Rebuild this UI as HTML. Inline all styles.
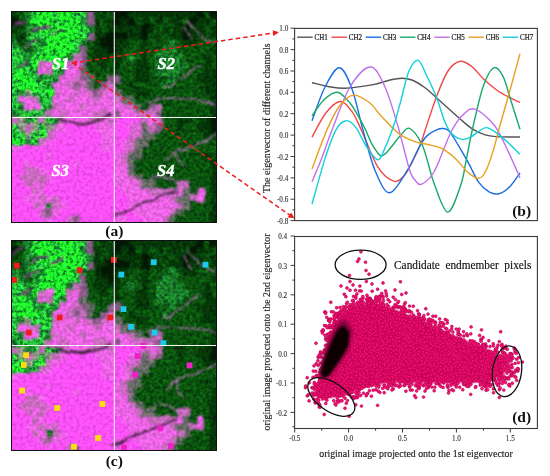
<!DOCTYPE html>
<html><head><meta charset="utf-8"><title>Figure</title><style>
html,body{margin:0;padding:0;background:#fff;}
svg{display:block;}
text{font-family:"Liberation Serif","Times New Roman",serif;fill:#222;}
.tk{font-size:7.2px;fill:#333;stroke:#333;stroke-width:0.12px;}
.lg{font-size:7px;fill:#222;stroke:#222;stroke-width:0.2px;}
.pl{font-size:15.5px;font-weight:bold;fill:#111;}
.yt{font-size:10px;fill:#222;stroke:#222;stroke-width:0.15px;}
.xt{font-size:9.9px;fill:#222;stroke:#222;stroke-width:0.15px;}
.cand{font-size:11.3px;fill:#111;white-space:pre;stroke:#111;stroke-width:0.15px;}
.sl{font-size:16.5px;font-weight:bold;font-style:italic;fill:#fff;stroke:#fff;stroke-width:0.4px;}
</style></head>
<body><svg width="550" height="476" viewBox="0 0 550 476">
<defs>
<filter id="texa" filterUnits="userSpaceOnUse" x="-1" y="-1" width="230" height="236" color-interpolation-filters="sRGB">
<feTurbulence type="fractalNoise" baseFrequency="0.07" numOctaves="2" seed="6" result="dn"/>
<feDisplacementMap in="SourceGraphic" in2="dn" scale="7.0" xChannelSelector="R" yChannelSelector="G" result="disp"/>
<feGaussianBlur in="disp" stdDeviation="1.2" result="b"/>
<feTurbulence type="fractalNoise" baseFrequency="0.3" numOctaves="3" seed="5" result="n"/>
<feColorMatrix in="n" type="matrix" values="1 0 0 0 0  0.75 0.25 0 0 0  0.45 0 0.55 0 0  0 0 0 0 1" result="ng0"/>
<feComponentTransfer in="ng0" result="ng"><feFuncR type="linear" slope="2.0" intercept="-0.5"/><feFuncG type="linear" slope="2.0" intercept="-0.5"/><feFuncB type="linear" slope="2.0" intercept="-0.5"/></feComponentTransfer>
<feComposite in="b" in2="ng" operator="arithmetic" k1="1.2" k2="0.45" k3="0" k4="0" result="tg"/>
<feColorMatrix in="ng" type="matrix" values="1 0 0 0 0  1 0 0 0 0  1 0 0 0 0  0 0 0 0 1" result="ngray"/>
<feComposite in="b" in2="ngray" operator="arithmetic" k1="0.24" k2="0.9" k3="0" k4="0" result="tp"/>
<feComposite in="b" in2="ng" operator="arithmetic" k1="0.85" k2="0.56" k3="0" k4="0" result="td"/>
<feColorMatrix in="b" type="matrix" values="0 0 0 0 0  0 0 0 0 0  0 0 0 0 0  -3 3 0 0 0.3" result="mask"/>
<feColorMatrix in="b" type="matrix" values="0 0 0 0 0  0 0 0 0 0  0 0 0 0 0  -3 3.2 0 0 -1.0" result="maskg"/>
<feComposite in="td" in2="mask" operator="in" result="tdm"/>
<feComposite in="tg" in2="maskg" operator="in" result="tgm"/>
<feComposite in="tdm" in2="tp" operator="over" result="l1"/>
<feComposite in="tgm" in2="l1" operator="over"/>
</filter>
<filter id="texc" filterUnits="userSpaceOnUse" x="-1" y="228" width="230" height="235" color-interpolation-filters="sRGB">
<feTurbulence type="fractalNoise" baseFrequency="0.07" numOctaves="2" seed="6" result="dn"/>
<feDisplacementMap in="SourceGraphic" in2="dn" scale="7.0" xChannelSelector="R" yChannelSelector="G" result="disp"/>
<feGaussianBlur in="disp" stdDeviation="1.2" result="b"/>
<feTurbulence type="fractalNoise" baseFrequency="0.3" numOctaves="3" seed="5" result="n"/>
<feColorMatrix in="n" type="matrix" values="1 0 0 0 0  0.75 0.25 0 0 0  0.45 0 0.55 0 0  0 0 0 0 1" result="ng0"/>
<feComponentTransfer in="ng0" result="ng"><feFuncR type="linear" slope="2.0" intercept="-0.5"/><feFuncG type="linear" slope="2.0" intercept="-0.5"/><feFuncB type="linear" slope="2.0" intercept="-0.5"/></feComponentTransfer>
<feComposite in="b" in2="ng" operator="arithmetic" k1="1.2" k2="0.45" k3="0" k4="0" result="tg"/>
<feColorMatrix in="ng" type="matrix" values="1 0 0 0 0  1 0 0 0 0  1 0 0 0 0  0 0 0 0 1" result="ngray"/>
<feComposite in="b" in2="ngray" operator="arithmetic" k1="0.24" k2="0.9" k3="0" k4="0" result="tp"/>
<feComposite in="b" in2="ng" operator="arithmetic" k1="0.85" k2="0.56" k3="0" k4="0" result="td"/>
<feColorMatrix in="b" type="matrix" values="0 0 0 0 0  0 0 0 0 0  0 0 0 0 0  -3 3 0 0 0.3" result="mask"/>
<feColorMatrix in="b" type="matrix" values="0 0 0 0 0  0 0 0 0 0  0 0 0 0 0  -3 3.2 0 0 -1.0" result="maskg"/>
<feComposite in="td" in2="mask" operator="in" result="tdm"/>
<feComposite in="tg" in2="maskg" operator="in" result="tgm"/>
<feComposite in="tdm" in2="tp" operator="over" result="l1"/>
<feComposite in="tgm" in2="l1" operator="over"/>
</filter>
<filter id="coreblur" x="-50%" y="-50%" width="200%" height="200%"><feGaussianBlur stdDeviation="1.2"/></filter>
<filter id="haloblur" x="-50%" y="-50%" width="200%" height="200%"><feGaussianBlur stdDeviation="2"/></filter>
<marker id="ah" markerWidth="6" markerHeight="6" refX="5" refY="3" orient="auto" markerUnits="userSpaceOnUse"><path d="M0,0 L6,3 L0,6 Z" fill="#ee1c1c"/></marker>
</defs>
<rect width="550" height="476" fill="#fff"/>
<clipPath id="clipa"><rect x="11" y="11" width="206" height="212"/></clipPath>
<g clip-path="url(#clipa)"><g filter="url(#texa)">
<path fill="#053808" d="M-2.7,-3.1h7.4v7.6h-7.4zM4.1,-3.1h7.4v7.6h-7.4zM11.0,-3.1h7.4v7.6h-7.4zM100.3,-3.1h7.4v7.6h-7.4zM127.7,-3.1h7.4v7.6h-7.4zM134.6,-3.1h7.4v7.6h-7.4zM141.5,-3.1h7.4v7.6h-7.4zM148.3,-3.1h7.4v7.6h-7.4zM155.2,-3.1h7.4v7.6h-7.4zM162.1,-3.1h7.4v7.6h-7.4zM168.9,-3.1h7.4v7.6h-7.4zM175.8,-3.1h7.4v7.6h-7.4zM182.7,-3.1h7.4v7.6h-7.4zM189.5,-3.1h7.4v7.6h-7.4zM-2.7,3.9h7.4v7.6h-7.4zM4.1,3.9h7.4v7.6h-7.4zM11.0,3.9h7.4v7.6h-7.4zM100.3,3.9h7.4v7.6h-7.4zM127.7,3.9h7.4v7.6h-7.4zM134.6,3.9h7.4v7.6h-7.4zM141.5,3.9h7.4v7.6h-7.4zM148.3,3.9h7.4v7.6h-7.4zM155.2,3.9h7.4v7.6h-7.4zM162.1,3.9h7.4v7.6h-7.4zM168.9,3.9h7.4v7.6h-7.4zM175.8,3.9h7.4v7.6h-7.4zM182.7,3.9h7.4v7.6h-7.4zM189.5,3.9h7.4v7.6h-7.4zM-2.7,11.0h7.4v7.6h-7.4zM4.1,11.0h7.4v7.6h-7.4zM11.0,11.0h7.4v7.6h-7.4zM100.3,11.0h7.4v7.6h-7.4zM127.7,11.0h7.4v7.6h-7.4zM134.6,11.0h7.4v7.6h-7.4zM141.5,11.0h7.4v7.6h-7.4zM148.3,11.0h7.4v7.6h-7.4zM155.2,11.0h7.4v7.6h-7.4zM162.1,11.0h7.4v7.6h-7.4zM168.9,11.0h7.4v7.6h-7.4zM175.8,11.0h7.4v7.6h-7.4zM182.7,11.0h7.4v7.6h-7.4zM189.5,11.0h7.4v7.6h-7.4zM17.9,18.1h7.4v7.6h-7.4zM93.4,18.1h7.4v7.6h-7.4zM107.1,18.1h7.4v7.6h-7.4zM120.9,18.1h7.4v7.6h-7.4zM141.5,18.1h7.4v7.6h-7.4zM155.2,18.1h7.4v7.6h-7.4zM168.9,18.1h7.4v7.6h-7.4zM175.8,18.1h7.4v7.6h-7.4zM196.4,18.1h7.4v7.6h-7.4zM203.3,18.1h7.4v7.6h-7.4zM-2.7,25.1h7.4v7.6h-7.4zM4.1,25.1h7.4v7.6h-7.4zM11.0,25.1h7.4v7.6h-7.4zM93.4,25.1h7.4v7.6h-7.4zM107.1,25.1h7.4v7.6h-7.4zM114.0,25.1h7.4v7.6h-7.4zM120.9,25.1h7.4v7.6h-7.4zM127.7,25.1h7.4v7.6h-7.4zM134.6,25.1h7.4v7.6h-7.4zM148.3,25.1h7.4v7.6h-7.4zM162.1,25.1h7.4v7.6h-7.4zM175.8,25.1h7.4v7.6h-7.4zM189.5,25.1h7.4v7.6h-7.4zM196.4,25.1h7.4v7.6h-7.4zM210.1,25.1h7.4v7.6h-7.4zM217.0,25.1h7.4v7.6h-7.4zM223.9,25.1h7.4v7.6h-7.4zM17.9,32.2h7.4v7.6h-7.4zM93.4,32.2h7.4v7.6h-7.4zM100.3,32.2h7.4v7.6h-7.4zM127.7,32.2h7.4v7.6h-7.4zM134.6,32.2h7.4v7.6h-7.4zM155.2,32.2h7.4v7.6h-7.4zM168.9,32.2h7.4v7.6h-7.4zM175.8,32.2h7.4v7.6h-7.4zM189.5,32.2h7.4v7.6h-7.4zM196.4,32.2h7.4v7.6h-7.4zM210.1,32.2h7.4v7.6h-7.4zM217.0,32.2h7.4v7.6h-7.4zM223.9,32.2h7.4v7.6h-7.4zM93.4,39.3h7.4v7.6h-7.4zM114.0,39.3h7.4v7.6h-7.4zM120.9,39.3h7.4v7.6h-7.4zM141.5,39.3h7.4v7.6h-7.4zM182.7,39.3h7.4v7.6h-7.4zM189.5,39.3h7.4v7.6h-7.4zM93.4,46.3h7.4v7.6h-7.4zM100.3,46.3h7.4v7.6h-7.4zM114.0,46.3h7.4v7.6h-7.4zM141.5,46.3h7.4v7.6h-7.4zM210.1,46.3h7.4v7.6h-7.4zM217.0,46.3h7.4v7.6h-7.4zM223.9,46.3h7.4v7.6h-7.4zM93.4,53.4h7.4v7.6h-7.4zM100.3,53.4h7.4v7.6h-7.4zM107.1,53.4h7.4v7.6h-7.4zM114.0,53.4h7.4v7.6h-7.4zM141.5,53.4h7.4v7.6h-7.4zM203.3,53.4h7.4v7.6h-7.4zM100.3,60.5h7.4v7.6h-7.4zM114.0,60.5h7.4v7.6h-7.4zM134.6,60.5h7.4v7.6h-7.4zM141.5,60.5h7.4v7.6h-7.4zM203.3,60.5h7.4v7.6h-7.4zM114.0,67.5h7.4v7.6h-7.4zM134.6,67.5h7.4v7.6h-7.4zM141.5,67.5h7.4v7.6h-7.4zM203.3,67.5h7.4v7.6h-7.4zM210.1,67.5h7.4v7.6h-7.4zM217.0,67.5h7.4v7.6h-7.4zM223.9,67.5h7.4v7.6h-7.4zM134.6,74.6h7.4v7.6h-7.4zM141.5,74.6h7.4v7.6h-7.4zM196.4,74.6h7.4v7.6h-7.4zM203.3,74.6h7.4v7.6h-7.4zM210.1,74.6h7.4v7.6h-7.4zM217.0,74.6h7.4v7.6h-7.4zM223.9,74.6h7.4v7.6h-7.4zM127.7,81.7h7.4v7.6h-7.4zM203.3,81.7h7.4v7.6h-7.4zM210.1,81.7h7.4v7.6h-7.4zM217.0,81.7h7.4v7.6h-7.4zM223.9,81.7h7.4v7.6h-7.4zM134.6,88.7h7.4v7.6h-7.4zM141.5,88.7h7.4v7.6h-7.4zM203.3,88.7h7.4v7.6h-7.4zM210.1,88.7h7.4v7.6h-7.4zM217.0,88.7h7.4v7.6h-7.4zM223.9,88.7h7.4v7.6h-7.4zM210.1,95.8h7.4v7.6h-7.4zM217.0,95.8h7.4v7.6h-7.4zM223.9,95.8h7.4v7.6h-7.4zM210.1,102.9h7.4v7.6h-7.4zM217.0,102.9h7.4v7.6h-7.4zM223.9,102.9h7.4v7.6h-7.4zM210.1,109.9h7.4v7.6h-7.4zM217.0,109.9h7.4v7.6h-7.4zM223.9,109.9h7.4v7.6h-7.4zM175.8,117.0h7.4v7.6h-7.4zM182.7,117.0h7.4v7.6h-7.4zM196.4,117.0h7.4v7.6h-7.4zM203.3,117.0h7.4v7.6h-7.4zM175.8,124.1h7.4v7.6h-7.4zM196.4,124.1h7.4v7.6h-7.4zM203.3,124.1h7.4v7.6h-7.4zM203.3,131.1h7.4v7.6h-7.4zM210.1,131.1h7.4v7.6h-7.4zM217.0,131.1h7.4v7.6h-7.4zM223.9,131.1h7.4v7.6h-7.4zM203.3,152.3h7.4v7.6h-7.4zM210.1,159.4h7.4v7.6h-7.4zM217.0,159.4h7.4v7.6h-7.4zM223.9,159.4h7.4v7.6h-7.4zM210.1,166.5h7.4v7.6h-7.4zM217.0,166.5h7.4v7.6h-7.4zM223.9,166.5h7.4v7.6h-7.4zM210.1,173.5h7.4v7.6h-7.4zM217.0,173.5h7.4v7.6h-7.4zM223.9,173.5h7.4v7.6h-7.4zM210.1,180.6h7.4v7.6h-7.4zM217.0,180.6h7.4v7.6h-7.4zM223.9,180.6h7.4v7.6h-7.4zM210.1,187.7h7.4v7.6h-7.4zM217.0,187.7h7.4v7.6h-7.4zM223.9,187.7h7.4v7.6h-7.4zM210.1,194.7h7.4v7.6h-7.4zM217.0,194.7h7.4v7.6h-7.4zM223.9,194.7h7.4v7.6h-7.4zM210.1,201.8h7.4v7.6h-7.4zM217.0,201.8h7.4v7.6h-7.4zM223.9,201.8h7.4v7.6h-7.4zM210.1,208.9h7.4v7.6h-7.4zM217.0,208.9h7.4v7.6h-7.4zM223.9,208.9h7.4v7.6h-7.4zM210.1,215.9h7.4v7.6h-7.4zM217.0,215.9h7.4v7.6h-7.4zM223.9,215.9h7.4v7.6h-7.4zM210.1,223.0h7.4v7.6h-7.4zM217.0,223.0h7.4v7.6h-7.4zM223.9,223.0h7.4v7.6h-7.4zM210.1,230.1h7.4v7.6h-7.4zM217.0,230.1h7.4v7.6h-7.4zM223.9,230.1h7.4v7.6h-7.4z"/>
<path fill="#0a540e" d="M17.9,-3.1h7.4v7.6h-7.4zM93.4,-3.1h7.4v7.6h-7.4zM107.1,-3.1h7.4v7.6h-7.4zM203.3,-3.1h7.4v7.6h-7.4zM17.9,3.9h7.4v7.6h-7.4zM93.4,3.9h7.4v7.6h-7.4zM107.1,3.9h7.4v7.6h-7.4zM203.3,3.9h7.4v7.6h-7.4zM17.9,11.0h7.4v7.6h-7.4zM93.4,11.0h7.4v7.6h-7.4zM107.1,11.0h7.4v7.6h-7.4zM203.3,11.0h7.4v7.6h-7.4zM100.3,18.1h7.4v7.6h-7.4zM134.6,18.1h7.4v7.6h-7.4zM148.3,18.1h7.4v7.6h-7.4zM162.1,18.1h7.4v7.6h-7.4zM182.7,18.1h7.4v7.6h-7.4zM210.1,18.1h7.4v7.6h-7.4zM217.0,18.1h7.4v7.6h-7.4zM223.9,18.1h7.4v7.6h-7.4zM17.9,25.1h7.4v7.6h-7.4zM100.3,25.1h7.4v7.6h-7.4zM155.2,25.1h7.4v7.6h-7.4zM168.9,25.1h7.4v7.6h-7.4zM203.3,25.1h7.4v7.6h-7.4zM-2.7,32.2h7.4v7.6h-7.4zM4.1,32.2h7.4v7.6h-7.4zM11.0,32.2h7.4v7.6h-7.4zM148.3,32.2h7.4v7.6h-7.4zM162.1,32.2h7.4v7.6h-7.4zM203.3,32.2h7.4v7.6h-7.4zM17.9,39.3h7.4v7.6h-7.4zM86.5,39.3h7.4v7.6h-7.4zM127.7,39.3h7.4v7.6h-7.4zM134.6,39.3h7.4v7.6h-7.4zM148.3,39.3h7.4v7.6h-7.4zM155.2,39.3h7.4v7.6h-7.4zM162.1,39.3h7.4v7.6h-7.4zM175.8,39.3h7.4v7.6h-7.4zM196.4,39.3h7.4v7.6h-7.4zM203.3,39.3h7.4v7.6h-7.4zM210.1,39.3h7.4v7.6h-7.4zM217.0,39.3h7.4v7.6h-7.4zM223.9,39.3h7.4v7.6h-7.4zM24.7,46.3h7.4v7.6h-7.4zM86.5,46.3h7.4v7.6h-7.4zM120.9,46.3h7.4v7.6h-7.4zM127.7,46.3h7.4v7.6h-7.4zM134.6,46.3h7.4v7.6h-7.4zM148.3,46.3h7.4v7.6h-7.4zM155.2,46.3h7.4v7.6h-7.4zM175.8,46.3h7.4v7.6h-7.4zM182.7,46.3h7.4v7.6h-7.4zM189.5,46.3h7.4v7.6h-7.4zM196.4,46.3h7.4v7.6h-7.4zM203.3,46.3h7.4v7.6h-7.4zM86.5,53.4h7.4v7.6h-7.4zM120.9,53.4h7.4v7.6h-7.4zM134.6,53.4h7.4v7.6h-7.4zM148.3,53.4h7.4v7.6h-7.4zM182.7,53.4h7.4v7.6h-7.4zM189.5,53.4h7.4v7.6h-7.4zM196.4,53.4h7.4v7.6h-7.4zM210.1,53.4h7.4v7.6h-7.4zM217.0,53.4h7.4v7.6h-7.4zM223.9,53.4h7.4v7.6h-7.4zM86.5,60.5h7.4v7.6h-7.4zM93.4,60.5h7.4v7.6h-7.4zM107.1,60.5h7.4v7.6h-7.4zM120.9,60.5h7.4v7.6h-7.4zM127.7,60.5h7.4v7.6h-7.4zM148.3,60.5h7.4v7.6h-7.4zM189.5,60.5h7.4v7.6h-7.4zM196.4,60.5h7.4v7.6h-7.4zM210.1,60.5h7.4v7.6h-7.4zM217.0,60.5h7.4v7.6h-7.4zM223.9,60.5h7.4v7.6h-7.4zM86.5,67.5h7.4v7.6h-7.4zM93.4,67.5h7.4v7.6h-7.4zM100.3,67.5h7.4v7.6h-7.4zM107.1,67.5h7.4v7.6h-7.4zM120.9,67.5h7.4v7.6h-7.4zM127.7,67.5h7.4v7.6h-7.4zM148.3,67.5h7.4v7.6h-7.4zM182.7,67.5h7.4v7.6h-7.4zM189.5,67.5h7.4v7.6h-7.4zM196.4,67.5h7.4v7.6h-7.4zM93.4,74.6h7.4v7.6h-7.4zM100.3,74.6h7.4v7.6h-7.4zM120.9,74.6h7.4v7.6h-7.4zM127.7,74.6h7.4v7.6h-7.4zM148.3,74.6h7.4v7.6h-7.4zM155.2,74.6h7.4v7.6h-7.4zM162.1,74.6h7.4v7.6h-7.4zM175.8,74.6h7.4v7.6h-7.4zM182.7,74.6h7.4v7.6h-7.4zM189.5,74.6h7.4v7.6h-7.4zM93.4,81.7h7.4v7.6h-7.4zM114.0,81.7h7.4v7.6h-7.4zM120.9,81.7h7.4v7.6h-7.4zM134.6,81.7h7.4v7.6h-7.4zM141.5,81.7h7.4v7.6h-7.4zM148.3,81.7h7.4v7.6h-7.4zM155.2,81.7h7.4v7.6h-7.4zM168.9,81.7h7.4v7.6h-7.4zM175.8,81.7h7.4v7.6h-7.4zM182.7,81.7h7.4v7.6h-7.4zM189.5,81.7h7.4v7.6h-7.4zM196.4,81.7h7.4v7.6h-7.4zM120.9,88.7h7.4v7.6h-7.4zM127.7,88.7h7.4v7.6h-7.4zM148.3,88.7h7.4v7.6h-7.4zM155.2,88.7h7.4v7.6h-7.4zM162.1,88.7h7.4v7.6h-7.4zM168.9,88.7h7.4v7.6h-7.4zM175.8,88.7h7.4v7.6h-7.4zM182.7,88.7h7.4v7.6h-7.4zM189.5,88.7h7.4v7.6h-7.4zM196.4,88.7h7.4v7.6h-7.4zM134.6,95.8h7.4v7.6h-7.4zM141.5,95.8h7.4v7.6h-7.4zM148.3,95.8h7.4v7.6h-7.4zM155.2,95.8h7.4v7.6h-7.4zM162.1,95.8h7.4v7.6h-7.4zM168.9,95.8h7.4v7.6h-7.4zM175.8,95.8h7.4v7.6h-7.4zM182.7,95.8h7.4v7.6h-7.4zM189.5,95.8h7.4v7.6h-7.4zM196.4,95.8h7.4v7.6h-7.4zM203.3,95.8h7.4v7.6h-7.4zM141.5,102.9h7.4v7.6h-7.4zM162.1,102.9h7.4v7.6h-7.4zM168.9,102.9h7.4v7.6h-7.4zM175.8,102.9h7.4v7.6h-7.4zM182.7,102.9h7.4v7.6h-7.4zM189.5,102.9h7.4v7.6h-7.4zM196.4,102.9h7.4v7.6h-7.4zM203.3,102.9h7.4v7.6h-7.4zM162.1,109.9h7.4v7.6h-7.4zM168.9,109.9h7.4v7.6h-7.4zM175.8,109.9h7.4v7.6h-7.4zM182.7,109.9h7.4v7.6h-7.4zM189.5,109.9h7.4v7.6h-7.4zM196.4,109.9h7.4v7.6h-7.4zM203.3,109.9h7.4v7.6h-7.4zM162.1,117.0h7.4v7.6h-7.4zM168.9,117.0h7.4v7.6h-7.4zM189.5,117.0h7.4v7.6h-7.4zM162.1,124.1h7.4v7.6h-7.4zM168.9,124.1h7.4v7.6h-7.4zM182.7,124.1h7.4v7.6h-7.4zM189.5,124.1h7.4v7.6h-7.4zM155.2,131.1h7.4v7.6h-7.4zM162.1,131.1h7.4v7.6h-7.4zM168.9,131.1h7.4v7.6h-7.4zM175.8,131.1h7.4v7.6h-7.4zM182.7,131.1h7.4v7.6h-7.4zM189.5,131.1h7.4v7.6h-7.4zM196.4,131.1h7.4v7.6h-7.4zM148.3,138.2h7.4v7.6h-7.4zM155.2,138.2h7.4v7.6h-7.4zM162.1,138.2h7.4v7.6h-7.4zM168.9,138.2h7.4v7.6h-7.4zM175.8,138.2h7.4v7.6h-7.4zM182.7,138.2h7.4v7.6h-7.4zM189.5,138.2h7.4v7.6h-7.4zM196.4,138.2h7.4v7.6h-7.4zM203.3,138.2h7.4v7.6h-7.4zM210.1,138.2h7.4v7.6h-7.4zM217.0,138.2h7.4v7.6h-7.4zM223.9,138.2h7.4v7.6h-7.4zM141.5,145.3h7.4v7.6h-7.4zM148.3,145.3h7.4v7.6h-7.4zM155.2,145.3h7.4v7.6h-7.4zM162.1,145.3h7.4v7.6h-7.4zM168.9,145.3h7.4v7.6h-7.4zM175.8,145.3h7.4v7.6h-7.4zM182.7,145.3h7.4v7.6h-7.4zM189.5,145.3h7.4v7.6h-7.4zM196.4,145.3h7.4v7.6h-7.4zM203.3,145.3h7.4v7.6h-7.4zM210.1,145.3h7.4v7.6h-7.4zM217.0,145.3h7.4v7.6h-7.4zM223.9,145.3h7.4v7.6h-7.4zM141.5,152.3h7.4v7.6h-7.4zM148.3,152.3h7.4v7.6h-7.4zM155.2,152.3h7.4v7.6h-7.4zM162.1,152.3h7.4v7.6h-7.4zM168.9,152.3h7.4v7.6h-7.4zM175.8,152.3h7.4v7.6h-7.4zM182.7,152.3h7.4v7.6h-7.4zM189.5,152.3h7.4v7.6h-7.4zM196.4,152.3h7.4v7.6h-7.4zM210.1,152.3h7.4v7.6h-7.4zM217.0,152.3h7.4v7.6h-7.4zM223.9,152.3h7.4v7.6h-7.4zM134.6,159.4h7.4v7.6h-7.4zM141.5,159.4h7.4v7.6h-7.4zM148.3,159.4h7.4v7.6h-7.4zM155.2,159.4h7.4v7.6h-7.4zM162.1,159.4h7.4v7.6h-7.4zM168.9,159.4h7.4v7.6h-7.4zM175.8,159.4h7.4v7.6h-7.4zM182.7,159.4h7.4v7.6h-7.4zM189.5,159.4h7.4v7.6h-7.4zM196.4,159.4h7.4v7.6h-7.4zM203.3,159.4h7.4v7.6h-7.4zM134.6,166.5h7.4v7.6h-7.4zM141.5,166.5h7.4v7.6h-7.4zM148.3,166.5h7.4v7.6h-7.4zM155.2,166.5h7.4v7.6h-7.4zM162.1,166.5h7.4v7.6h-7.4zM168.9,166.5h7.4v7.6h-7.4zM175.8,166.5h7.4v7.6h-7.4zM182.7,166.5h7.4v7.6h-7.4zM189.5,166.5h7.4v7.6h-7.4zM196.4,166.5h7.4v7.6h-7.4zM203.3,166.5h7.4v7.6h-7.4zM141.5,173.5h7.4v7.6h-7.4zM148.3,173.5h7.4v7.6h-7.4zM155.2,173.5h7.4v7.6h-7.4zM162.1,173.5h7.4v7.6h-7.4zM168.9,173.5h7.4v7.6h-7.4zM175.8,173.5h7.4v7.6h-7.4zM182.7,173.5h7.4v7.6h-7.4zM189.5,173.5h7.4v7.6h-7.4zM196.4,173.5h7.4v7.6h-7.4zM203.3,173.5h7.4v7.6h-7.4zM155.2,180.6h7.4v7.6h-7.4zM162.1,180.6h7.4v7.6h-7.4zM168.9,180.6h7.4v7.6h-7.4zM189.5,180.6h7.4v7.6h-7.4zM196.4,180.6h7.4v7.6h-7.4zM203.3,180.6h7.4v7.6h-7.4zM189.5,187.7h7.4v7.6h-7.4zM203.3,187.7h7.4v7.6h-7.4zM203.3,194.7h7.4v7.6h-7.4zM189.5,201.8h7.4v7.6h-7.4zM196.4,201.8h7.4v7.6h-7.4zM203.3,201.8h7.4v7.6h-7.4zM182.7,208.9h7.4v7.6h-7.4zM189.5,208.9h7.4v7.6h-7.4zM196.4,208.9h7.4v7.6h-7.4zM203.3,208.9h7.4v7.6h-7.4zM175.8,215.9h7.4v7.6h-7.4zM182.7,215.9h7.4v7.6h-7.4zM189.5,215.9h7.4v7.6h-7.4zM196.4,215.9h7.4v7.6h-7.4zM203.3,215.9h7.4v7.6h-7.4zM175.8,223.0h7.4v7.6h-7.4zM182.7,223.0h7.4v7.6h-7.4zM189.5,223.0h7.4v7.6h-7.4zM196.4,223.0h7.4v7.6h-7.4zM203.3,223.0h7.4v7.6h-7.4zM175.8,230.1h7.4v7.6h-7.4zM182.7,230.1h7.4v7.6h-7.4zM189.5,230.1h7.4v7.6h-7.4zM196.4,230.1h7.4v7.6h-7.4zM203.3,230.1h7.4v7.6h-7.4z"/>
<path fill="#197d2a" d="M24.7,-3.1h7.4v7.6h-7.4zM24.7,3.9h7.4v7.6h-7.4zM24.7,11.0h7.4v7.6h-7.4zM24.7,18.1h7.4v7.6h-7.4zM79.7,18.1h7.4v7.6h-7.4zM24.7,25.1h7.4v7.6h-7.4zM31.6,25.1h7.4v7.6h-7.4zM86.5,25.1h7.4v7.6h-7.4zM24.7,32.2h7.4v7.6h-7.4zM-2.7,39.3h7.4v7.6h-7.4zM4.1,39.3h7.4v7.6h-7.4zM11.0,39.3h7.4v7.6h-7.4zM24.7,39.3h7.4v7.6h-7.4zM38.5,39.3h7.4v7.6h-7.4zM79.7,39.3h7.4v7.6h-7.4zM168.9,39.3h7.4v7.6h-7.4zM17.9,46.3h7.4v7.6h-7.4zM31.6,46.3h7.4v7.6h-7.4zM162.1,46.3h7.4v7.6h-7.4zM168.9,46.3h7.4v7.6h-7.4zM24.7,53.4h7.4v7.6h-7.4zM65.9,53.4h7.4v7.6h-7.4zM127.7,53.4h7.4v7.6h-7.4zM155.2,53.4h7.4v7.6h-7.4zM162.1,53.4h7.4v7.6h-7.4zM168.9,53.4h7.4v7.6h-7.4zM175.8,53.4h7.4v7.6h-7.4zM24.7,60.5h7.4v7.6h-7.4zM155.2,60.5h7.4v7.6h-7.4zM162.1,60.5h7.4v7.6h-7.4zM168.9,60.5h7.4v7.6h-7.4zM175.8,60.5h7.4v7.6h-7.4zM182.7,60.5h7.4v7.6h-7.4zM31.6,67.5h7.4v7.6h-7.4zM59.1,67.5h7.4v7.6h-7.4zM155.2,67.5h7.4v7.6h-7.4zM162.1,67.5h7.4v7.6h-7.4zM168.9,67.5h7.4v7.6h-7.4zM175.8,67.5h7.4v7.6h-7.4zM38.5,74.6h7.4v7.6h-7.4zM52.2,74.6h7.4v7.6h-7.4zM168.9,74.6h7.4v7.6h-7.4zM45.3,81.7h7.4v7.6h-7.4zM162.1,81.7h7.4v7.6h-7.4zM17.9,88.7h7.4v7.6h-7.4zM17.9,102.9h7.4v7.6h-7.4zM45.3,102.9h7.4v7.6h-7.4zM-2.7,109.9h7.4v7.6h-7.4zM4.1,109.9h7.4v7.6h-7.4zM11.0,109.9h7.4v7.6h-7.4zM24.7,117.0h7.4v7.6h-7.4zM52.2,117.0h7.4v7.6h-7.4zM24.7,138.2h7.4v7.6h-7.4zM45.3,201.8h7.4v7.6h-7.4z"/>
<path fill="#23b937" d="M31.6,-3.1h7.4v7.6h-7.4zM52.2,-3.1h7.4v7.6h-7.4zM72.8,-3.1h7.4v7.6h-7.4zM79.7,-3.1h7.4v7.6h-7.4zM31.6,3.9h7.4v7.6h-7.4zM52.2,3.9h7.4v7.6h-7.4zM72.8,3.9h7.4v7.6h-7.4zM79.7,3.9h7.4v7.6h-7.4zM31.6,11.0h7.4v7.6h-7.4zM52.2,11.0h7.4v7.6h-7.4zM72.8,11.0h7.4v7.6h-7.4zM79.7,11.0h7.4v7.6h-7.4zM52.2,18.1h7.4v7.6h-7.4zM45.3,25.1h7.4v7.6h-7.4zM79.7,25.1h7.4v7.6h-7.4zM31.6,32.2h7.4v7.6h-7.4zM38.5,32.2h7.4v7.6h-7.4zM79.7,32.2h7.4v7.6h-7.4zM31.6,39.3h7.4v7.6h-7.4zM72.8,39.3h7.4v7.6h-7.4zM-2.7,46.3h7.4v7.6h-7.4zM4.1,46.3h7.4v7.6h-7.4zM11.0,46.3h7.4v7.6h-7.4zM38.5,46.3h7.4v7.6h-7.4zM72.8,46.3h7.4v7.6h-7.4zM-2.7,53.4h7.4v7.6h-7.4zM4.1,53.4h7.4v7.6h-7.4zM11.0,53.4h7.4v7.6h-7.4zM17.9,53.4h7.4v7.6h-7.4zM31.6,53.4h7.4v7.6h-7.4zM-2.7,60.5h7.4v7.6h-7.4zM4.1,60.5h7.4v7.6h-7.4zM11.0,60.5h7.4v7.6h-7.4zM17.9,60.5h7.4v7.6h-7.4zM-2.7,67.5h7.4v7.6h-7.4zM4.1,67.5h7.4v7.6h-7.4zM11.0,67.5h7.4v7.6h-7.4zM24.7,67.5h7.4v7.6h-7.4zM52.2,67.5h7.4v7.6h-7.4zM-2.7,74.6h7.4v7.6h-7.4zM4.1,74.6h7.4v7.6h-7.4zM11.0,74.6h7.4v7.6h-7.4zM31.6,74.6h7.4v7.6h-7.4zM45.3,74.6h7.4v7.6h-7.4zM-2.7,81.7h7.4v7.6h-7.4zM4.1,81.7h7.4v7.6h-7.4zM11.0,81.7h7.4v7.6h-7.4zM38.5,81.7h7.4v7.6h-7.4zM-2.7,88.7h7.4v7.6h-7.4zM4.1,88.7h7.4v7.6h-7.4zM11.0,88.7h7.4v7.6h-7.4zM31.6,88.7h7.4v7.6h-7.4zM38.5,88.7h7.4v7.6h-7.4zM-2.7,95.8h7.4v7.6h-7.4zM4.1,95.8h7.4v7.6h-7.4zM11.0,95.8h7.4v7.6h-7.4zM38.5,95.8h7.4v7.6h-7.4zM45.3,95.8h7.4v7.6h-7.4zM-2.7,102.9h7.4v7.6h-7.4zM4.1,102.9h7.4v7.6h-7.4zM11.0,102.9h7.4v7.6h-7.4zM38.5,102.9h7.4v7.6h-7.4zM17.9,109.9h7.4v7.6h-7.4zM24.7,109.9h7.4v7.6h-7.4zM31.6,109.9h7.4v7.6h-7.4zM38.5,109.9h7.4v7.6h-7.4zM31.6,117.0h7.4v7.6h-7.4zM45.3,117.0h7.4v7.6h-7.4zM-2.7,124.1h7.4v7.6h-7.4zM4.1,124.1h7.4v7.6h-7.4zM11.0,124.1h7.4v7.6h-7.4zM38.5,124.1h7.4v7.6h-7.4zM-2.7,131.1h7.4v7.6h-7.4zM4.1,131.1h7.4v7.6h-7.4zM11.0,131.1h7.4v7.6h-7.4zM17.9,131.1h7.4v7.6h-7.4zM31.6,131.1h7.4v7.6h-7.4zM31.6,138.2h7.4v7.6h-7.4z"/>
<path fill="#1ce128" d="M38.5,-3.1h7.4v7.6h-7.4zM45.3,-3.1h7.4v7.6h-7.4zM59.1,-3.1h7.4v7.6h-7.4zM65.9,-3.1h7.4v7.6h-7.4zM38.5,3.9h7.4v7.6h-7.4zM45.3,3.9h7.4v7.6h-7.4zM59.1,3.9h7.4v7.6h-7.4zM65.9,3.9h7.4v7.6h-7.4zM38.5,11.0h7.4v7.6h-7.4zM45.3,11.0h7.4v7.6h-7.4zM59.1,11.0h7.4v7.6h-7.4zM65.9,11.0h7.4v7.6h-7.4zM31.6,18.1h7.4v7.6h-7.4zM38.5,18.1h7.4v7.6h-7.4zM45.3,18.1h7.4v7.6h-7.4zM59.1,18.1h7.4v7.6h-7.4zM65.9,18.1h7.4v7.6h-7.4zM72.8,18.1h7.4v7.6h-7.4zM38.5,25.1h7.4v7.6h-7.4zM52.2,25.1h7.4v7.6h-7.4zM59.1,25.1h7.4v7.6h-7.4zM65.9,25.1h7.4v7.6h-7.4zM72.8,25.1h7.4v7.6h-7.4zM45.3,32.2h7.4v7.6h-7.4zM52.2,32.2h7.4v7.6h-7.4zM59.1,32.2h7.4v7.6h-7.4zM65.9,32.2h7.4v7.6h-7.4zM72.8,32.2h7.4v7.6h-7.4zM45.3,39.3h7.4v7.6h-7.4zM52.2,39.3h7.4v7.6h-7.4zM59.1,39.3h7.4v7.6h-7.4zM65.9,39.3h7.4v7.6h-7.4zM45.3,46.3h7.4v7.6h-7.4zM52.2,46.3h7.4v7.6h-7.4zM59.1,46.3h7.4v7.6h-7.4zM65.9,46.3h7.4v7.6h-7.4zM38.5,53.4h7.4v7.6h-7.4zM45.3,53.4h7.4v7.6h-7.4zM52.2,53.4h7.4v7.6h-7.4zM59.1,53.4h7.4v7.6h-7.4zM31.6,60.5h7.4v7.6h-7.4zM52.2,60.5h7.4v7.6h-7.4zM59.1,60.5h7.4v7.6h-7.4zM17.9,67.5h7.4v7.6h-7.4zM17.9,74.6h7.4v7.6h-7.4zM24.7,74.6h7.4v7.6h-7.4zM17.9,81.7h7.4v7.6h-7.4zM24.7,81.7h7.4v7.6h-7.4zM31.6,81.7h7.4v7.6h-7.4zM45.3,88.7h7.4v7.6h-7.4zM38.5,131.1h7.4v7.6h-7.4zM-2.7,138.2h7.4v7.6h-7.4zM4.1,138.2h7.4v7.6h-7.4zM11.0,138.2h7.4v7.6h-7.4zM17.9,138.2h7.4v7.6h-7.4z"/>
<path fill="#875a87" d="M86.5,-3.1h7.4v7.6h-7.4zM86.5,3.9h7.4v7.6h-7.4zM86.5,11.0h7.4v7.6h-7.4zM86.5,18.1h7.4v7.6h-7.4zM86.5,32.2h7.4v7.6h-7.4zM79.7,46.3h7.4v7.6h-7.4zM79.7,53.4h7.4v7.6h-7.4zM79.7,60.5h7.4v7.6h-7.4zM79.7,74.6h7.4v7.6h-7.4zM107.1,74.6h7.4v7.6h-7.4zM114.0,74.6h7.4v7.6h-7.4zM72.8,81.7h7.4v7.6h-7.4zM100.3,81.7h7.4v7.6h-7.4zM93.4,88.7h7.4v7.6h-7.4zM148.3,102.9h7.4v7.6h-7.4zM114.0,109.9h7.4v7.6h-7.4zM155.2,109.9h7.4v7.6h-7.4zM155.2,124.1h7.4v7.6h-7.4zM45.3,208.9h7.4v7.6h-7.4zM72.8,215.9h7.4v7.6h-7.4zM72.8,223.0h7.4v7.6h-7.4zM72.8,230.1h7.4v7.6h-7.4z"/>
<path fill="#021804" d="M114.0,-3.1h7.4v7.6h-7.4zM120.9,-3.1h7.4v7.6h-7.4zM196.4,-3.1h7.4v7.6h-7.4zM210.1,-3.1h7.4v7.6h-7.4zM217.0,-3.1h7.4v7.6h-7.4zM223.9,-3.1h7.4v7.6h-7.4zM114.0,3.9h7.4v7.6h-7.4zM120.9,3.9h7.4v7.6h-7.4zM196.4,3.9h7.4v7.6h-7.4zM210.1,3.9h7.4v7.6h-7.4zM217.0,3.9h7.4v7.6h-7.4zM223.9,3.9h7.4v7.6h-7.4zM114.0,11.0h7.4v7.6h-7.4zM120.9,11.0h7.4v7.6h-7.4zM196.4,11.0h7.4v7.6h-7.4zM210.1,11.0h7.4v7.6h-7.4zM217.0,11.0h7.4v7.6h-7.4zM223.9,11.0h7.4v7.6h-7.4zM-2.7,18.1h7.4v7.6h-7.4zM4.1,18.1h7.4v7.6h-7.4zM11.0,18.1h7.4v7.6h-7.4zM114.0,18.1h7.4v7.6h-7.4zM127.7,18.1h7.4v7.6h-7.4zM189.5,18.1h7.4v7.6h-7.4zM141.5,25.1h7.4v7.6h-7.4zM182.7,25.1h7.4v7.6h-7.4zM107.1,32.2h7.4v7.6h-7.4zM114.0,32.2h7.4v7.6h-7.4zM120.9,32.2h7.4v7.6h-7.4zM141.5,32.2h7.4v7.6h-7.4zM182.7,32.2h7.4v7.6h-7.4zM100.3,39.3h7.4v7.6h-7.4zM107.1,39.3h7.4v7.6h-7.4zM107.1,46.3h7.4v7.6h-7.4zM210.1,117.0h7.4v7.6h-7.4zM217.0,117.0h7.4v7.6h-7.4zM223.9,117.0h7.4v7.6h-7.4zM210.1,124.1h7.4v7.6h-7.4zM217.0,124.1h7.4v7.6h-7.4zM223.9,124.1h7.4v7.6h-7.4z"/>
<path fill="#c468ba" d="M72.8,53.4h7.4v7.6h-7.4zM38.5,60.5h7.4v7.6h-7.4zM65.9,60.5h7.4v7.6h-7.4zM45.3,67.5h7.4v7.6h-7.4zM72.8,74.6h7.4v7.6h-7.4zM65.9,81.7h7.4v7.6h-7.4zM79.7,81.7h7.4v7.6h-7.4zM107.1,81.7h7.4v7.6h-7.4zM52.2,88.7h7.4v7.6h-7.4zM72.8,88.7h7.4v7.6h-7.4zM86.5,88.7h7.4v7.6h-7.4zM100.3,88.7h7.4v7.6h-7.4zM31.6,95.8h7.4v7.6h-7.4zM65.9,95.8h7.4v7.6h-7.4zM93.4,95.8h7.4v7.6h-7.4zM114.0,95.8h7.4v7.6h-7.4zM52.2,102.9h7.4v7.6h-7.4zM79.7,102.9h7.4v7.6h-7.4zM127.7,102.9h7.4v7.6h-7.4zM155.2,102.9h7.4v7.6h-7.4zM45.3,109.9h7.4v7.6h-7.4zM59.1,109.9h7.4v7.6h-7.4zM93.4,109.9h7.4v7.6h-7.4zM100.3,109.9h7.4v7.6h-7.4zM134.6,109.9h7.4v7.6h-7.4zM141.5,109.9h7.4v7.6h-7.4zM148.3,109.9h7.4v7.6h-7.4zM-2.7,117.0h7.4v7.6h-7.4zM4.1,117.0h7.4v7.6h-7.4zM11.0,117.0h7.4v7.6h-7.4zM38.5,117.0h7.4v7.6h-7.4zM59.1,117.0h7.4v7.6h-7.4zM86.5,117.0h7.4v7.6h-7.4zM93.4,117.0h7.4v7.6h-7.4zM107.1,117.0h7.4v7.6h-7.4zM141.5,117.0h7.4v7.6h-7.4zM155.2,117.0h7.4v7.6h-7.4zM24.7,124.1h7.4v7.6h-7.4zM52.2,124.1h7.4v7.6h-7.4zM148.3,124.1h7.4v7.6h-7.4zM45.3,131.1h7.4v7.6h-7.4zM134.6,131.1h7.4v7.6h-7.4zM38.5,138.2h7.4v7.6h-7.4zM127.7,138.2h7.4v7.6h-7.4zM127.7,145.3h7.4v7.6h-7.4zM120.9,152.3h7.4v7.6h-7.4zM120.9,159.4h7.4v7.6h-7.4zM24.7,166.5h7.4v7.6h-7.4zM31.6,166.5h7.4v7.6h-7.4zM17.9,173.5h7.4v7.6h-7.4zM24.7,173.5h7.4v7.6h-7.4zM31.6,173.5h7.4v7.6h-7.4zM38.5,173.5h7.4v7.6h-7.4zM127.7,173.5h7.4v7.6h-7.4zM24.7,180.6h7.4v7.6h-7.4zM38.5,180.6h7.4v7.6h-7.4zM134.6,180.6h7.4v7.6h-7.4zM175.8,180.6h7.4v7.6h-7.4zM182.7,180.6h7.4v7.6h-7.4zM31.6,187.7h7.4v7.6h-7.4zM148.3,187.7h7.4v7.6h-7.4zM155.2,187.7h7.4v7.6h-7.4zM162.1,187.7h7.4v7.6h-7.4zM168.9,187.7h7.4v7.6h-7.4zM38.5,194.7h7.4v7.6h-7.4zM52.2,194.7h7.4v7.6h-7.4zM168.9,194.7h7.4v7.6h-7.4zM189.5,194.7h7.4v7.6h-7.4zM31.6,201.8h7.4v7.6h-7.4zM52.2,201.8h7.4v7.6h-7.4zM175.8,201.8h7.4v7.6h-7.4zM38.5,208.9h7.4v7.6h-7.4zM168.9,208.9h7.4v7.6h-7.4zM65.9,215.9h7.4v7.6h-7.4zM162.1,215.9h7.4v7.6h-7.4zM65.9,223.0h7.4v7.6h-7.4zM162.1,223.0h7.4v7.6h-7.4zM65.9,230.1h7.4v7.6h-7.4zM162.1,230.1h7.4v7.6h-7.4z"/>
<path fill="#e862e2" d="M45.3,60.5h7.4v7.6h-7.4zM72.8,60.5h7.4v7.6h-7.4zM38.5,67.5h7.4v7.6h-7.4zM65.9,67.5h7.4v7.6h-7.4zM72.8,67.5h7.4v7.6h-7.4zM59.1,74.6h7.4v7.6h-7.4zM65.9,74.6h7.4v7.6h-7.4zM52.2,81.7h7.4v7.6h-7.4zM59.1,81.7h7.4v7.6h-7.4zM59.1,88.7h7.4v7.6h-7.4zM65.9,88.7h7.4v7.6h-7.4zM79.7,88.7h7.4v7.6h-7.4zM107.1,88.7h7.4v7.6h-7.4zM17.9,95.8h7.4v7.6h-7.4zM24.7,95.8h7.4v7.6h-7.4zM52.2,95.8h7.4v7.6h-7.4zM59.1,95.8h7.4v7.6h-7.4zM72.8,95.8h7.4v7.6h-7.4zM79.7,95.8h7.4v7.6h-7.4zM86.5,95.8h7.4v7.6h-7.4zM100.3,95.8h7.4v7.6h-7.4zM107.1,95.8h7.4v7.6h-7.4zM24.7,102.9h7.4v7.6h-7.4zM31.6,102.9h7.4v7.6h-7.4zM59.1,102.9h7.4v7.6h-7.4zM65.9,102.9h7.4v7.6h-7.4zM72.8,102.9h7.4v7.6h-7.4zM86.5,102.9h7.4v7.6h-7.4zM93.4,102.9h7.4v7.6h-7.4zM100.3,102.9h7.4v7.6h-7.4zM107.1,102.9h7.4v7.6h-7.4zM114.0,102.9h7.4v7.6h-7.4zM120.9,102.9h7.4v7.6h-7.4zM52.2,109.9h7.4v7.6h-7.4zM65.9,109.9h7.4v7.6h-7.4zM72.8,109.9h7.4v7.6h-7.4zM79.7,109.9h7.4v7.6h-7.4zM86.5,109.9h7.4v7.6h-7.4zM107.1,109.9h7.4v7.6h-7.4zM120.9,109.9h7.4v7.6h-7.4zM127.7,109.9h7.4v7.6h-7.4zM65.9,117.0h7.4v7.6h-7.4zM72.8,117.0h7.4v7.6h-7.4zM79.7,117.0h7.4v7.6h-7.4zM100.3,117.0h7.4v7.6h-7.4zM148.3,117.0h7.4v7.6h-7.4zM59.1,124.1h7.4v7.6h-7.4zM93.4,124.1h7.4v7.6h-7.4zM100.3,124.1h7.4v7.6h-7.4zM107.1,124.1h7.4v7.6h-7.4zM127.7,124.1h7.4v7.6h-7.4zM134.6,124.1h7.4v7.6h-7.4zM52.2,131.1h7.4v7.6h-7.4zM100.3,131.1h7.4v7.6h-7.4zM107.1,131.1h7.4v7.6h-7.4zM127.7,131.1h7.4v7.6h-7.4zM45.3,138.2h7.4v7.6h-7.4zM100.3,138.2h7.4v7.6h-7.4zM107.1,138.2h7.4v7.6h-7.4zM120.9,138.2h7.4v7.6h-7.4zM-2.7,145.3h7.4v7.6h-7.4zM4.1,145.3h7.4v7.6h-7.4zM11.0,145.3h7.4v7.6h-7.4zM100.3,145.3h7.4v7.6h-7.4zM107.1,145.3h7.4v7.6h-7.4zM120.9,145.3h7.4v7.6h-7.4zM45.3,152.3h7.4v7.6h-7.4zM114.0,152.3h7.4v7.6h-7.4zM24.7,159.4h7.4v7.6h-7.4zM72.8,159.4h7.4v7.6h-7.4zM114.0,159.4h7.4v7.6h-7.4zM38.5,166.5h7.4v7.6h-7.4zM114.0,166.5h7.4v7.6h-7.4zM120.9,166.5h7.4v7.6h-7.4zM45.3,173.5h7.4v7.6h-7.4zM114.0,173.5h7.4v7.6h-7.4zM120.9,173.5h7.4v7.6h-7.4zM31.6,180.6h7.4v7.6h-7.4zM114.0,180.6h7.4v7.6h-7.4zM120.9,180.6h7.4v7.6h-7.4zM127.7,180.6h7.4v7.6h-7.4zM38.5,187.7h7.4v7.6h-7.4zM120.9,187.7h7.4v7.6h-7.4zM127.7,187.7h7.4v7.6h-7.4zM134.6,187.7h7.4v7.6h-7.4zM141.5,187.7h7.4v7.6h-7.4zM175.8,187.7h7.4v7.6h-7.4zM196.4,187.7h7.4v7.6h-7.4zM24.7,194.7h7.4v7.6h-7.4zM31.6,194.7h7.4v7.6h-7.4zM45.3,194.7h7.4v7.6h-7.4zM127.7,194.7h7.4v7.6h-7.4zM134.6,194.7h7.4v7.6h-7.4zM141.5,194.7h7.4v7.6h-7.4zM148.3,194.7h7.4v7.6h-7.4zM155.2,194.7h7.4v7.6h-7.4zM162.1,194.7h7.4v7.6h-7.4zM196.4,194.7h7.4v7.6h-7.4zM38.5,201.8h7.4v7.6h-7.4zM59.1,201.8h7.4v7.6h-7.4zM127.7,201.8h7.4v7.6h-7.4zM134.6,201.8h7.4v7.6h-7.4zM141.5,201.8h7.4v7.6h-7.4zM148.3,201.8h7.4v7.6h-7.4zM155.2,201.8h7.4v7.6h-7.4zM162.1,201.8h7.4v7.6h-7.4zM168.9,201.8h7.4v7.6h-7.4zM52.2,208.9h7.4v7.6h-7.4zM114.0,208.9h7.4v7.6h-7.4zM134.6,208.9h7.4v7.6h-7.4zM141.5,208.9h7.4v7.6h-7.4zM148.3,208.9h7.4v7.6h-7.4zM155.2,208.9h7.4v7.6h-7.4zM162.1,208.9h7.4v7.6h-7.4zM45.3,215.9h7.4v7.6h-7.4zM114.0,215.9h7.4v7.6h-7.4zM120.9,215.9h7.4v7.6h-7.4zM141.5,215.9h7.4v7.6h-7.4zM148.3,215.9h7.4v7.6h-7.4zM155.2,215.9h7.4v7.6h-7.4zM45.3,223.0h7.4v7.6h-7.4zM114.0,223.0h7.4v7.6h-7.4zM120.9,223.0h7.4v7.6h-7.4zM141.5,223.0h7.4v7.6h-7.4zM148.3,223.0h7.4v7.6h-7.4zM155.2,223.0h7.4v7.6h-7.4zM45.3,230.1h7.4v7.6h-7.4zM114.0,230.1h7.4v7.6h-7.4zM120.9,230.1h7.4v7.6h-7.4zM141.5,230.1h7.4v7.6h-7.4zM148.3,230.1h7.4v7.6h-7.4zM155.2,230.1h7.4v7.6h-7.4z"/>
<path fill="#646964" d="M79.7,67.5h7.4v7.6h-7.4zM86.5,74.6h7.4v7.6h-7.4zM86.5,81.7h7.4v7.6h-7.4zM114.0,88.7h7.4v7.6h-7.4zM120.9,95.8h7.4v7.6h-7.4zM127.7,95.8h7.4v7.6h-7.4zM134.6,102.9h7.4v7.6h-7.4zM141.5,124.1h7.4v7.6h-7.4zM141.5,131.1h7.4v7.6h-7.4zM148.3,131.1h7.4v7.6h-7.4zM134.6,138.2h7.4v7.6h-7.4zM141.5,138.2h7.4v7.6h-7.4zM134.6,145.3h7.4v7.6h-7.4zM127.7,152.3h7.4v7.6h-7.4zM134.6,152.3h7.4v7.6h-7.4zM127.7,159.4h7.4v7.6h-7.4zM127.7,166.5h7.4v7.6h-7.4zM134.6,173.5h7.4v7.6h-7.4zM141.5,180.6h7.4v7.6h-7.4zM148.3,180.6h7.4v7.6h-7.4zM182.7,187.7h7.4v7.6h-7.4zM175.8,194.7h7.4v7.6h-7.4zM182.7,194.7h7.4v7.6h-7.4zM182.7,201.8h7.4v7.6h-7.4zM175.8,208.9h7.4v7.6h-7.4zM168.9,215.9h7.4v7.6h-7.4zM168.9,223.0h7.4v7.6h-7.4zM168.9,230.1h7.4v7.6h-7.4z"/>
<path fill="#8c9682" d="M24.7,88.7h7.4v7.6h-7.4zM17.9,117.0h7.4v7.6h-7.4zM17.9,124.1h7.4v7.6h-7.4zM31.6,124.1h7.4v7.6h-7.4zM45.3,124.1h7.4v7.6h-7.4zM24.7,131.1h7.4v7.6h-7.4z"/>
<path fill="#f84ef4" d="M114.0,117.0h7.4v7.6h-7.4zM120.9,117.0h7.4v7.6h-7.4zM127.7,117.0h7.4v7.6h-7.4zM134.6,117.0h7.4v7.6h-7.4zM65.9,124.1h7.4v7.6h-7.4zM72.8,124.1h7.4v7.6h-7.4zM79.7,124.1h7.4v7.6h-7.4zM86.5,124.1h7.4v7.6h-7.4zM114.0,124.1h7.4v7.6h-7.4zM120.9,124.1h7.4v7.6h-7.4zM59.1,131.1h7.4v7.6h-7.4zM65.9,131.1h7.4v7.6h-7.4zM72.8,131.1h7.4v7.6h-7.4zM79.7,131.1h7.4v7.6h-7.4zM86.5,131.1h7.4v7.6h-7.4zM93.4,131.1h7.4v7.6h-7.4zM114.0,131.1h7.4v7.6h-7.4zM120.9,131.1h7.4v7.6h-7.4zM52.2,138.2h7.4v7.6h-7.4zM59.1,138.2h7.4v7.6h-7.4zM65.9,138.2h7.4v7.6h-7.4zM72.8,138.2h7.4v7.6h-7.4zM79.7,138.2h7.4v7.6h-7.4zM86.5,138.2h7.4v7.6h-7.4zM93.4,138.2h7.4v7.6h-7.4zM114.0,138.2h7.4v7.6h-7.4zM17.9,145.3h7.4v7.6h-7.4zM24.7,145.3h7.4v7.6h-7.4zM31.6,145.3h7.4v7.6h-7.4zM38.5,145.3h7.4v7.6h-7.4zM45.3,145.3h7.4v7.6h-7.4zM52.2,145.3h7.4v7.6h-7.4zM59.1,145.3h7.4v7.6h-7.4zM65.9,145.3h7.4v7.6h-7.4zM72.8,145.3h7.4v7.6h-7.4zM79.7,145.3h7.4v7.6h-7.4zM86.5,145.3h7.4v7.6h-7.4zM93.4,145.3h7.4v7.6h-7.4zM114.0,145.3h7.4v7.6h-7.4zM-2.7,152.3h7.4v7.6h-7.4zM4.1,152.3h7.4v7.6h-7.4zM11.0,152.3h7.4v7.6h-7.4zM17.9,152.3h7.4v7.6h-7.4zM24.7,152.3h7.4v7.6h-7.4zM31.6,152.3h7.4v7.6h-7.4zM38.5,152.3h7.4v7.6h-7.4zM52.2,152.3h7.4v7.6h-7.4zM59.1,152.3h7.4v7.6h-7.4zM65.9,152.3h7.4v7.6h-7.4zM72.8,152.3h7.4v7.6h-7.4zM79.7,152.3h7.4v7.6h-7.4zM86.5,152.3h7.4v7.6h-7.4zM93.4,152.3h7.4v7.6h-7.4zM100.3,152.3h7.4v7.6h-7.4zM107.1,152.3h7.4v7.6h-7.4zM-2.7,159.4h7.4v7.6h-7.4zM4.1,159.4h7.4v7.6h-7.4zM11.0,159.4h7.4v7.6h-7.4zM17.9,159.4h7.4v7.6h-7.4zM31.6,159.4h7.4v7.6h-7.4zM38.5,159.4h7.4v7.6h-7.4zM45.3,159.4h7.4v7.6h-7.4zM52.2,159.4h7.4v7.6h-7.4zM59.1,159.4h7.4v7.6h-7.4zM65.9,159.4h7.4v7.6h-7.4zM79.7,159.4h7.4v7.6h-7.4zM86.5,159.4h7.4v7.6h-7.4zM93.4,159.4h7.4v7.6h-7.4zM100.3,159.4h7.4v7.6h-7.4zM107.1,159.4h7.4v7.6h-7.4zM-2.7,166.5h7.4v7.6h-7.4zM4.1,166.5h7.4v7.6h-7.4zM11.0,166.5h7.4v7.6h-7.4zM17.9,166.5h7.4v7.6h-7.4zM45.3,166.5h7.4v7.6h-7.4zM52.2,166.5h7.4v7.6h-7.4zM59.1,166.5h7.4v7.6h-7.4zM65.9,166.5h7.4v7.6h-7.4zM72.8,166.5h7.4v7.6h-7.4zM79.7,166.5h7.4v7.6h-7.4zM86.5,166.5h7.4v7.6h-7.4zM93.4,166.5h7.4v7.6h-7.4zM100.3,166.5h7.4v7.6h-7.4zM107.1,166.5h7.4v7.6h-7.4zM-2.7,173.5h7.4v7.6h-7.4zM4.1,173.5h7.4v7.6h-7.4zM11.0,173.5h7.4v7.6h-7.4zM52.2,173.5h7.4v7.6h-7.4zM59.1,173.5h7.4v7.6h-7.4zM65.9,173.5h7.4v7.6h-7.4zM72.8,173.5h7.4v7.6h-7.4zM79.7,173.5h7.4v7.6h-7.4zM86.5,173.5h7.4v7.6h-7.4zM93.4,173.5h7.4v7.6h-7.4zM100.3,173.5h7.4v7.6h-7.4zM107.1,173.5h7.4v7.6h-7.4zM-2.7,180.6h7.4v7.6h-7.4zM4.1,180.6h7.4v7.6h-7.4zM11.0,180.6h7.4v7.6h-7.4zM17.9,180.6h7.4v7.6h-7.4zM45.3,180.6h7.4v7.6h-7.4zM52.2,180.6h7.4v7.6h-7.4zM59.1,180.6h7.4v7.6h-7.4zM65.9,180.6h7.4v7.6h-7.4zM72.8,180.6h7.4v7.6h-7.4zM79.7,180.6h7.4v7.6h-7.4zM86.5,180.6h7.4v7.6h-7.4zM93.4,180.6h7.4v7.6h-7.4zM100.3,180.6h7.4v7.6h-7.4zM107.1,180.6h7.4v7.6h-7.4zM-2.7,187.7h7.4v7.6h-7.4zM4.1,187.7h7.4v7.6h-7.4zM11.0,187.7h7.4v7.6h-7.4zM17.9,187.7h7.4v7.6h-7.4zM24.7,187.7h7.4v7.6h-7.4zM45.3,187.7h7.4v7.6h-7.4zM52.2,187.7h7.4v7.6h-7.4zM59.1,187.7h7.4v7.6h-7.4zM65.9,187.7h7.4v7.6h-7.4zM72.8,187.7h7.4v7.6h-7.4zM79.7,187.7h7.4v7.6h-7.4zM86.5,187.7h7.4v7.6h-7.4zM93.4,187.7h7.4v7.6h-7.4zM100.3,187.7h7.4v7.6h-7.4zM107.1,187.7h7.4v7.6h-7.4zM114.0,187.7h7.4v7.6h-7.4zM-2.7,194.7h7.4v7.6h-7.4zM4.1,194.7h7.4v7.6h-7.4zM11.0,194.7h7.4v7.6h-7.4zM17.9,194.7h7.4v7.6h-7.4zM59.1,194.7h7.4v7.6h-7.4zM65.9,194.7h7.4v7.6h-7.4zM72.8,194.7h7.4v7.6h-7.4zM79.7,194.7h7.4v7.6h-7.4zM86.5,194.7h7.4v7.6h-7.4zM93.4,194.7h7.4v7.6h-7.4zM100.3,194.7h7.4v7.6h-7.4zM107.1,194.7h7.4v7.6h-7.4zM114.0,194.7h7.4v7.6h-7.4zM120.9,194.7h7.4v7.6h-7.4zM-2.7,201.8h7.4v7.6h-7.4zM4.1,201.8h7.4v7.6h-7.4zM11.0,201.8h7.4v7.6h-7.4zM17.9,201.8h7.4v7.6h-7.4zM24.7,201.8h7.4v7.6h-7.4zM65.9,201.8h7.4v7.6h-7.4zM72.8,201.8h7.4v7.6h-7.4zM79.7,201.8h7.4v7.6h-7.4zM86.5,201.8h7.4v7.6h-7.4zM93.4,201.8h7.4v7.6h-7.4zM100.3,201.8h7.4v7.6h-7.4zM107.1,201.8h7.4v7.6h-7.4zM114.0,201.8h7.4v7.6h-7.4zM120.9,201.8h7.4v7.6h-7.4zM-2.7,208.9h7.4v7.6h-7.4zM4.1,208.9h7.4v7.6h-7.4zM11.0,208.9h7.4v7.6h-7.4zM17.9,208.9h7.4v7.6h-7.4zM24.7,208.9h7.4v7.6h-7.4zM31.6,208.9h7.4v7.6h-7.4zM59.1,208.9h7.4v7.6h-7.4zM65.9,208.9h7.4v7.6h-7.4zM72.8,208.9h7.4v7.6h-7.4zM79.7,208.9h7.4v7.6h-7.4zM86.5,208.9h7.4v7.6h-7.4zM93.4,208.9h7.4v7.6h-7.4zM100.3,208.9h7.4v7.6h-7.4zM107.1,208.9h7.4v7.6h-7.4zM120.9,208.9h7.4v7.6h-7.4zM127.7,208.9h7.4v7.6h-7.4zM-2.7,215.9h7.4v7.6h-7.4zM4.1,215.9h7.4v7.6h-7.4zM11.0,215.9h7.4v7.6h-7.4zM17.9,215.9h7.4v7.6h-7.4zM24.7,215.9h7.4v7.6h-7.4zM31.6,215.9h7.4v7.6h-7.4zM38.5,215.9h7.4v7.6h-7.4zM52.2,215.9h7.4v7.6h-7.4zM59.1,215.9h7.4v7.6h-7.4zM79.7,215.9h7.4v7.6h-7.4zM86.5,215.9h7.4v7.6h-7.4zM93.4,215.9h7.4v7.6h-7.4zM100.3,215.9h7.4v7.6h-7.4zM107.1,215.9h7.4v7.6h-7.4zM127.7,215.9h7.4v7.6h-7.4zM134.6,215.9h7.4v7.6h-7.4zM-2.7,223.0h7.4v7.6h-7.4zM4.1,223.0h7.4v7.6h-7.4zM11.0,223.0h7.4v7.6h-7.4zM17.9,223.0h7.4v7.6h-7.4zM24.7,223.0h7.4v7.6h-7.4zM31.6,223.0h7.4v7.6h-7.4zM38.5,223.0h7.4v7.6h-7.4zM52.2,223.0h7.4v7.6h-7.4zM59.1,223.0h7.4v7.6h-7.4zM79.7,223.0h7.4v7.6h-7.4zM86.5,223.0h7.4v7.6h-7.4zM93.4,223.0h7.4v7.6h-7.4zM100.3,223.0h7.4v7.6h-7.4zM107.1,223.0h7.4v7.6h-7.4zM127.7,223.0h7.4v7.6h-7.4zM134.6,223.0h7.4v7.6h-7.4zM-2.7,230.1h7.4v7.6h-7.4zM4.1,230.1h7.4v7.6h-7.4zM11.0,230.1h7.4v7.6h-7.4zM17.9,230.1h7.4v7.6h-7.4zM24.7,230.1h7.4v7.6h-7.4zM31.6,230.1h7.4v7.6h-7.4zM38.5,230.1h7.4v7.6h-7.4zM52.2,230.1h7.4v7.6h-7.4zM59.1,230.1h7.4v7.6h-7.4zM79.7,230.1h7.4v7.6h-7.4zM86.5,230.1h7.4v7.6h-7.4zM93.4,230.1h7.4v7.6h-7.4zM100.3,230.1h7.4v7.6h-7.4zM107.1,230.1h7.4v7.6h-7.4zM127.7,230.1h7.4v7.6h-7.4zM134.6,230.1h7.4v7.6h-7.4z"/>
<path d="M188.0,21.0 L193.0,28.0 L199.0,34.0 L207.0,40.0 L214.0,42.0" fill="none" stroke="#9a6a9a" stroke-width="1.5" stroke-linecap="round" stroke-linejoin="round"/><path d="M184.0,27.0 L188.0,34.0 L191.0,40.0" fill="none" stroke="#9a6a9a" stroke-width="1.5" stroke-linecap="round" stroke-linejoin="round"/><path d="M163.0,88.0 L172.0,86.0 L183.0,78.0 L192.0,70.0 L200.0,66.0" fill="none" stroke="#9a6a9a" stroke-width="1.5" stroke-linecap="round" stroke-linejoin="round"/><path d="M146.0,101.0 L158.0,99.0 L170.0,98.0 L185.0,99.0 L198.0,100.0 L216.0,104.0" fill="none" stroke="#9a6a9a" stroke-width="1.5" stroke-linecap="round" stroke-linejoin="round"/><path d="M165.0,160.0 L176.0,153.0 L187.0,148.0 L198.0,144.0 L210.0,137.0 L217.0,134.0" fill="none" stroke="#9a6a9a" stroke-width="1.5" stroke-linecap="round" stroke-linejoin="round"/><path d="M176.0,153.0 L178.0,162.0 L184.0,168.0" fill="none" stroke="#9a6a9a" stroke-width="1.5" stroke-linecap="round" stroke-linejoin="round"/><path d="M128.0,137.0 L136.0,128.0 L141.0,122.0" fill="none" stroke="#9a6a9a" stroke-width="1.5" stroke-linecap="round" stroke-linejoin="round"/><path d="M150.0,180.0 L160.0,176.0 L170.0,178.0 L180.0,183.0" fill="none" stroke="#9a6a9a" stroke-width="1.5" stroke-linecap="round" stroke-linejoin="round"/><path d="M25.0,48.0 L31.0,44.0 L38.0,41.0" fill="none" stroke="#7a3a7a" stroke-width="2.2" stroke-linecap="round" stroke-linejoin="round"/><path d="M33.0,32.0 L40.0,29.0 L48.0,26.0" fill="none" stroke="#7a3a7a" stroke-width="2.2" stroke-linecap="round" stroke-linejoin="round"/><path d="M51.0,34.0 L56.0,32.0 L62.0,30.0" fill="none" stroke="#7a3a7a" stroke-width="2.2" stroke-linecap="round" stroke-linejoin="round"/><path d="M19.0,67.0 L24.0,64.0 L29.0,61.0" fill="none" stroke="#7a3a7a" stroke-width="2.2" stroke-linecap="round" stroke-linejoin="round"/><path d="M14.0,26.0 L19.0,22.0 L24.0,20.0" fill="none" stroke="#7a3a7a" stroke-width="2.2" stroke-linecap="round" stroke-linejoin="round"/><path d="M60.0,119.0 L68.0,122.0 L76.0,123.3 L91.0,123.3 L102.5,119.0 L110.0,114.5" fill="none" stroke="#402040" stroke-width="2.4" stroke-linecap="round" stroke-linejoin="round"/><path d="M114.0,215.0 L135.0,207.0 L155.0,199.0 L176.0,190.0" fill="none" stroke="#402040" stroke-width="2.4" stroke-linecap="round" stroke-linejoin="round"/>
</g></g>
<line x1="114.3" y1="11" x2="114.3" y2="223" stroke="#f4f4f4" stroke-width="1.1"/>
<line x1="11" y1="117.5" x2="217" y2="117.5" stroke="#f4f4f4" stroke-width="1.1"/>
<rect x="11.5" y="11.5" width="205" height="211" fill="none" stroke="#111" stroke-width="1"/>
<text x="52" y="68.8" class="sl">S1</text>
<text x="157.5" y="68.8" class="sl">S2</text>
<text x="51.5" y="176.3" class="sl">S3</text>
<text x="157" y="176.3" class="sl">S4</text>
<clipPath id="clipc"><rect x="11" y="240" width="206" height="211"/></clipPath>
<g clip-path="url(#clipc)"><g filter="url(#texc)">
<path fill="#053808" d="M-2.7,225.9h7.4v7.5h-7.4zM4.1,225.9h7.4v7.5h-7.4zM11.0,225.9h7.4v7.5h-7.4zM100.3,225.9h7.4v7.5h-7.4zM127.7,225.9h7.4v7.5h-7.4zM134.6,225.9h7.4v7.5h-7.4zM141.5,225.9h7.4v7.5h-7.4zM148.3,225.9h7.4v7.5h-7.4zM155.2,225.9h7.4v7.5h-7.4zM162.1,225.9h7.4v7.5h-7.4zM168.9,225.9h7.4v7.5h-7.4zM175.8,225.9h7.4v7.5h-7.4zM182.7,225.9h7.4v7.5h-7.4zM189.5,225.9h7.4v7.5h-7.4zM-2.7,233.0h7.4v7.5h-7.4zM4.1,233.0h7.4v7.5h-7.4zM11.0,233.0h7.4v7.5h-7.4zM100.3,233.0h7.4v7.5h-7.4zM127.7,233.0h7.4v7.5h-7.4zM134.6,233.0h7.4v7.5h-7.4zM141.5,233.0h7.4v7.5h-7.4zM148.3,233.0h7.4v7.5h-7.4zM155.2,233.0h7.4v7.5h-7.4zM162.1,233.0h7.4v7.5h-7.4zM168.9,233.0h7.4v7.5h-7.4zM175.8,233.0h7.4v7.5h-7.4zM182.7,233.0h7.4v7.5h-7.4zM189.5,233.0h7.4v7.5h-7.4zM-2.7,240.0h7.4v7.5h-7.4zM4.1,240.0h7.4v7.5h-7.4zM11.0,240.0h7.4v7.5h-7.4zM100.3,240.0h7.4v7.5h-7.4zM127.7,240.0h7.4v7.5h-7.4zM134.6,240.0h7.4v7.5h-7.4zM141.5,240.0h7.4v7.5h-7.4zM148.3,240.0h7.4v7.5h-7.4zM155.2,240.0h7.4v7.5h-7.4zM162.1,240.0h7.4v7.5h-7.4zM168.9,240.0h7.4v7.5h-7.4zM175.8,240.0h7.4v7.5h-7.4zM182.7,240.0h7.4v7.5h-7.4zM189.5,240.0h7.4v7.5h-7.4zM17.9,247.0h7.4v7.5h-7.4zM93.4,247.0h7.4v7.5h-7.4zM107.1,247.0h7.4v7.5h-7.4zM120.9,247.0h7.4v7.5h-7.4zM141.5,247.0h7.4v7.5h-7.4zM155.2,247.0h7.4v7.5h-7.4zM168.9,247.0h7.4v7.5h-7.4zM175.8,247.0h7.4v7.5h-7.4zM196.4,247.0h7.4v7.5h-7.4zM203.3,247.0h7.4v7.5h-7.4zM-2.7,254.1h7.4v7.5h-7.4zM4.1,254.1h7.4v7.5h-7.4zM11.0,254.1h7.4v7.5h-7.4zM93.4,254.1h7.4v7.5h-7.4zM107.1,254.1h7.4v7.5h-7.4zM114.0,254.1h7.4v7.5h-7.4zM120.9,254.1h7.4v7.5h-7.4zM127.7,254.1h7.4v7.5h-7.4zM134.6,254.1h7.4v7.5h-7.4zM148.3,254.1h7.4v7.5h-7.4zM162.1,254.1h7.4v7.5h-7.4zM175.8,254.1h7.4v7.5h-7.4zM189.5,254.1h7.4v7.5h-7.4zM196.4,254.1h7.4v7.5h-7.4zM210.1,254.1h7.4v7.5h-7.4zM217.0,254.1h7.4v7.5h-7.4zM223.9,254.1h7.4v7.5h-7.4zM17.9,261.1h7.4v7.5h-7.4zM93.4,261.1h7.4v7.5h-7.4zM100.3,261.1h7.4v7.5h-7.4zM127.7,261.1h7.4v7.5h-7.4zM134.6,261.1h7.4v7.5h-7.4zM155.2,261.1h7.4v7.5h-7.4zM168.9,261.1h7.4v7.5h-7.4zM175.8,261.1h7.4v7.5h-7.4zM189.5,261.1h7.4v7.5h-7.4zM196.4,261.1h7.4v7.5h-7.4zM210.1,261.1h7.4v7.5h-7.4zM217.0,261.1h7.4v7.5h-7.4zM223.9,261.1h7.4v7.5h-7.4zM93.4,268.1h7.4v7.5h-7.4zM114.0,268.1h7.4v7.5h-7.4zM120.9,268.1h7.4v7.5h-7.4zM141.5,268.1h7.4v7.5h-7.4zM182.7,268.1h7.4v7.5h-7.4zM189.5,268.1h7.4v7.5h-7.4zM93.4,275.2h7.4v7.5h-7.4zM100.3,275.2h7.4v7.5h-7.4zM114.0,275.2h7.4v7.5h-7.4zM141.5,275.2h7.4v7.5h-7.4zM210.1,275.2h7.4v7.5h-7.4zM217.0,275.2h7.4v7.5h-7.4zM223.9,275.2h7.4v7.5h-7.4zM93.4,282.2h7.4v7.5h-7.4zM100.3,282.2h7.4v7.5h-7.4zM107.1,282.2h7.4v7.5h-7.4zM114.0,282.2h7.4v7.5h-7.4zM141.5,282.2h7.4v7.5h-7.4zM203.3,282.2h7.4v7.5h-7.4zM100.3,289.2h7.4v7.5h-7.4zM114.0,289.2h7.4v7.5h-7.4zM134.6,289.2h7.4v7.5h-7.4zM141.5,289.2h7.4v7.5h-7.4zM203.3,289.2h7.4v7.5h-7.4zM114.0,296.3h7.4v7.5h-7.4zM134.6,296.3h7.4v7.5h-7.4zM141.5,296.3h7.4v7.5h-7.4zM203.3,296.3h7.4v7.5h-7.4zM210.1,296.3h7.4v7.5h-7.4zM217.0,296.3h7.4v7.5h-7.4zM223.9,296.3h7.4v7.5h-7.4zM134.6,303.3h7.4v7.5h-7.4zM141.5,303.3h7.4v7.5h-7.4zM196.4,303.3h7.4v7.5h-7.4zM203.3,303.3h7.4v7.5h-7.4zM210.1,303.3h7.4v7.5h-7.4zM217.0,303.3h7.4v7.5h-7.4zM223.9,303.3h7.4v7.5h-7.4zM127.7,310.3h7.4v7.5h-7.4zM203.3,310.3h7.4v7.5h-7.4zM210.1,310.3h7.4v7.5h-7.4zM217.0,310.3h7.4v7.5h-7.4zM223.9,310.3h7.4v7.5h-7.4zM134.6,317.4h7.4v7.5h-7.4zM141.5,317.4h7.4v7.5h-7.4zM203.3,317.4h7.4v7.5h-7.4zM210.1,317.4h7.4v7.5h-7.4zM217.0,317.4h7.4v7.5h-7.4zM223.9,317.4h7.4v7.5h-7.4zM210.1,324.4h7.4v7.5h-7.4zM217.0,324.4h7.4v7.5h-7.4zM223.9,324.4h7.4v7.5h-7.4zM210.1,331.4h7.4v7.5h-7.4zM217.0,331.4h7.4v7.5h-7.4zM223.9,331.4h7.4v7.5h-7.4zM210.1,338.5h7.4v7.5h-7.4zM217.0,338.5h7.4v7.5h-7.4zM223.9,338.5h7.4v7.5h-7.4zM175.8,345.5h7.4v7.5h-7.4zM182.7,345.5h7.4v7.5h-7.4zM196.4,345.5h7.4v7.5h-7.4zM203.3,345.5h7.4v7.5h-7.4zM175.8,352.5h7.4v7.5h-7.4zM196.4,352.5h7.4v7.5h-7.4zM203.3,352.5h7.4v7.5h-7.4zM203.3,359.6h7.4v7.5h-7.4zM210.1,359.6h7.4v7.5h-7.4zM217.0,359.6h7.4v7.5h-7.4zM223.9,359.6h7.4v7.5h-7.4zM203.3,380.7h7.4v7.5h-7.4zM210.1,387.7h7.4v7.5h-7.4zM217.0,387.7h7.4v7.5h-7.4zM223.9,387.7h7.4v7.5h-7.4zM210.1,394.7h7.4v7.5h-7.4zM217.0,394.7h7.4v7.5h-7.4zM223.9,394.7h7.4v7.5h-7.4zM210.1,401.8h7.4v7.5h-7.4zM217.0,401.8h7.4v7.5h-7.4zM223.9,401.8h7.4v7.5h-7.4zM210.1,408.8h7.4v7.5h-7.4zM217.0,408.8h7.4v7.5h-7.4zM223.9,408.8h7.4v7.5h-7.4zM210.1,415.8h7.4v7.5h-7.4zM217.0,415.8h7.4v7.5h-7.4zM223.9,415.8h7.4v7.5h-7.4zM210.1,422.9h7.4v7.5h-7.4zM217.0,422.9h7.4v7.5h-7.4zM223.9,422.9h7.4v7.5h-7.4zM210.1,429.9h7.4v7.5h-7.4zM217.0,429.9h7.4v7.5h-7.4zM223.9,429.9h7.4v7.5h-7.4zM210.1,436.9h7.4v7.5h-7.4zM217.0,436.9h7.4v7.5h-7.4zM223.9,436.9h7.4v7.5h-7.4zM210.1,444.0h7.4v7.5h-7.4zM217.0,444.0h7.4v7.5h-7.4zM223.9,444.0h7.4v7.5h-7.4zM210.1,451.0h7.4v7.5h-7.4zM217.0,451.0h7.4v7.5h-7.4zM223.9,451.0h7.4v7.5h-7.4zM210.1,458.0h7.4v7.5h-7.4zM217.0,458.0h7.4v7.5h-7.4zM223.9,458.0h7.4v7.5h-7.4z"/>
<path fill="#0a540e" d="M17.9,225.9h7.4v7.5h-7.4zM93.4,225.9h7.4v7.5h-7.4zM107.1,225.9h7.4v7.5h-7.4zM203.3,225.9h7.4v7.5h-7.4zM17.9,233.0h7.4v7.5h-7.4zM93.4,233.0h7.4v7.5h-7.4zM107.1,233.0h7.4v7.5h-7.4zM203.3,233.0h7.4v7.5h-7.4zM17.9,240.0h7.4v7.5h-7.4zM93.4,240.0h7.4v7.5h-7.4zM107.1,240.0h7.4v7.5h-7.4zM203.3,240.0h7.4v7.5h-7.4zM100.3,247.0h7.4v7.5h-7.4zM134.6,247.0h7.4v7.5h-7.4zM148.3,247.0h7.4v7.5h-7.4zM162.1,247.0h7.4v7.5h-7.4zM182.7,247.0h7.4v7.5h-7.4zM210.1,247.0h7.4v7.5h-7.4zM217.0,247.0h7.4v7.5h-7.4zM223.9,247.0h7.4v7.5h-7.4zM17.9,254.1h7.4v7.5h-7.4zM100.3,254.1h7.4v7.5h-7.4zM155.2,254.1h7.4v7.5h-7.4zM168.9,254.1h7.4v7.5h-7.4zM203.3,254.1h7.4v7.5h-7.4zM-2.7,261.1h7.4v7.5h-7.4zM4.1,261.1h7.4v7.5h-7.4zM11.0,261.1h7.4v7.5h-7.4zM148.3,261.1h7.4v7.5h-7.4zM162.1,261.1h7.4v7.5h-7.4zM203.3,261.1h7.4v7.5h-7.4zM17.9,268.1h7.4v7.5h-7.4zM86.5,268.1h7.4v7.5h-7.4zM127.7,268.1h7.4v7.5h-7.4zM134.6,268.1h7.4v7.5h-7.4zM148.3,268.1h7.4v7.5h-7.4zM155.2,268.1h7.4v7.5h-7.4zM162.1,268.1h7.4v7.5h-7.4zM175.8,268.1h7.4v7.5h-7.4zM196.4,268.1h7.4v7.5h-7.4zM203.3,268.1h7.4v7.5h-7.4zM210.1,268.1h7.4v7.5h-7.4zM217.0,268.1h7.4v7.5h-7.4zM223.9,268.1h7.4v7.5h-7.4zM24.7,275.2h7.4v7.5h-7.4zM86.5,275.2h7.4v7.5h-7.4zM120.9,275.2h7.4v7.5h-7.4zM127.7,275.2h7.4v7.5h-7.4zM134.6,275.2h7.4v7.5h-7.4zM148.3,275.2h7.4v7.5h-7.4zM155.2,275.2h7.4v7.5h-7.4zM175.8,275.2h7.4v7.5h-7.4zM182.7,275.2h7.4v7.5h-7.4zM189.5,275.2h7.4v7.5h-7.4zM196.4,275.2h7.4v7.5h-7.4zM203.3,275.2h7.4v7.5h-7.4zM86.5,282.2h7.4v7.5h-7.4zM120.9,282.2h7.4v7.5h-7.4zM134.6,282.2h7.4v7.5h-7.4zM148.3,282.2h7.4v7.5h-7.4zM182.7,282.2h7.4v7.5h-7.4zM189.5,282.2h7.4v7.5h-7.4zM196.4,282.2h7.4v7.5h-7.4zM210.1,282.2h7.4v7.5h-7.4zM217.0,282.2h7.4v7.5h-7.4zM223.9,282.2h7.4v7.5h-7.4zM86.5,289.2h7.4v7.5h-7.4zM93.4,289.2h7.4v7.5h-7.4zM107.1,289.2h7.4v7.5h-7.4zM120.9,289.2h7.4v7.5h-7.4zM127.7,289.2h7.4v7.5h-7.4zM148.3,289.2h7.4v7.5h-7.4zM189.5,289.2h7.4v7.5h-7.4zM196.4,289.2h7.4v7.5h-7.4zM210.1,289.2h7.4v7.5h-7.4zM217.0,289.2h7.4v7.5h-7.4zM223.9,289.2h7.4v7.5h-7.4zM86.5,296.3h7.4v7.5h-7.4zM93.4,296.3h7.4v7.5h-7.4zM100.3,296.3h7.4v7.5h-7.4zM107.1,296.3h7.4v7.5h-7.4zM120.9,296.3h7.4v7.5h-7.4zM127.7,296.3h7.4v7.5h-7.4zM148.3,296.3h7.4v7.5h-7.4zM182.7,296.3h7.4v7.5h-7.4zM189.5,296.3h7.4v7.5h-7.4zM196.4,296.3h7.4v7.5h-7.4zM93.4,303.3h7.4v7.5h-7.4zM100.3,303.3h7.4v7.5h-7.4zM120.9,303.3h7.4v7.5h-7.4zM127.7,303.3h7.4v7.5h-7.4zM148.3,303.3h7.4v7.5h-7.4zM155.2,303.3h7.4v7.5h-7.4zM162.1,303.3h7.4v7.5h-7.4zM175.8,303.3h7.4v7.5h-7.4zM182.7,303.3h7.4v7.5h-7.4zM189.5,303.3h7.4v7.5h-7.4zM93.4,310.3h7.4v7.5h-7.4zM114.0,310.3h7.4v7.5h-7.4zM120.9,310.3h7.4v7.5h-7.4zM134.6,310.3h7.4v7.5h-7.4zM141.5,310.3h7.4v7.5h-7.4zM148.3,310.3h7.4v7.5h-7.4zM155.2,310.3h7.4v7.5h-7.4zM168.9,310.3h7.4v7.5h-7.4zM175.8,310.3h7.4v7.5h-7.4zM182.7,310.3h7.4v7.5h-7.4zM189.5,310.3h7.4v7.5h-7.4zM196.4,310.3h7.4v7.5h-7.4zM120.9,317.4h7.4v7.5h-7.4zM127.7,317.4h7.4v7.5h-7.4zM148.3,317.4h7.4v7.5h-7.4zM155.2,317.4h7.4v7.5h-7.4zM162.1,317.4h7.4v7.5h-7.4zM168.9,317.4h7.4v7.5h-7.4zM175.8,317.4h7.4v7.5h-7.4zM182.7,317.4h7.4v7.5h-7.4zM189.5,317.4h7.4v7.5h-7.4zM196.4,317.4h7.4v7.5h-7.4zM134.6,324.4h7.4v7.5h-7.4zM141.5,324.4h7.4v7.5h-7.4zM148.3,324.4h7.4v7.5h-7.4zM155.2,324.4h7.4v7.5h-7.4zM162.1,324.4h7.4v7.5h-7.4zM168.9,324.4h7.4v7.5h-7.4zM175.8,324.4h7.4v7.5h-7.4zM182.7,324.4h7.4v7.5h-7.4zM189.5,324.4h7.4v7.5h-7.4zM196.4,324.4h7.4v7.5h-7.4zM203.3,324.4h7.4v7.5h-7.4zM141.5,331.4h7.4v7.5h-7.4zM162.1,331.4h7.4v7.5h-7.4zM168.9,331.4h7.4v7.5h-7.4zM175.8,331.4h7.4v7.5h-7.4zM182.7,331.4h7.4v7.5h-7.4zM189.5,331.4h7.4v7.5h-7.4zM196.4,331.4h7.4v7.5h-7.4zM203.3,331.4h7.4v7.5h-7.4zM162.1,338.5h7.4v7.5h-7.4zM168.9,338.5h7.4v7.5h-7.4zM175.8,338.5h7.4v7.5h-7.4zM182.7,338.5h7.4v7.5h-7.4zM189.5,338.5h7.4v7.5h-7.4zM196.4,338.5h7.4v7.5h-7.4zM203.3,338.5h7.4v7.5h-7.4zM162.1,345.5h7.4v7.5h-7.4zM168.9,345.5h7.4v7.5h-7.4zM189.5,345.5h7.4v7.5h-7.4zM162.1,352.5h7.4v7.5h-7.4zM168.9,352.5h7.4v7.5h-7.4zM182.7,352.5h7.4v7.5h-7.4zM189.5,352.5h7.4v7.5h-7.4zM155.2,359.6h7.4v7.5h-7.4zM162.1,359.6h7.4v7.5h-7.4zM168.9,359.6h7.4v7.5h-7.4zM175.8,359.6h7.4v7.5h-7.4zM182.7,359.6h7.4v7.5h-7.4zM189.5,359.6h7.4v7.5h-7.4zM196.4,359.6h7.4v7.5h-7.4zM148.3,366.6h7.4v7.5h-7.4zM155.2,366.6h7.4v7.5h-7.4zM162.1,366.6h7.4v7.5h-7.4zM168.9,366.6h7.4v7.5h-7.4zM175.8,366.6h7.4v7.5h-7.4zM182.7,366.6h7.4v7.5h-7.4zM189.5,366.6h7.4v7.5h-7.4zM196.4,366.6h7.4v7.5h-7.4zM203.3,366.6h7.4v7.5h-7.4zM210.1,366.6h7.4v7.5h-7.4zM217.0,366.6h7.4v7.5h-7.4zM223.9,366.6h7.4v7.5h-7.4zM141.5,373.6h7.4v7.5h-7.4zM148.3,373.6h7.4v7.5h-7.4zM155.2,373.6h7.4v7.5h-7.4zM162.1,373.6h7.4v7.5h-7.4zM168.9,373.6h7.4v7.5h-7.4zM175.8,373.6h7.4v7.5h-7.4zM182.7,373.6h7.4v7.5h-7.4zM189.5,373.6h7.4v7.5h-7.4zM196.4,373.6h7.4v7.5h-7.4zM203.3,373.6h7.4v7.5h-7.4zM210.1,373.6h7.4v7.5h-7.4zM217.0,373.6h7.4v7.5h-7.4zM223.9,373.6h7.4v7.5h-7.4zM141.5,380.7h7.4v7.5h-7.4zM148.3,380.7h7.4v7.5h-7.4zM155.2,380.7h7.4v7.5h-7.4zM162.1,380.7h7.4v7.5h-7.4zM168.9,380.7h7.4v7.5h-7.4zM175.8,380.7h7.4v7.5h-7.4zM182.7,380.7h7.4v7.5h-7.4zM189.5,380.7h7.4v7.5h-7.4zM196.4,380.7h7.4v7.5h-7.4zM210.1,380.7h7.4v7.5h-7.4zM217.0,380.7h7.4v7.5h-7.4zM223.9,380.7h7.4v7.5h-7.4zM134.6,387.7h7.4v7.5h-7.4zM141.5,387.7h7.4v7.5h-7.4zM148.3,387.7h7.4v7.5h-7.4zM155.2,387.7h7.4v7.5h-7.4zM162.1,387.7h7.4v7.5h-7.4zM168.9,387.7h7.4v7.5h-7.4zM175.8,387.7h7.4v7.5h-7.4zM182.7,387.7h7.4v7.5h-7.4zM189.5,387.7h7.4v7.5h-7.4zM196.4,387.7h7.4v7.5h-7.4zM203.3,387.7h7.4v7.5h-7.4zM134.6,394.7h7.4v7.5h-7.4zM141.5,394.7h7.4v7.5h-7.4zM148.3,394.7h7.4v7.5h-7.4zM155.2,394.7h7.4v7.5h-7.4zM162.1,394.7h7.4v7.5h-7.4zM168.9,394.7h7.4v7.5h-7.4zM175.8,394.7h7.4v7.5h-7.4zM182.7,394.7h7.4v7.5h-7.4zM189.5,394.7h7.4v7.5h-7.4zM196.4,394.7h7.4v7.5h-7.4zM203.3,394.7h7.4v7.5h-7.4zM141.5,401.8h7.4v7.5h-7.4zM148.3,401.8h7.4v7.5h-7.4zM155.2,401.8h7.4v7.5h-7.4zM162.1,401.8h7.4v7.5h-7.4zM168.9,401.8h7.4v7.5h-7.4zM175.8,401.8h7.4v7.5h-7.4zM182.7,401.8h7.4v7.5h-7.4zM189.5,401.8h7.4v7.5h-7.4zM196.4,401.8h7.4v7.5h-7.4zM203.3,401.8h7.4v7.5h-7.4zM155.2,408.8h7.4v7.5h-7.4zM162.1,408.8h7.4v7.5h-7.4zM168.9,408.8h7.4v7.5h-7.4zM189.5,408.8h7.4v7.5h-7.4zM196.4,408.8h7.4v7.5h-7.4zM203.3,408.8h7.4v7.5h-7.4zM189.5,415.8h7.4v7.5h-7.4zM203.3,415.8h7.4v7.5h-7.4zM203.3,422.9h7.4v7.5h-7.4zM189.5,429.9h7.4v7.5h-7.4zM196.4,429.9h7.4v7.5h-7.4zM203.3,429.9h7.4v7.5h-7.4zM182.7,436.9h7.4v7.5h-7.4zM189.5,436.9h7.4v7.5h-7.4zM196.4,436.9h7.4v7.5h-7.4zM203.3,436.9h7.4v7.5h-7.4zM175.8,444.0h7.4v7.5h-7.4zM182.7,444.0h7.4v7.5h-7.4zM189.5,444.0h7.4v7.5h-7.4zM196.4,444.0h7.4v7.5h-7.4zM203.3,444.0h7.4v7.5h-7.4zM175.8,451.0h7.4v7.5h-7.4zM182.7,451.0h7.4v7.5h-7.4zM189.5,451.0h7.4v7.5h-7.4zM196.4,451.0h7.4v7.5h-7.4zM203.3,451.0h7.4v7.5h-7.4zM175.8,458.0h7.4v7.5h-7.4zM182.7,458.0h7.4v7.5h-7.4zM189.5,458.0h7.4v7.5h-7.4zM196.4,458.0h7.4v7.5h-7.4zM203.3,458.0h7.4v7.5h-7.4z"/>
<path fill="#197d2a" d="M24.7,225.9h7.4v7.5h-7.4zM24.7,233.0h7.4v7.5h-7.4zM24.7,240.0h7.4v7.5h-7.4zM24.7,247.0h7.4v7.5h-7.4zM79.7,247.0h7.4v7.5h-7.4zM24.7,254.1h7.4v7.5h-7.4zM31.6,254.1h7.4v7.5h-7.4zM86.5,254.1h7.4v7.5h-7.4zM24.7,261.1h7.4v7.5h-7.4zM-2.7,268.1h7.4v7.5h-7.4zM4.1,268.1h7.4v7.5h-7.4zM11.0,268.1h7.4v7.5h-7.4zM24.7,268.1h7.4v7.5h-7.4zM38.5,268.1h7.4v7.5h-7.4zM79.7,268.1h7.4v7.5h-7.4zM168.9,268.1h7.4v7.5h-7.4zM17.9,275.2h7.4v7.5h-7.4zM31.6,275.2h7.4v7.5h-7.4zM162.1,275.2h7.4v7.5h-7.4zM168.9,275.2h7.4v7.5h-7.4zM24.7,282.2h7.4v7.5h-7.4zM65.9,282.2h7.4v7.5h-7.4zM127.7,282.2h7.4v7.5h-7.4zM155.2,282.2h7.4v7.5h-7.4zM162.1,282.2h7.4v7.5h-7.4zM168.9,282.2h7.4v7.5h-7.4zM175.8,282.2h7.4v7.5h-7.4zM24.7,289.2h7.4v7.5h-7.4zM155.2,289.2h7.4v7.5h-7.4zM162.1,289.2h7.4v7.5h-7.4zM168.9,289.2h7.4v7.5h-7.4zM175.8,289.2h7.4v7.5h-7.4zM182.7,289.2h7.4v7.5h-7.4zM31.6,296.3h7.4v7.5h-7.4zM59.1,296.3h7.4v7.5h-7.4zM155.2,296.3h7.4v7.5h-7.4zM162.1,296.3h7.4v7.5h-7.4zM168.9,296.3h7.4v7.5h-7.4zM175.8,296.3h7.4v7.5h-7.4zM38.5,303.3h7.4v7.5h-7.4zM52.2,303.3h7.4v7.5h-7.4zM168.9,303.3h7.4v7.5h-7.4zM45.3,310.3h7.4v7.5h-7.4zM162.1,310.3h7.4v7.5h-7.4zM17.9,317.4h7.4v7.5h-7.4zM17.9,331.4h7.4v7.5h-7.4zM45.3,331.4h7.4v7.5h-7.4zM-2.7,338.5h7.4v7.5h-7.4zM4.1,338.5h7.4v7.5h-7.4zM11.0,338.5h7.4v7.5h-7.4zM24.7,345.5h7.4v7.5h-7.4zM52.2,345.5h7.4v7.5h-7.4zM24.7,366.6h7.4v7.5h-7.4zM45.3,429.9h7.4v7.5h-7.4z"/>
<path fill="#23b937" d="M31.6,225.9h7.4v7.5h-7.4zM52.2,225.9h7.4v7.5h-7.4zM72.8,225.9h7.4v7.5h-7.4zM79.7,225.9h7.4v7.5h-7.4zM31.6,233.0h7.4v7.5h-7.4zM52.2,233.0h7.4v7.5h-7.4zM72.8,233.0h7.4v7.5h-7.4zM79.7,233.0h7.4v7.5h-7.4zM31.6,240.0h7.4v7.5h-7.4zM52.2,240.0h7.4v7.5h-7.4zM72.8,240.0h7.4v7.5h-7.4zM79.7,240.0h7.4v7.5h-7.4zM52.2,247.0h7.4v7.5h-7.4zM45.3,254.1h7.4v7.5h-7.4zM79.7,254.1h7.4v7.5h-7.4zM31.6,261.1h7.4v7.5h-7.4zM38.5,261.1h7.4v7.5h-7.4zM79.7,261.1h7.4v7.5h-7.4zM31.6,268.1h7.4v7.5h-7.4zM72.8,268.1h7.4v7.5h-7.4zM-2.7,275.2h7.4v7.5h-7.4zM4.1,275.2h7.4v7.5h-7.4zM11.0,275.2h7.4v7.5h-7.4zM38.5,275.2h7.4v7.5h-7.4zM72.8,275.2h7.4v7.5h-7.4zM-2.7,282.2h7.4v7.5h-7.4zM4.1,282.2h7.4v7.5h-7.4zM11.0,282.2h7.4v7.5h-7.4zM17.9,282.2h7.4v7.5h-7.4zM31.6,282.2h7.4v7.5h-7.4zM-2.7,289.2h7.4v7.5h-7.4zM4.1,289.2h7.4v7.5h-7.4zM11.0,289.2h7.4v7.5h-7.4zM17.9,289.2h7.4v7.5h-7.4zM-2.7,296.3h7.4v7.5h-7.4zM4.1,296.3h7.4v7.5h-7.4zM11.0,296.3h7.4v7.5h-7.4zM24.7,296.3h7.4v7.5h-7.4zM52.2,296.3h7.4v7.5h-7.4zM-2.7,303.3h7.4v7.5h-7.4zM4.1,303.3h7.4v7.5h-7.4zM11.0,303.3h7.4v7.5h-7.4zM31.6,303.3h7.4v7.5h-7.4zM45.3,303.3h7.4v7.5h-7.4zM-2.7,310.3h7.4v7.5h-7.4zM4.1,310.3h7.4v7.5h-7.4zM11.0,310.3h7.4v7.5h-7.4zM38.5,310.3h7.4v7.5h-7.4zM-2.7,317.4h7.4v7.5h-7.4zM4.1,317.4h7.4v7.5h-7.4zM11.0,317.4h7.4v7.5h-7.4zM31.6,317.4h7.4v7.5h-7.4zM38.5,317.4h7.4v7.5h-7.4zM-2.7,324.4h7.4v7.5h-7.4zM4.1,324.4h7.4v7.5h-7.4zM11.0,324.4h7.4v7.5h-7.4zM38.5,324.4h7.4v7.5h-7.4zM45.3,324.4h7.4v7.5h-7.4zM-2.7,331.4h7.4v7.5h-7.4zM4.1,331.4h7.4v7.5h-7.4zM11.0,331.4h7.4v7.5h-7.4zM38.5,331.4h7.4v7.5h-7.4zM17.9,338.5h7.4v7.5h-7.4zM24.7,338.5h7.4v7.5h-7.4zM31.6,338.5h7.4v7.5h-7.4zM38.5,338.5h7.4v7.5h-7.4zM31.6,345.5h7.4v7.5h-7.4zM45.3,345.5h7.4v7.5h-7.4zM-2.7,352.5h7.4v7.5h-7.4zM4.1,352.5h7.4v7.5h-7.4zM11.0,352.5h7.4v7.5h-7.4zM38.5,352.5h7.4v7.5h-7.4zM-2.7,359.6h7.4v7.5h-7.4zM4.1,359.6h7.4v7.5h-7.4zM11.0,359.6h7.4v7.5h-7.4zM17.9,359.6h7.4v7.5h-7.4zM31.6,359.6h7.4v7.5h-7.4zM31.6,366.6h7.4v7.5h-7.4z"/>
<path fill="#1ce128" d="M38.5,225.9h7.4v7.5h-7.4zM45.3,225.9h7.4v7.5h-7.4zM59.1,225.9h7.4v7.5h-7.4zM65.9,225.9h7.4v7.5h-7.4zM38.5,233.0h7.4v7.5h-7.4zM45.3,233.0h7.4v7.5h-7.4zM59.1,233.0h7.4v7.5h-7.4zM65.9,233.0h7.4v7.5h-7.4zM38.5,240.0h7.4v7.5h-7.4zM45.3,240.0h7.4v7.5h-7.4zM59.1,240.0h7.4v7.5h-7.4zM65.9,240.0h7.4v7.5h-7.4zM31.6,247.0h7.4v7.5h-7.4zM38.5,247.0h7.4v7.5h-7.4zM45.3,247.0h7.4v7.5h-7.4zM59.1,247.0h7.4v7.5h-7.4zM65.9,247.0h7.4v7.5h-7.4zM72.8,247.0h7.4v7.5h-7.4zM38.5,254.1h7.4v7.5h-7.4zM52.2,254.1h7.4v7.5h-7.4zM59.1,254.1h7.4v7.5h-7.4zM65.9,254.1h7.4v7.5h-7.4zM72.8,254.1h7.4v7.5h-7.4zM45.3,261.1h7.4v7.5h-7.4zM52.2,261.1h7.4v7.5h-7.4zM59.1,261.1h7.4v7.5h-7.4zM65.9,261.1h7.4v7.5h-7.4zM72.8,261.1h7.4v7.5h-7.4zM45.3,268.1h7.4v7.5h-7.4zM52.2,268.1h7.4v7.5h-7.4zM59.1,268.1h7.4v7.5h-7.4zM65.9,268.1h7.4v7.5h-7.4zM45.3,275.2h7.4v7.5h-7.4zM52.2,275.2h7.4v7.5h-7.4zM59.1,275.2h7.4v7.5h-7.4zM65.9,275.2h7.4v7.5h-7.4zM38.5,282.2h7.4v7.5h-7.4zM45.3,282.2h7.4v7.5h-7.4zM52.2,282.2h7.4v7.5h-7.4zM59.1,282.2h7.4v7.5h-7.4zM31.6,289.2h7.4v7.5h-7.4zM52.2,289.2h7.4v7.5h-7.4zM59.1,289.2h7.4v7.5h-7.4zM17.9,296.3h7.4v7.5h-7.4zM17.9,303.3h7.4v7.5h-7.4zM24.7,303.3h7.4v7.5h-7.4zM17.9,310.3h7.4v7.5h-7.4zM24.7,310.3h7.4v7.5h-7.4zM31.6,310.3h7.4v7.5h-7.4zM45.3,317.4h7.4v7.5h-7.4zM38.5,359.6h7.4v7.5h-7.4zM-2.7,366.6h7.4v7.5h-7.4zM4.1,366.6h7.4v7.5h-7.4zM11.0,366.6h7.4v7.5h-7.4zM17.9,366.6h7.4v7.5h-7.4z"/>
<path fill="#875a87" d="M86.5,225.9h7.4v7.5h-7.4zM86.5,233.0h7.4v7.5h-7.4zM86.5,240.0h7.4v7.5h-7.4zM86.5,247.0h7.4v7.5h-7.4zM86.5,261.1h7.4v7.5h-7.4zM79.7,275.2h7.4v7.5h-7.4zM79.7,282.2h7.4v7.5h-7.4zM79.7,289.2h7.4v7.5h-7.4zM79.7,303.3h7.4v7.5h-7.4zM107.1,303.3h7.4v7.5h-7.4zM114.0,303.3h7.4v7.5h-7.4zM72.8,310.3h7.4v7.5h-7.4zM100.3,310.3h7.4v7.5h-7.4zM93.4,317.4h7.4v7.5h-7.4zM148.3,331.4h7.4v7.5h-7.4zM114.0,338.5h7.4v7.5h-7.4zM155.2,338.5h7.4v7.5h-7.4zM155.2,352.5h7.4v7.5h-7.4zM45.3,436.9h7.4v7.5h-7.4zM72.8,444.0h7.4v7.5h-7.4zM72.8,451.0h7.4v7.5h-7.4zM72.8,458.0h7.4v7.5h-7.4z"/>
<path fill="#021804" d="M114.0,225.9h7.4v7.5h-7.4zM120.9,225.9h7.4v7.5h-7.4zM196.4,225.9h7.4v7.5h-7.4zM210.1,225.9h7.4v7.5h-7.4zM217.0,225.9h7.4v7.5h-7.4zM223.9,225.9h7.4v7.5h-7.4zM114.0,233.0h7.4v7.5h-7.4zM120.9,233.0h7.4v7.5h-7.4zM196.4,233.0h7.4v7.5h-7.4zM210.1,233.0h7.4v7.5h-7.4zM217.0,233.0h7.4v7.5h-7.4zM223.9,233.0h7.4v7.5h-7.4zM114.0,240.0h7.4v7.5h-7.4zM120.9,240.0h7.4v7.5h-7.4zM196.4,240.0h7.4v7.5h-7.4zM210.1,240.0h7.4v7.5h-7.4zM217.0,240.0h7.4v7.5h-7.4zM223.9,240.0h7.4v7.5h-7.4zM-2.7,247.0h7.4v7.5h-7.4zM4.1,247.0h7.4v7.5h-7.4zM11.0,247.0h7.4v7.5h-7.4zM114.0,247.0h7.4v7.5h-7.4zM127.7,247.0h7.4v7.5h-7.4zM189.5,247.0h7.4v7.5h-7.4zM141.5,254.1h7.4v7.5h-7.4zM182.7,254.1h7.4v7.5h-7.4zM107.1,261.1h7.4v7.5h-7.4zM114.0,261.1h7.4v7.5h-7.4zM120.9,261.1h7.4v7.5h-7.4zM141.5,261.1h7.4v7.5h-7.4zM182.7,261.1h7.4v7.5h-7.4zM100.3,268.1h7.4v7.5h-7.4zM107.1,268.1h7.4v7.5h-7.4zM107.1,275.2h7.4v7.5h-7.4zM210.1,345.5h7.4v7.5h-7.4zM217.0,345.5h7.4v7.5h-7.4zM223.9,345.5h7.4v7.5h-7.4zM210.1,352.5h7.4v7.5h-7.4zM217.0,352.5h7.4v7.5h-7.4zM223.9,352.5h7.4v7.5h-7.4z"/>
<path fill="#c468ba" d="M72.8,282.2h7.4v7.5h-7.4zM38.5,289.2h7.4v7.5h-7.4zM65.9,289.2h7.4v7.5h-7.4zM45.3,296.3h7.4v7.5h-7.4zM72.8,303.3h7.4v7.5h-7.4zM65.9,310.3h7.4v7.5h-7.4zM79.7,310.3h7.4v7.5h-7.4zM107.1,310.3h7.4v7.5h-7.4zM52.2,317.4h7.4v7.5h-7.4zM72.8,317.4h7.4v7.5h-7.4zM86.5,317.4h7.4v7.5h-7.4zM100.3,317.4h7.4v7.5h-7.4zM31.6,324.4h7.4v7.5h-7.4zM65.9,324.4h7.4v7.5h-7.4zM93.4,324.4h7.4v7.5h-7.4zM114.0,324.4h7.4v7.5h-7.4zM52.2,331.4h7.4v7.5h-7.4zM79.7,331.4h7.4v7.5h-7.4zM127.7,331.4h7.4v7.5h-7.4zM155.2,331.4h7.4v7.5h-7.4zM45.3,338.5h7.4v7.5h-7.4zM59.1,338.5h7.4v7.5h-7.4zM93.4,338.5h7.4v7.5h-7.4zM100.3,338.5h7.4v7.5h-7.4zM134.6,338.5h7.4v7.5h-7.4zM141.5,338.5h7.4v7.5h-7.4zM148.3,338.5h7.4v7.5h-7.4zM-2.7,345.5h7.4v7.5h-7.4zM4.1,345.5h7.4v7.5h-7.4zM11.0,345.5h7.4v7.5h-7.4zM38.5,345.5h7.4v7.5h-7.4zM59.1,345.5h7.4v7.5h-7.4zM86.5,345.5h7.4v7.5h-7.4zM93.4,345.5h7.4v7.5h-7.4zM107.1,345.5h7.4v7.5h-7.4zM141.5,345.5h7.4v7.5h-7.4zM155.2,345.5h7.4v7.5h-7.4zM24.7,352.5h7.4v7.5h-7.4zM52.2,352.5h7.4v7.5h-7.4zM148.3,352.5h7.4v7.5h-7.4zM45.3,359.6h7.4v7.5h-7.4zM134.6,359.6h7.4v7.5h-7.4zM38.5,366.6h7.4v7.5h-7.4zM127.7,366.6h7.4v7.5h-7.4zM127.7,373.6h7.4v7.5h-7.4zM120.9,380.7h7.4v7.5h-7.4zM120.9,387.7h7.4v7.5h-7.4zM24.7,394.7h7.4v7.5h-7.4zM31.6,394.7h7.4v7.5h-7.4zM17.9,401.8h7.4v7.5h-7.4zM24.7,401.8h7.4v7.5h-7.4zM31.6,401.8h7.4v7.5h-7.4zM38.5,401.8h7.4v7.5h-7.4zM127.7,401.8h7.4v7.5h-7.4zM24.7,408.8h7.4v7.5h-7.4zM38.5,408.8h7.4v7.5h-7.4zM134.6,408.8h7.4v7.5h-7.4zM175.8,408.8h7.4v7.5h-7.4zM182.7,408.8h7.4v7.5h-7.4zM31.6,415.8h7.4v7.5h-7.4zM148.3,415.8h7.4v7.5h-7.4zM155.2,415.8h7.4v7.5h-7.4zM162.1,415.8h7.4v7.5h-7.4zM168.9,415.8h7.4v7.5h-7.4zM38.5,422.9h7.4v7.5h-7.4zM52.2,422.9h7.4v7.5h-7.4zM168.9,422.9h7.4v7.5h-7.4zM189.5,422.9h7.4v7.5h-7.4zM31.6,429.9h7.4v7.5h-7.4zM52.2,429.9h7.4v7.5h-7.4zM175.8,429.9h7.4v7.5h-7.4zM38.5,436.9h7.4v7.5h-7.4zM168.9,436.9h7.4v7.5h-7.4zM65.9,444.0h7.4v7.5h-7.4zM162.1,444.0h7.4v7.5h-7.4zM65.9,451.0h7.4v7.5h-7.4zM162.1,451.0h7.4v7.5h-7.4zM65.9,458.0h7.4v7.5h-7.4zM162.1,458.0h7.4v7.5h-7.4z"/>
<path fill="#e862e2" d="M45.3,289.2h7.4v7.5h-7.4zM72.8,289.2h7.4v7.5h-7.4zM38.5,296.3h7.4v7.5h-7.4zM65.9,296.3h7.4v7.5h-7.4zM72.8,296.3h7.4v7.5h-7.4zM59.1,303.3h7.4v7.5h-7.4zM65.9,303.3h7.4v7.5h-7.4zM52.2,310.3h7.4v7.5h-7.4zM59.1,310.3h7.4v7.5h-7.4zM59.1,317.4h7.4v7.5h-7.4zM65.9,317.4h7.4v7.5h-7.4zM79.7,317.4h7.4v7.5h-7.4zM107.1,317.4h7.4v7.5h-7.4zM17.9,324.4h7.4v7.5h-7.4zM24.7,324.4h7.4v7.5h-7.4zM52.2,324.4h7.4v7.5h-7.4zM59.1,324.4h7.4v7.5h-7.4zM72.8,324.4h7.4v7.5h-7.4zM79.7,324.4h7.4v7.5h-7.4zM86.5,324.4h7.4v7.5h-7.4zM100.3,324.4h7.4v7.5h-7.4zM107.1,324.4h7.4v7.5h-7.4zM24.7,331.4h7.4v7.5h-7.4zM31.6,331.4h7.4v7.5h-7.4zM59.1,331.4h7.4v7.5h-7.4zM65.9,331.4h7.4v7.5h-7.4zM72.8,331.4h7.4v7.5h-7.4zM86.5,331.4h7.4v7.5h-7.4zM93.4,331.4h7.4v7.5h-7.4zM100.3,331.4h7.4v7.5h-7.4zM107.1,331.4h7.4v7.5h-7.4zM114.0,331.4h7.4v7.5h-7.4zM120.9,331.4h7.4v7.5h-7.4zM52.2,338.5h7.4v7.5h-7.4zM65.9,338.5h7.4v7.5h-7.4zM72.8,338.5h7.4v7.5h-7.4zM79.7,338.5h7.4v7.5h-7.4zM86.5,338.5h7.4v7.5h-7.4zM107.1,338.5h7.4v7.5h-7.4zM120.9,338.5h7.4v7.5h-7.4zM127.7,338.5h7.4v7.5h-7.4zM65.9,345.5h7.4v7.5h-7.4zM72.8,345.5h7.4v7.5h-7.4zM79.7,345.5h7.4v7.5h-7.4zM100.3,345.5h7.4v7.5h-7.4zM148.3,345.5h7.4v7.5h-7.4zM59.1,352.5h7.4v7.5h-7.4zM93.4,352.5h7.4v7.5h-7.4zM100.3,352.5h7.4v7.5h-7.4zM107.1,352.5h7.4v7.5h-7.4zM127.7,352.5h7.4v7.5h-7.4zM134.6,352.5h7.4v7.5h-7.4zM52.2,359.6h7.4v7.5h-7.4zM100.3,359.6h7.4v7.5h-7.4zM107.1,359.6h7.4v7.5h-7.4zM127.7,359.6h7.4v7.5h-7.4zM45.3,366.6h7.4v7.5h-7.4zM100.3,366.6h7.4v7.5h-7.4zM107.1,366.6h7.4v7.5h-7.4zM120.9,366.6h7.4v7.5h-7.4zM-2.7,373.6h7.4v7.5h-7.4zM4.1,373.6h7.4v7.5h-7.4zM11.0,373.6h7.4v7.5h-7.4zM100.3,373.6h7.4v7.5h-7.4zM107.1,373.6h7.4v7.5h-7.4zM120.9,373.6h7.4v7.5h-7.4zM45.3,380.7h7.4v7.5h-7.4zM114.0,380.7h7.4v7.5h-7.4zM24.7,387.7h7.4v7.5h-7.4zM72.8,387.7h7.4v7.5h-7.4zM114.0,387.7h7.4v7.5h-7.4zM38.5,394.7h7.4v7.5h-7.4zM114.0,394.7h7.4v7.5h-7.4zM120.9,394.7h7.4v7.5h-7.4zM45.3,401.8h7.4v7.5h-7.4zM114.0,401.8h7.4v7.5h-7.4zM120.9,401.8h7.4v7.5h-7.4zM31.6,408.8h7.4v7.5h-7.4zM114.0,408.8h7.4v7.5h-7.4zM120.9,408.8h7.4v7.5h-7.4zM127.7,408.8h7.4v7.5h-7.4zM38.5,415.8h7.4v7.5h-7.4zM120.9,415.8h7.4v7.5h-7.4zM127.7,415.8h7.4v7.5h-7.4zM134.6,415.8h7.4v7.5h-7.4zM141.5,415.8h7.4v7.5h-7.4zM175.8,415.8h7.4v7.5h-7.4zM196.4,415.8h7.4v7.5h-7.4zM24.7,422.9h7.4v7.5h-7.4zM31.6,422.9h7.4v7.5h-7.4zM45.3,422.9h7.4v7.5h-7.4zM127.7,422.9h7.4v7.5h-7.4zM134.6,422.9h7.4v7.5h-7.4zM141.5,422.9h7.4v7.5h-7.4zM148.3,422.9h7.4v7.5h-7.4zM155.2,422.9h7.4v7.5h-7.4zM162.1,422.9h7.4v7.5h-7.4zM196.4,422.9h7.4v7.5h-7.4zM38.5,429.9h7.4v7.5h-7.4zM59.1,429.9h7.4v7.5h-7.4zM127.7,429.9h7.4v7.5h-7.4zM134.6,429.9h7.4v7.5h-7.4zM141.5,429.9h7.4v7.5h-7.4zM148.3,429.9h7.4v7.5h-7.4zM155.2,429.9h7.4v7.5h-7.4zM162.1,429.9h7.4v7.5h-7.4zM168.9,429.9h7.4v7.5h-7.4zM52.2,436.9h7.4v7.5h-7.4zM114.0,436.9h7.4v7.5h-7.4zM134.6,436.9h7.4v7.5h-7.4zM141.5,436.9h7.4v7.5h-7.4zM148.3,436.9h7.4v7.5h-7.4zM155.2,436.9h7.4v7.5h-7.4zM162.1,436.9h7.4v7.5h-7.4zM45.3,444.0h7.4v7.5h-7.4zM114.0,444.0h7.4v7.5h-7.4zM120.9,444.0h7.4v7.5h-7.4zM141.5,444.0h7.4v7.5h-7.4zM148.3,444.0h7.4v7.5h-7.4zM155.2,444.0h7.4v7.5h-7.4zM45.3,451.0h7.4v7.5h-7.4zM114.0,451.0h7.4v7.5h-7.4zM120.9,451.0h7.4v7.5h-7.4zM141.5,451.0h7.4v7.5h-7.4zM148.3,451.0h7.4v7.5h-7.4zM155.2,451.0h7.4v7.5h-7.4zM45.3,458.0h7.4v7.5h-7.4zM114.0,458.0h7.4v7.5h-7.4zM120.9,458.0h7.4v7.5h-7.4zM141.5,458.0h7.4v7.5h-7.4zM148.3,458.0h7.4v7.5h-7.4zM155.2,458.0h7.4v7.5h-7.4z"/>
<path fill="#646964" d="M79.7,296.3h7.4v7.5h-7.4zM86.5,303.3h7.4v7.5h-7.4zM86.5,310.3h7.4v7.5h-7.4zM114.0,317.4h7.4v7.5h-7.4zM120.9,324.4h7.4v7.5h-7.4zM127.7,324.4h7.4v7.5h-7.4zM134.6,331.4h7.4v7.5h-7.4zM141.5,352.5h7.4v7.5h-7.4zM141.5,359.6h7.4v7.5h-7.4zM148.3,359.6h7.4v7.5h-7.4zM134.6,366.6h7.4v7.5h-7.4zM141.5,366.6h7.4v7.5h-7.4zM134.6,373.6h7.4v7.5h-7.4zM127.7,380.7h7.4v7.5h-7.4zM134.6,380.7h7.4v7.5h-7.4zM127.7,387.7h7.4v7.5h-7.4zM127.7,394.7h7.4v7.5h-7.4zM134.6,401.8h7.4v7.5h-7.4zM141.5,408.8h7.4v7.5h-7.4zM148.3,408.8h7.4v7.5h-7.4zM182.7,415.8h7.4v7.5h-7.4zM175.8,422.9h7.4v7.5h-7.4zM182.7,422.9h7.4v7.5h-7.4zM182.7,429.9h7.4v7.5h-7.4zM175.8,436.9h7.4v7.5h-7.4zM168.9,444.0h7.4v7.5h-7.4zM168.9,451.0h7.4v7.5h-7.4zM168.9,458.0h7.4v7.5h-7.4z"/>
<path fill="#8c9682" d="M24.7,317.4h7.4v7.5h-7.4zM17.9,345.5h7.4v7.5h-7.4zM17.9,352.5h7.4v7.5h-7.4zM31.6,352.5h7.4v7.5h-7.4zM45.3,352.5h7.4v7.5h-7.4zM24.7,359.6h7.4v7.5h-7.4z"/>
<path fill="#f84ef4" d="M114.0,345.5h7.4v7.5h-7.4zM120.9,345.5h7.4v7.5h-7.4zM127.7,345.5h7.4v7.5h-7.4zM134.6,345.5h7.4v7.5h-7.4zM65.9,352.5h7.4v7.5h-7.4zM72.8,352.5h7.4v7.5h-7.4zM79.7,352.5h7.4v7.5h-7.4zM86.5,352.5h7.4v7.5h-7.4zM114.0,352.5h7.4v7.5h-7.4zM120.9,352.5h7.4v7.5h-7.4zM59.1,359.6h7.4v7.5h-7.4zM65.9,359.6h7.4v7.5h-7.4zM72.8,359.6h7.4v7.5h-7.4zM79.7,359.6h7.4v7.5h-7.4zM86.5,359.6h7.4v7.5h-7.4zM93.4,359.6h7.4v7.5h-7.4zM114.0,359.6h7.4v7.5h-7.4zM120.9,359.6h7.4v7.5h-7.4zM52.2,366.6h7.4v7.5h-7.4zM59.1,366.6h7.4v7.5h-7.4zM65.9,366.6h7.4v7.5h-7.4zM72.8,366.6h7.4v7.5h-7.4zM79.7,366.6h7.4v7.5h-7.4zM86.5,366.6h7.4v7.5h-7.4zM93.4,366.6h7.4v7.5h-7.4zM114.0,366.6h7.4v7.5h-7.4zM17.9,373.6h7.4v7.5h-7.4zM24.7,373.6h7.4v7.5h-7.4zM31.6,373.6h7.4v7.5h-7.4zM38.5,373.6h7.4v7.5h-7.4zM45.3,373.6h7.4v7.5h-7.4zM52.2,373.6h7.4v7.5h-7.4zM59.1,373.6h7.4v7.5h-7.4zM65.9,373.6h7.4v7.5h-7.4zM72.8,373.6h7.4v7.5h-7.4zM79.7,373.6h7.4v7.5h-7.4zM86.5,373.6h7.4v7.5h-7.4zM93.4,373.6h7.4v7.5h-7.4zM114.0,373.6h7.4v7.5h-7.4zM-2.7,380.7h7.4v7.5h-7.4zM4.1,380.7h7.4v7.5h-7.4zM11.0,380.7h7.4v7.5h-7.4zM17.9,380.7h7.4v7.5h-7.4zM24.7,380.7h7.4v7.5h-7.4zM31.6,380.7h7.4v7.5h-7.4zM38.5,380.7h7.4v7.5h-7.4zM52.2,380.7h7.4v7.5h-7.4zM59.1,380.7h7.4v7.5h-7.4zM65.9,380.7h7.4v7.5h-7.4zM72.8,380.7h7.4v7.5h-7.4zM79.7,380.7h7.4v7.5h-7.4zM86.5,380.7h7.4v7.5h-7.4zM93.4,380.7h7.4v7.5h-7.4zM100.3,380.7h7.4v7.5h-7.4zM107.1,380.7h7.4v7.5h-7.4zM-2.7,387.7h7.4v7.5h-7.4zM4.1,387.7h7.4v7.5h-7.4zM11.0,387.7h7.4v7.5h-7.4zM17.9,387.7h7.4v7.5h-7.4zM31.6,387.7h7.4v7.5h-7.4zM38.5,387.7h7.4v7.5h-7.4zM45.3,387.7h7.4v7.5h-7.4zM52.2,387.7h7.4v7.5h-7.4zM59.1,387.7h7.4v7.5h-7.4zM65.9,387.7h7.4v7.5h-7.4zM79.7,387.7h7.4v7.5h-7.4zM86.5,387.7h7.4v7.5h-7.4zM93.4,387.7h7.4v7.5h-7.4zM100.3,387.7h7.4v7.5h-7.4zM107.1,387.7h7.4v7.5h-7.4zM-2.7,394.7h7.4v7.5h-7.4zM4.1,394.7h7.4v7.5h-7.4zM11.0,394.7h7.4v7.5h-7.4zM17.9,394.7h7.4v7.5h-7.4zM45.3,394.7h7.4v7.5h-7.4zM52.2,394.7h7.4v7.5h-7.4zM59.1,394.7h7.4v7.5h-7.4zM65.9,394.7h7.4v7.5h-7.4zM72.8,394.7h7.4v7.5h-7.4zM79.7,394.7h7.4v7.5h-7.4zM86.5,394.7h7.4v7.5h-7.4zM93.4,394.7h7.4v7.5h-7.4zM100.3,394.7h7.4v7.5h-7.4zM107.1,394.7h7.4v7.5h-7.4zM-2.7,401.8h7.4v7.5h-7.4zM4.1,401.8h7.4v7.5h-7.4zM11.0,401.8h7.4v7.5h-7.4zM52.2,401.8h7.4v7.5h-7.4zM59.1,401.8h7.4v7.5h-7.4zM65.9,401.8h7.4v7.5h-7.4zM72.8,401.8h7.4v7.5h-7.4zM79.7,401.8h7.4v7.5h-7.4zM86.5,401.8h7.4v7.5h-7.4zM93.4,401.8h7.4v7.5h-7.4zM100.3,401.8h7.4v7.5h-7.4zM107.1,401.8h7.4v7.5h-7.4zM-2.7,408.8h7.4v7.5h-7.4zM4.1,408.8h7.4v7.5h-7.4zM11.0,408.8h7.4v7.5h-7.4zM17.9,408.8h7.4v7.5h-7.4zM45.3,408.8h7.4v7.5h-7.4zM52.2,408.8h7.4v7.5h-7.4zM59.1,408.8h7.4v7.5h-7.4zM65.9,408.8h7.4v7.5h-7.4zM72.8,408.8h7.4v7.5h-7.4zM79.7,408.8h7.4v7.5h-7.4zM86.5,408.8h7.4v7.5h-7.4zM93.4,408.8h7.4v7.5h-7.4zM100.3,408.8h7.4v7.5h-7.4zM107.1,408.8h7.4v7.5h-7.4zM-2.7,415.8h7.4v7.5h-7.4zM4.1,415.8h7.4v7.5h-7.4zM11.0,415.8h7.4v7.5h-7.4zM17.9,415.8h7.4v7.5h-7.4zM24.7,415.8h7.4v7.5h-7.4zM45.3,415.8h7.4v7.5h-7.4zM52.2,415.8h7.4v7.5h-7.4zM59.1,415.8h7.4v7.5h-7.4zM65.9,415.8h7.4v7.5h-7.4zM72.8,415.8h7.4v7.5h-7.4zM79.7,415.8h7.4v7.5h-7.4zM86.5,415.8h7.4v7.5h-7.4zM93.4,415.8h7.4v7.5h-7.4zM100.3,415.8h7.4v7.5h-7.4zM107.1,415.8h7.4v7.5h-7.4zM114.0,415.8h7.4v7.5h-7.4zM-2.7,422.9h7.4v7.5h-7.4zM4.1,422.9h7.4v7.5h-7.4zM11.0,422.9h7.4v7.5h-7.4zM17.9,422.9h7.4v7.5h-7.4zM59.1,422.9h7.4v7.5h-7.4zM65.9,422.9h7.4v7.5h-7.4zM72.8,422.9h7.4v7.5h-7.4zM79.7,422.9h7.4v7.5h-7.4zM86.5,422.9h7.4v7.5h-7.4zM93.4,422.9h7.4v7.5h-7.4zM100.3,422.9h7.4v7.5h-7.4zM107.1,422.9h7.4v7.5h-7.4zM114.0,422.9h7.4v7.5h-7.4zM120.9,422.9h7.4v7.5h-7.4zM-2.7,429.9h7.4v7.5h-7.4zM4.1,429.9h7.4v7.5h-7.4zM11.0,429.9h7.4v7.5h-7.4zM17.9,429.9h7.4v7.5h-7.4zM24.7,429.9h7.4v7.5h-7.4zM65.9,429.9h7.4v7.5h-7.4zM72.8,429.9h7.4v7.5h-7.4zM79.7,429.9h7.4v7.5h-7.4zM86.5,429.9h7.4v7.5h-7.4zM93.4,429.9h7.4v7.5h-7.4zM100.3,429.9h7.4v7.5h-7.4zM107.1,429.9h7.4v7.5h-7.4zM114.0,429.9h7.4v7.5h-7.4zM120.9,429.9h7.4v7.5h-7.4zM-2.7,436.9h7.4v7.5h-7.4zM4.1,436.9h7.4v7.5h-7.4zM11.0,436.9h7.4v7.5h-7.4zM17.9,436.9h7.4v7.5h-7.4zM24.7,436.9h7.4v7.5h-7.4zM31.6,436.9h7.4v7.5h-7.4zM59.1,436.9h7.4v7.5h-7.4zM65.9,436.9h7.4v7.5h-7.4zM72.8,436.9h7.4v7.5h-7.4zM79.7,436.9h7.4v7.5h-7.4zM86.5,436.9h7.4v7.5h-7.4zM93.4,436.9h7.4v7.5h-7.4zM100.3,436.9h7.4v7.5h-7.4zM107.1,436.9h7.4v7.5h-7.4zM120.9,436.9h7.4v7.5h-7.4zM127.7,436.9h7.4v7.5h-7.4zM-2.7,444.0h7.4v7.5h-7.4zM4.1,444.0h7.4v7.5h-7.4zM11.0,444.0h7.4v7.5h-7.4zM17.9,444.0h7.4v7.5h-7.4zM24.7,444.0h7.4v7.5h-7.4zM31.6,444.0h7.4v7.5h-7.4zM38.5,444.0h7.4v7.5h-7.4zM52.2,444.0h7.4v7.5h-7.4zM59.1,444.0h7.4v7.5h-7.4zM79.7,444.0h7.4v7.5h-7.4zM86.5,444.0h7.4v7.5h-7.4zM93.4,444.0h7.4v7.5h-7.4zM100.3,444.0h7.4v7.5h-7.4zM107.1,444.0h7.4v7.5h-7.4zM127.7,444.0h7.4v7.5h-7.4zM134.6,444.0h7.4v7.5h-7.4zM-2.7,451.0h7.4v7.5h-7.4zM4.1,451.0h7.4v7.5h-7.4zM11.0,451.0h7.4v7.5h-7.4zM17.9,451.0h7.4v7.5h-7.4zM24.7,451.0h7.4v7.5h-7.4zM31.6,451.0h7.4v7.5h-7.4zM38.5,451.0h7.4v7.5h-7.4zM52.2,451.0h7.4v7.5h-7.4zM59.1,451.0h7.4v7.5h-7.4zM79.7,451.0h7.4v7.5h-7.4zM86.5,451.0h7.4v7.5h-7.4zM93.4,451.0h7.4v7.5h-7.4zM100.3,451.0h7.4v7.5h-7.4zM107.1,451.0h7.4v7.5h-7.4zM127.7,451.0h7.4v7.5h-7.4zM134.6,451.0h7.4v7.5h-7.4zM-2.7,458.0h7.4v7.5h-7.4zM4.1,458.0h7.4v7.5h-7.4zM11.0,458.0h7.4v7.5h-7.4zM17.9,458.0h7.4v7.5h-7.4zM24.7,458.0h7.4v7.5h-7.4zM31.6,458.0h7.4v7.5h-7.4zM38.5,458.0h7.4v7.5h-7.4zM52.2,458.0h7.4v7.5h-7.4zM59.1,458.0h7.4v7.5h-7.4zM79.7,458.0h7.4v7.5h-7.4zM86.5,458.0h7.4v7.5h-7.4zM93.4,458.0h7.4v7.5h-7.4zM100.3,458.0h7.4v7.5h-7.4zM107.1,458.0h7.4v7.5h-7.4zM127.7,458.0h7.4v7.5h-7.4zM134.6,458.0h7.4v7.5h-7.4z"/>
<path d="M188.0,250.0 L193.0,257.0 L199.0,263.0 L207.0,269.0 L214.0,271.0" fill="none" stroke="#9a6a9a" stroke-width="1.5" stroke-linecap="round" stroke-linejoin="round"/><path d="M184.0,256.0 L188.0,263.0 L191.0,269.0" fill="none" stroke="#9a6a9a" stroke-width="1.5" stroke-linecap="round" stroke-linejoin="round"/><path d="M163.0,317.0 L172.0,315.0 L183.0,307.0 L192.0,299.0 L200.0,295.0" fill="none" stroke="#9a6a9a" stroke-width="1.5" stroke-linecap="round" stroke-linejoin="round"/><path d="M146.0,330.0 L158.0,328.0 L170.0,327.0 L185.0,328.0 L198.0,329.0 L216.0,333.0" fill="none" stroke="#9a6a9a" stroke-width="1.5" stroke-linecap="round" stroke-linejoin="round"/><path d="M165.0,389.0 L176.0,382.0 L187.0,377.0 L198.0,373.0 L210.0,366.0 L217.0,363.0" fill="none" stroke="#9a6a9a" stroke-width="1.5" stroke-linecap="round" stroke-linejoin="round"/><path d="M176.0,382.0 L178.0,391.0 L184.0,397.0" fill="none" stroke="#9a6a9a" stroke-width="1.5" stroke-linecap="round" stroke-linejoin="round"/><path d="M128.0,366.0 L136.0,357.0 L141.0,351.0" fill="none" stroke="#9a6a9a" stroke-width="1.5" stroke-linecap="round" stroke-linejoin="round"/><path d="M150.0,409.0 L160.0,405.0 L170.0,407.0 L180.0,412.0" fill="none" stroke="#9a6a9a" stroke-width="1.5" stroke-linecap="round" stroke-linejoin="round"/><path d="M25.0,277.0 L31.0,273.0 L38.0,270.0" fill="none" stroke="#7a3a7a" stroke-width="2.2" stroke-linecap="round" stroke-linejoin="round"/><path d="M33.0,261.0 L40.0,258.0 L48.0,255.0" fill="none" stroke="#7a3a7a" stroke-width="2.2" stroke-linecap="round" stroke-linejoin="round"/><path d="M51.0,263.0 L56.0,261.0 L62.0,259.0" fill="none" stroke="#7a3a7a" stroke-width="2.2" stroke-linecap="round" stroke-linejoin="round"/><path d="M19.0,296.0 L24.0,293.0 L29.0,290.0" fill="none" stroke="#7a3a7a" stroke-width="2.2" stroke-linecap="round" stroke-linejoin="round"/><path d="M14.0,255.0 L19.0,251.0 L24.0,249.0" fill="none" stroke="#7a3a7a" stroke-width="2.2" stroke-linecap="round" stroke-linejoin="round"/><path d="M60.0,348.0 L68.0,351.0 L76.0,352.3 L91.0,352.3 L102.5,348.0 L110.0,343.5" fill="none" stroke="#402040" stroke-width="2.4" stroke-linecap="round" stroke-linejoin="round"/><path d="M114.0,444.0 L135.0,436.0 L155.0,428.0 L176.0,419.0" fill="none" stroke="#402040" stroke-width="2.4" stroke-linecap="round" stroke-linejoin="round"/>
</g></g>
<rect x="13.9" y="262.8" width="5.8" height="5.8" fill="#ee1c1c"/>
<rect x="11.2" y="277.0" width="5.8" height="5.8" fill="#ee1c1c"/>
<rect x="76.8" y="267.2" width="5.8" height="5.8" fill="#ee1c1c"/>
<rect x="110.9" y="257.0" width="5.8" height="5.8" fill="#ee1c1c"/>
<rect x="56.8" y="314.6" width="5.8" height="5.8" fill="#ee1c1c"/>
<rect x="107.3" y="314.6" width="5.8" height="5.8" fill="#ee1c1c"/>
<rect x="25.8" y="329.7" width="5.8" height="5.8" fill="#ee1c1c"/>
<rect x="150.8" y="259.3" width="5.8" height="5.8" fill="#1cc8ec"/>
<rect x="202.6" y="261.9" width="5.8" height="5.8" fill="#1cc8ec"/>
<rect x="118.4" y="271.7" width="5.8" height="5.8" fill="#1cc8ec"/>
<rect x="120.6" y="306.2" width="5.8" height="5.8" fill="#1cc8ec"/>
<rect x="128.2" y="323.9" width="5.8" height="5.8" fill="#1cc8ec"/>
<rect x="151.7" y="329.7" width="5.8" height="5.8" fill="#1cc8ec"/>
<rect x="160.5" y="340.3" width="5.8" height="5.8" fill="#1cc8ec"/>
<rect x="140.6" y="343.0" width="5.8" height="5.8" fill="#f020c8"/>
<rect x="134.8" y="353.2" width="5.8" height="5.8" fill="#f020c8"/>
<rect x="186.7" y="362.5" width="5.8" height="5.8" fill="#f020c8"/>
<rect x="132.2" y="371.8" width="5.8" height="5.8" fill="#f020c8"/>
<rect x="157.4" y="425.4" width="5.8" height="5.8" fill="#f020c8"/>
<rect x="168.1" y="443.1" width="5.8" height="5.8" fill="#f020c8"/>
<rect x="121.1" y="444.6" width="5.8" height="5.8" fill="#f020c8"/>
<rect x="23.2" y="352.3" width="5.8" height="5.8" fill="#f8e010"/>
<rect x="20.8" y="362.1" width="5.8" height="5.8" fill="#f8e010"/>
<rect x="19.2" y="387.7" width="5.8" height="5.8" fill="#f8e010"/>
<rect x="54.4" y="405.1" width="5.8" height="5.8" fill="#f8e010"/>
<rect x="99.5" y="401.1" width="5.8" height="5.8" fill="#f8e010"/>
<rect x="95.1" y="435.1" width="5.8" height="5.8" fill="#f8e010"/>
<rect x="71.1" y="443.8" width="5.8" height="5.8" fill="#f8e010"/>
<line x1="114.3" y1="240" x2="114.3" y2="451" stroke="#f4f4f4" stroke-width="1.1"/>
<line x1="11" y1="345.5" x2="217" y2="345.5" stroke="#f4f4f4" stroke-width="1.1"/>
<rect x="11.5" y="240.5" width="205" height="210" fill="none" stroke="#111" stroke-width="1"/>
<text x="114.3" y="236" text-anchor="middle" class="pl">(a)</text>
<text x="114.3" y="465.5" text-anchor="middle" class="pl">(c)</text>
<rect x="294.6" y="28.4" width="242.8" height="192.2" fill="#fff" stroke="#3a3a3a" stroke-width="1.1"/>
<line x1="290.6" y1="28.2" x2="294.6" y2="28.2" stroke="#3a3a3a" stroke-width="1"/>
<text x="288.3" y="31.3" class="tk" text-anchor="end">1.0</text>
<line x1="290.6" y1="49.6" x2="294.6" y2="49.6" stroke="#3a3a3a" stroke-width="1"/>
<text x="288.3" y="52.7" class="tk" text-anchor="end">0.8</text>
<line x1="290.6" y1="71.0" x2="294.6" y2="71.0" stroke="#3a3a3a" stroke-width="1"/>
<text x="288.3" y="74.1" class="tk" text-anchor="end">0.6</text>
<line x1="290.6" y1="92.3" x2="294.6" y2="92.3" stroke="#3a3a3a" stroke-width="1"/>
<text x="288.3" y="95.4" class="tk" text-anchor="end">0.4</text>
<line x1="290.6" y1="113.7" x2="294.6" y2="113.7" stroke="#3a3a3a" stroke-width="1"/>
<text x="288.3" y="116.8" class="tk" text-anchor="end">0.2</text>
<line x1="290.6" y1="135.1" x2="294.6" y2="135.1" stroke="#3a3a3a" stroke-width="1"/>
<text x="288.3" y="138.2" class="tk" text-anchor="end">0.0</text>
<line x1="290.6" y1="156.5" x2="294.6" y2="156.5" stroke="#3a3a3a" stroke-width="1"/>
<text x="288.3" y="159.6" class="tk" text-anchor="end">-0.2</text>
<line x1="290.6" y1="177.9" x2="294.6" y2="177.9" stroke="#3a3a3a" stroke-width="1"/>
<text x="288.3" y="181.0" class="tk" text-anchor="end">-0.4</text>
<line x1="290.6" y1="199.2" x2="294.6" y2="199.2" stroke="#3a3a3a" stroke-width="1"/>
<text x="288.3" y="202.3" class="tk" text-anchor="end">-0.6</text>
<line x1="290.6" y1="220.6" x2="294.6" y2="220.6" stroke="#3a3a3a" stroke-width="1"/>
<text x="288.3" y="223.7" class="tk" text-anchor="end">-0.8</text>
<line x1="292.4" y1="38.9" x2="294.6" y2="38.9" stroke="#3a3a3a" stroke-width="1"/>
<line x1="292.4" y1="60.3" x2="294.6" y2="60.3" stroke="#3a3a3a" stroke-width="1"/>
<line x1="292.4" y1="81.6" x2="294.6" y2="81.6" stroke="#3a3a3a" stroke-width="1"/>
<line x1="292.4" y1="103.0" x2="294.6" y2="103.0" stroke="#3a3a3a" stroke-width="1"/>
<line x1="292.4" y1="124.4" x2="294.6" y2="124.4" stroke="#3a3a3a" stroke-width="1"/>
<line x1="292.4" y1="145.8" x2="294.6" y2="145.8" stroke="#3a3a3a" stroke-width="1"/>
<line x1="292.4" y1="167.2" x2="294.6" y2="167.2" stroke="#3a3a3a" stroke-width="1"/>
<line x1="292.4" y1="188.6" x2="294.6" y2="188.6" stroke="#3a3a3a" stroke-width="1"/>
<line x1="292.4" y1="209.9" x2="294.6" y2="209.9" stroke="#3a3a3a" stroke-width="1"/>
<line x1="297.2" y1="37.2" x2="312.7" y2="37.2" stroke="#555555" stroke-width="1.4"/>
<text transform="translate(314.5,39.9) scale(1,1.22)" class="lg">CH1</text>
<line x1="331.4" y1="37.2" x2="346.9" y2="37.2" stroke="#f04848" stroke-width="1.4"/>
<text transform="translate(348.8,39.9) scale(1,1.22)" class="lg">CH2</text>
<line x1="365.7" y1="37.2" x2="381.2" y2="37.2" stroke="#1a6ee0" stroke-width="1.4"/>
<text transform="translate(383.0,39.9) scale(1,1.22)" class="lg">CH3</text>
<line x1="399.9" y1="37.2" x2="415.4" y2="37.2" stroke="#18a868" stroke-width="1.4"/>
<text transform="translate(417.2,39.9) scale(1,1.22)" class="lg">CH4</text>
<line x1="434.2" y1="37.2" x2="449.7" y2="37.2" stroke="#c070e8" stroke-width="1.4"/>
<text transform="translate(451.5,39.9) scale(1,1.22)" class="lg">CH5</text>
<line x1="468.4" y1="37.2" x2="483.9" y2="37.2" stroke="#e8a020" stroke-width="1.4"/>
<text transform="translate(485.8,39.9) scale(1,1.22)" class="lg">CH6</text>
<line x1="502.7" y1="37.2" x2="518.2" y2="37.2" stroke="#10d0d8" stroke-width="1.4"/>
<text transform="translate(520.0,39.9) scale(1,1.22)" class="lg">CH7</text>
<path d="M312.0,82.7 C314.7,83.3 322.5,85.5 328.0,86.5 C333.5,87.4 337.7,88.5 345.0,88.3 C352.3,88.0 364.5,86.2 372.0,84.9 C379.5,83.5 385.0,81.2 390.0,80.0 C395.0,78.9 398.3,78.2 402.0,78.2 C405.7,78.2 408.3,78.6 412.0,80.0 C415.7,81.5 419.9,84.1 424.0,87.0 C428.1,89.9 430.6,92.5 436.4,97.7 C442.2,102.9 452.9,112.8 459.0,118.0 C465.1,123.2 468.2,126.3 472.7,129.1 C477.2,132.0 481.4,133.8 486.0,135.1 C490.6,136.4 494.3,136.6 500.0,136.9 C505.7,137.2 516.7,137.0 520.0,137.0" fill="none" stroke="#555555" stroke-width="1.4"/>
<path d="M312.0,137.2 C314.3,133.1 321.2,118.6 326.0,112.7 C330.8,106.7 336.2,101.7 340.5,101.5 C344.8,101.4 348.5,106.8 352.0,111.6 C355.5,116.3 357.1,120.8 361.4,130.1 C365.7,139.3 372.6,158.7 378.0,167.2 C383.4,175.7 389.3,179.8 393.8,181.1 C398.3,182.3 401.5,178.8 405.0,174.7 C408.5,170.6 412.3,161.7 415.0,156.5 C417.7,151.2 419.3,147.5 421.0,143.1 C422.7,138.7 422.6,137.7 425.2,130.0 C427.8,122.3 432.6,106.8 436.4,96.9 C440.2,87.1 444.0,76.9 448.0,71.0 C452.0,65.0 456.2,62.1 460.2,61.3 C464.2,60.6 468.0,63.7 472.0,66.7 C476.0,69.7 479.8,75.6 484.0,79.5 C488.2,83.4 492.7,87.2 497.0,90.2 C501.3,93.2 506.2,95.7 510.0,97.7 C513.8,99.7 518.3,101.6 520.0,102.4" fill="none" stroke="#f04848" stroke-width="1.4"/>
<path d="M312.0,120.7 C314.2,115.1 320.4,95.8 325.0,87.0 C329.6,78.2 335.0,67.4 339.5,67.8 C344.0,68.1 348.1,78.7 352.0,89.1 C355.9,99.5 359.2,116.5 363.0,130.1 C366.8,143.6 370.6,159.9 375.0,170.4 C379.4,180.8 384.1,192.8 389.5,192.8 C394.9,192.8 403.1,176.6 407.3,170.4 C411.6,164.2 412.6,160.1 415.0,155.5 C417.4,151.0 419.3,146.5 421.4,143.1 C423.5,139.7 425.2,137.3 427.7,135.1 C430.2,132.9 434.1,130.9 436.6,129.8 C439.2,128.7 440.9,128.2 443.0,128.5 C445.1,128.7 446.8,128.5 449.3,131.3 C451.9,134.0 455.1,140.0 458.3,145.3 C461.5,150.5 465.0,156.7 468.4,162.9 C471.8,169.0 475.2,177.3 478.6,182.1 C482.0,186.9 485.6,189.8 489.0,191.8 C492.4,193.7 495.5,194.6 499.0,193.7 C502.5,192.8 506.5,189.9 510.0,186.4 C513.5,183.0 518.3,175.3 520.0,173.0" fill="none" stroke="#1a6ee0" stroke-width="1.4"/>
<path d="M312.0,115.9 C314.0,113.2 319.8,103.7 324.0,99.8 C328.2,95.9 333.1,91.8 337.4,92.3 C341.7,92.9 346.1,98.4 350.0,103.0 C353.9,107.7 357.8,115.5 360.5,120.1 C363.2,124.8 364.2,127.0 366.0,130.8 C367.8,134.7 369.6,139.6 371.4,143.1 C373.2,146.6 375.2,149.5 376.8,151.7 C378.4,153.8 379.7,155.8 381.2,156.1 C382.7,156.3 384.4,154.7 386.0,153.3 C387.6,151.8 388.5,150.3 391.0,147.3 C393.5,144.3 397.7,138.5 400.8,135.3 C403.9,132.1 406.1,127.0 409.5,128.3 C412.9,129.6 418.4,137.5 421.4,143.1 C424.4,148.7 425.6,155.1 427.7,161.8 C429.8,168.5 430.7,174.8 434.0,183.2 C437.3,191.6 443.2,211.8 447.7,212.1 C452.2,212.4 457.8,193.4 460.8,185.0 C463.8,176.6 464.0,171.0 465.9,161.8 C467.8,152.6 469.4,142.4 472.3,130.0 C475.2,117.5 479.4,97.4 483.0,87.0 C486.6,76.6 490.3,69.5 493.6,67.8 C496.9,66.0 500.3,71.3 503.0,76.3 C505.7,81.3 507.2,88.8 510.0,97.7 C512.8,106.5 518.3,124.1 520.0,129.3" fill="none" stroke="#18a868" stroke-width="1.4"/>
<path d="M312.0,181.7 C313.7,177.7 318.7,166.2 322.0,157.5 C325.3,148.9 327.3,141.8 332.0,130.1 C336.7,118.3 343.6,97.5 350.0,87.0 C356.4,76.5 364.7,67.0 370.5,67.0 C376.3,67.0 380.5,77.2 385.0,87.0 C389.5,96.7 393.6,111.8 397.7,125.5 C401.8,139.2 406.5,160.2 409.4,169.3 C412.3,178.4 413.0,177.5 415.0,180.0 C417.0,182.5 418.2,185.6 421.4,184.3 C424.6,182.9 430.2,178.1 434.0,172.0 C437.8,165.9 441.3,154.8 444.3,147.8 C447.3,140.8 448.9,135.5 452.0,130.0 C455.1,124.5 459.2,118.3 463.0,114.8 C466.8,111.3 469.8,107.4 475.0,109.1 C480.2,110.9 488.8,118.2 494.3,125.2 C499.8,132.2 503.7,142.4 508.0,151.1 C512.3,159.9 518.0,173.4 520.0,177.9" fill="none" stroke="#c070e8" stroke-width="1.4"/>
<path d="M312.0,169.0 C314.5,162.5 322.1,140.7 326.8,130.1 C331.5,119.4 335.5,111.0 340.0,105.2 C344.5,99.3 349.0,95.5 354.0,95.1 C359.0,94.8 365.7,99.8 370.0,103.0 C374.3,106.3 375.2,109.7 380.0,114.8 C384.8,119.9 393.2,129.2 399.0,133.7 C404.8,138.2 411.3,140.2 415.0,141.7 C418.7,143.3 418.6,142.5 421.4,143.1 C424.1,143.7 428.3,144.6 431.5,145.4 C434.7,146.1 437.8,146.8 440.4,147.8 C442.9,148.9 444.7,150.1 446.8,151.6 C448.9,153.0 451.1,154.6 453.2,156.5 C455.3,158.4 457.4,160.6 459.5,162.9 C461.6,165.2 463.8,168.2 465.9,170.4 C468.0,172.5 470.4,174.4 472.3,175.7 C474.2,177.0 475.6,178.2 477.3,178.3 C479.0,178.4 480.6,178.4 482.4,176.4 C484.2,174.3 486.1,170.8 488.0,166.1 C489.9,161.4 492.0,154.8 494.0,147.9 C496.0,141.1 497.3,134.8 500.0,125.2 C502.7,115.5 506.7,102.1 510.0,90.2 C513.3,78.3 518.3,59.7 520.0,53.6" fill="none" stroke="#e8a020" stroke-width="1.4"/>
<path d="M312.0,204.1 C314.2,196.5 321.0,171.0 325.0,158.6 C329.0,146.2 332.5,136.1 336.0,129.8 C339.5,123.4 342.7,121.0 346.0,120.7 C349.3,120.3 352.7,123.4 356.0,127.6 C359.3,131.8 362.4,140.4 366.0,145.8 C369.6,151.1 374.6,159.3 377.8,159.7 C381.0,160.0 382.3,153.7 385.0,147.9 C387.7,142.2 391.1,133.1 393.8,125.2 C396.5,117.2 398.5,109.2 401.0,100.1 C403.5,91.1 406.1,77.6 409.0,71.0 C411.9,64.3 415.2,59.4 418.2,60.3 C421.2,61.2 424.0,70.2 427.0,76.3 C430.0,82.4 433.4,89.3 436.4,96.9 C439.4,104.6 442.4,116.1 445.0,122.3 C447.6,128.4 449.1,131.0 451.9,133.8 C454.7,136.7 458.8,138.9 462.0,139.4 C465.2,139.9 468.2,138.3 471.0,136.9 C473.8,135.6 476.0,132.8 478.6,131.3 C481.2,129.7 483.7,127.5 486.4,127.6 C489.1,127.7 491.4,129.4 495.0,131.9 C498.6,134.4 503.8,138.8 508.0,142.6 C512.2,146.3 518.0,152.4 520.0,154.3" fill="none" stroke="#10d0d8" stroke-width="1.4"/>
<text x="512.2" y="215.6" class="pl">(b)</text>
<text transform="translate(270.3,118.2) rotate(-90)" text-anchor="middle" class="yt">The eigenvector of different channels</text>
<rect x="294.6" y="236.5" width="242.8" height="192" fill="#fff" stroke="#3a3a3a" stroke-width="1.1"/>
<line x1="290.6" y1="236.0" x2="294.6" y2="236.0" stroke="#3a3a3a" stroke-width="1"/>
<text x="287.2" y="239.1" class="tk" text-anchor="end">0.4</text>
<line x1="290.6" y1="265.4" x2="294.6" y2="265.4" stroke="#3a3a3a" stroke-width="1"/>
<text x="287.2" y="268.5" class="tk" text-anchor="end">0.3</text>
<line x1="290.6" y1="294.8" x2="294.6" y2="294.8" stroke="#3a3a3a" stroke-width="1"/>
<text x="287.2" y="297.9" class="tk" text-anchor="end">0.2</text>
<line x1="290.6" y1="324.2" x2="294.6" y2="324.2" stroke="#3a3a3a" stroke-width="1"/>
<text x="287.2" y="327.3" class="tk" text-anchor="end">0.1</text>
<line x1="290.6" y1="353.6" x2="294.6" y2="353.6" stroke="#3a3a3a" stroke-width="1"/>
<text x="287.2" y="356.7" class="tk" text-anchor="end">0.0</text>
<line x1="290.6" y1="383.0" x2="294.6" y2="383.0" stroke="#3a3a3a" stroke-width="1"/>
<text x="287.2" y="386.1" class="tk" text-anchor="end">-0.1</text>
<line x1="290.6" y1="412.4" x2="294.6" y2="412.4" stroke="#3a3a3a" stroke-width="1"/>
<text x="287.2" y="415.5" class="tk" text-anchor="end">-0.2</text>
<line x1="292.4" y1="250.7" x2="294.6" y2="250.7" stroke="#3a3a3a" stroke-width="1"/>
<line x1="292.4" y1="280.1" x2="294.6" y2="280.1" stroke="#3a3a3a" stroke-width="1"/>
<line x1="292.4" y1="309.5" x2="294.6" y2="309.5" stroke="#3a3a3a" stroke-width="1"/>
<line x1="292.4" y1="338.9" x2="294.6" y2="338.9" stroke="#3a3a3a" stroke-width="1"/>
<line x1="292.4" y1="368.3" x2="294.6" y2="368.3" stroke="#3a3a3a" stroke-width="1"/>
<line x1="292.4" y1="397.7" x2="294.6" y2="397.7" stroke="#3a3a3a" stroke-width="1"/>
<line x1="292.4" y1="426.8" x2="294.6" y2="426.8" stroke="#3a3a3a" stroke-width="1"/>
<line x1="294.7" y1="428.5" x2="294.7" y2="432.5" stroke="#3a3a3a" stroke-width="1"/>
<text x="294.7" y="441" class="tk" text-anchor="middle">-0.5</text>
<line x1="348.6" y1="428.5" x2="348.6" y2="432.5" stroke="#3a3a3a" stroke-width="1"/>
<text x="348.6" y="441" class="tk" text-anchor="middle">0.0</text>
<line x1="402.5" y1="428.5" x2="402.5" y2="432.5" stroke="#3a3a3a" stroke-width="1"/>
<text x="402.5" y="441" class="tk" text-anchor="middle">0.5</text>
<line x1="456.4" y1="428.5" x2="456.4" y2="432.5" stroke="#3a3a3a" stroke-width="1"/>
<text x="456.4" y="441" class="tk" text-anchor="middle">1.0</text>
<line x1="510.3" y1="428.5" x2="510.3" y2="432.5" stroke="#3a3a3a" stroke-width="1"/>
<text x="510.3" y="441" class="tk" text-anchor="middle">1.5</text>
<line x1="321.7" y1="428.5" x2="321.7" y2="430.7" stroke="#3a3a3a" stroke-width="1"/>
<line x1="375.6" y1="428.5" x2="375.6" y2="430.7" stroke="#3a3a3a" stroke-width="1"/>
<line x1="429.5" y1="428.5" x2="429.5" y2="430.7" stroke="#3a3a3a" stroke-width="1"/>
<line x1="483.4" y1="428.5" x2="483.4" y2="430.7" stroke="#3a3a3a" stroke-width="1"/>
<path d="M318.0,390.0 L322.0,370.0 L327.0,345.0 L333.0,326.0 L342.0,313.0 L355.0,305.0 L372.0,303.0 L390.0,307.0 L410.0,316.0 L430.0,325.0 L450.0,334.0 L475.0,344.0 L495.0,352.0 L506.0,362.0 L504.0,377.0 L480.0,382.0 L450.0,383.0 L420.0,383.0 L395.0,383.0 L372.0,385.0 L355.0,391.0 L338.0,397.0 L322.0,398.0Z" fill="#e00a66" filter="url(#coreblur)"/>
<g fill="#ff1275" stroke="#a8004c" stroke-width="0.55"><circle cx="373.1" cy="302.1" r="1.45"/><circle cx="350.0" cy="367.1" r="1.45"/><circle cx="445.8" cy="332.3" r="1.45"/><circle cx="455.3" cy="339.9" r="1.45"/><circle cx="433.5" cy="343.4" r="1.45"/><circle cx="481.6" cy="376.9" r="1.45"/><circle cx="333.5" cy="348.2" r="1.45"/><circle cx="435.5" cy="360.7" r="1.45"/><circle cx="364.1" cy="334.2" r="1.45"/><circle cx="352.3" cy="347.7" r="1.45"/><circle cx="383.6" cy="358.8" r="1.45"/><circle cx="457.7" cy="351.9" r="1.45"/><circle cx="388.9" cy="336.0" r="1.45"/><circle cx="346.6" cy="303.7" r="1.45"/><circle cx="321.9" cy="331.1" r="1.45"/><circle cx="500.0" cy="365.3" r="1.45"/><circle cx="356.6" cy="328.9" r="1.45"/><circle cx="405.9" cy="347.5" r="1.45"/><circle cx="358.7" cy="331.6" r="1.45"/><circle cx="374.5" cy="311.9" r="1.45"/><circle cx="487.1" cy="382.5" r="1.45"/><circle cx="417.8" cy="330.0" r="1.45"/><circle cx="382.5" cy="311.6" r="1.45"/><circle cx="343.8" cy="309.4" r="1.45"/><circle cx="449.0" cy="390.7" r="1.45"/><circle cx="471.4" cy="346.8" r="1.45"/><circle cx="516.7" cy="380.4" r="1.45"/><circle cx="366.0" cy="314.3" r="1.45"/><circle cx="358.3" cy="338.7" r="1.45"/><circle cx="338.2" cy="346.1" r="1.45"/><circle cx="426.8" cy="326.0" r="1.45"/><circle cx="426.5" cy="388.6" r="1.45"/><circle cx="476.5" cy="350.8" r="1.45"/><circle cx="439.7" cy="350.5" r="1.45"/><circle cx="458.2" cy="343.2" r="1.45"/><circle cx="334.1" cy="379.3" r="1.45"/><circle cx="335.7" cy="340.4" r="1.45"/><circle cx="376.7" cy="308.2" r="1.45"/><circle cx="442.3" cy="351.4" r="1.45"/><circle cx="430.0" cy="377.1" r="1.45"/><circle cx="313.9" cy="399.3" r="1.45"/><circle cx="376.7" cy="357.0" r="1.45"/><circle cx="353.5" cy="296.4" r="1.45"/><circle cx="368.8" cy="385.2" r="1.45"/><circle cx="467.5" cy="356.7" r="1.45"/><circle cx="490.3" cy="378.0" r="1.45"/><circle cx="391.8" cy="328.9" r="1.45"/><circle cx="357.4" cy="303.8" r="1.45"/><circle cx="363.5" cy="314.6" r="1.45"/><circle cx="369.9" cy="330.2" r="1.45"/><circle cx="386.5" cy="346.3" r="1.45"/><circle cx="344.8" cy="350.4" r="1.45"/><circle cx="352.2" cy="361.4" r="1.45"/><circle cx="471.5" cy="371.3" r="1.45"/><circle cx="455.9" cy="376.1" r="1.45"/><circle cx="322.7" cy="395.6" r="1.45"/><circle cx="443.2" cy="367.0" r="1.45"/><circle cx="471.0" cy="350.2" r="1.45"/><circle cx="408.9" cy="374.8" r="1.45"/><circle cx="440.7" cy="369.2" r="1.45"/><circle cx="368.7" cy="359.0" r="1.45"/><circle cx="458.0" cy="373.7" r="1.45"/><circle cx="417.6" cy="344.9" r="1.45"/><circle cx="325.8" cy="403.5" r="1.45"/><circle cx="402.1" cy="318.2" r="1.45"/><circle cx="331.2" cy="353.0" r="1.45"/><circle cx="329.1" cy="393.5" r="1.45"/><circle cx="502.9" cy="377.5" r="1.45"/><circle cx="505.4" cy="347.9" r="1.45"/><circle cx="368.1" cy="300.7" r="1.45"/><circle cx="371.4" cy="396.2" r="1.45"/><circle cx="365.3" cy="332.3" r="1.45"/><circle cx="397.2" cy="319.1" r="1.45"/><circle cx="321.9" cy="395.4" r="1.45"/><circle cx="425.1" cy="379.7" r="1.45"/><circle cx="447.1" cy="320.6" r="1.45"/><circle cx="377.7" cy="322.1" r="1.45"/><circle cx="367.8" cy="357.6" r="1.45"/><circle cx="507.3" cy="349.4" r="1.45"/><circle cx="358.1" cy="359.3" r="1.45"/><circle cx="419.3" cy="332.9" r="1.45"/><circle cx="327.5" cy="350.2" r="1.45"/><circle cx="355.8" cy="336.1" r="1.45"/><circle cx="355.8" cy="296.4" r="1.45"/><circle cx="403.9" cy="356.8" r="1.45"/><circle cx="447.3" cy="323.0" r="1.45"/><circle cx="356.5" cy="368.4" r="1.45"/><circle cx="432.9" cy="334.5" r="1.45"/><circle cx="502.2" cy="346.4" r="1.45"/><circle cx="454.0" cy="338.8" r="1.45"/><circle cx="468.9" cy="350.4" r="1.45"/><circle cx="351.7" cy="311.7" r="1.45"/><circle cx="341.7" cy="312.0" r="1.45"/><circle cx="389.2" cy="310.6" r="1.45"/><circle cx="374.4" cy="306.8" r="1.45"/><circle cx="385.8" cy="332.5" r="1.45"/><circle cx="485.6" cy="386.2" r="1.45"/><circle cx="357.7" cy="383.5" r="1.45"/><circle cx="376.7" cy="318.7" r="1.45"/><circle cx="371.4" cy="319.1" r="1.45"/><circle cx="387.6" cy="315.8" r="1.45"/><circle cx="476.6" cy="364.4" r="1.45"/><circle cx="372.2" cy="330.9" r="1.45"/><circle cx="355.5" cy="290.3" r="1.45"/><circle cx="462.1" cy="342.5" r="1.45"/><circle cx="394.6" cy="366.2" r="1.45"/><circle cx="326.4" cy="396.3" r="1.45"/><circle cx="429.2" cy="332.4" r="1.45"/><circle cx="344.4" cy="315.3" r="1.45"/><circle cx="373.7" cy="335.6" r="1.45"/><circle cx="435.9" cy="366.1" r="1.45"/><circle cx="383.5" cy="300.8" r="1.45"/><circle cx="357.3" cy="363.3" r="1.45"/><circle cx="345.4" cy="390.1" r="1.45"/><circle cx="425.3" cy="368.7" r="1.45"/><circle cx="336.2" cy="376.4" r="1.45"/><circle cx="363.8" cy="323.5" r="1.45"/><circle cx="370.5" cy="358.8" r="1.45"/><circle cx="382.4" cy="308.4" r="1.45"/><circle cx="502.0" cy="344.4" r="1.45"/><circle cx="384.0" cy="350.4" r="1.45"/><circle cx="363.8" cy="352.6" r="1.45"/><circle cx="335.4" cy="388.8" r="1.45"/><circle cx="340.7" cy="311.3" r="1.45"/><circle cx="417.9" cy="333.9" r="1.45"/><circle cx="355.4" cy="380.4" r="1.45"/><circle cx="307.3" cy="395.9" r="1.45"/><circle cx="436.7" cy="356.6" r="1.45"/><circle cx="369.1" cy="338.8" r="1.45"/><circle cx="396.6" cy="371.4" r="1.45"/><circle cx="478.3" cy="344.1" r="1.45"/><circle cx="336.6" cy="389.1" r="1.45"/><circle cx="335.1" cy="403.9" r="1.45"/><circle cx="415.1" cy="325.1" r="1.45"/><circle cx="474.7" cy="341.9" r="1.45"/><circle cx="357.0" cy="368.8" r="1.45"/><circle cx="433.5" cy="372.1" r="1.45"/><circle cx="440.5" cy="340.5" r="1.45"/><circle cx="380.3" cy="296.0" r="1.45"/><circle cx="350.2" cy="361.2" r="1.45"/><circle cx="345.6" cy="366.7" r="1.45"/><circle cx="428.1" cy="329.3" r="1.45"/><circle cx="355.8" cy="404.8" r="1.45"/><circle cx="421.0" cy="336.9" r="1.45"/><circle cx="312.0" cy="387.8" r="1.45"/><circle cx="344.5" cy="364.5" r="1.45"/><circle cx="369.8" cy="322.5" r="1.45"/><circle cx="405.7" cy="382.7" r="1.45"/><circle cx="359.8" cy="357.1" r="1.45"/><circle cx="480.2" cy="352.9" r="1.45"/><circle cx="352.9" cy="383.0" r="1.45"/><circle cx="374.2" cy="314.1" r="1.45"/><circle cx="443.9" cy="376.1" r="1.45"/><circle cx="465.5" cy="359.4" r="1.45"/><circle cx="347.4" cy="366.5" r="1.45"/><circle cx="458.2" cy="368.0" r="1.45"/><circle cx="345.9" cy="296.8" r="1.45"/><circle cx="488.7" cy="367.7" r="1.45"/><circle cx="345.8" cy="325.1" r="1.45"/><circle cx="463.5" cy="331.7" r="1.45"/><circle cx="399.1" cy="387.0" r="1.45"/><circle cx="460.9" cy="354.9" r="1.45"/><circle cx="411.6" cy="348.6" r="1.45"/><circle cx="341.0" cy="349.0" r="1.45"/><circle cx="363.9" cy="310.8" r="1.45"/><circle cx="317.1" cy="389.1" r="1.45"/><circle cx="479.9" cy="367.2" r="1.45"/><circle cx="391.0" cy="335.4" r="1.45"/><circle cx="318.4" cy="402.8" r="1.45"/><circle cx="346.0" cy="317.4" r="1.45"/><circle cx="414.0" cy="333.3" r="1.45"/><circle cx="352.3" cy="344.4" r="1.45"/><circle cx="378.8" cy="326.1" r="1.45"/><circle cx="337.6" cy="341.4" r="1.45"/><circle cx="368.0" cy="377.5" r="1.45"/><circle cx="373.8" cy="352.8" r="1.45"/><circle cx="374.1" cy="307.3" r="1.45"/><circle cx="481.7" cy="381.6" r="1.45"/><circle cx="343.7" cy="368.6" r="1.45"/><circle cx="346.1" cy="334.5" r="1.45"/><circle cx="413.9" cy="367.8" r="1.45"/><circle cx="331.2" cy="363.9" r="1.45"/><circle cx="430.8" cy="383.8" r="1.45"/><circle cx="351.2" cy="380.1" r="1.45"/><circle cx="455.1" cy="369.1" r="1.45"/><circle cx="370.6" cy="367.3" r="1.45"/><circle cx="403.4" cy="366.3" r="1.45"/><circle cx="515.3" cy="352.4" r="1.45"/><circle cx="430.9" cy="355.4" r="1.45"/><circle cx="416.6" cy="368.8" r="1.45"/><circle cx="346.9" cy="374.9" r="1.45"/><circle cx="395.4" cy="376.8" r="1.45"/><circle cx="359.6" cy="312.1" r="1.45"/><circle cx="328.3" cy="387.5" r="1.45"/><circle cx="444.7" cy="345.5" r="1.45"/><circle cx="406.4" cy="321.7" r="1.45"/><circle cx="327.4" cy="395.3" r="1.45"/><circle cx="356.9" cy="339.7" r="1.45"/><circle cx="355.0" cy="322.7" r="1.45"/><circle cx="397.3" cy="368.5" r="1.45"/><circle cx="517.9" cy="371.0" r="1.45"/><circle cx="420.8" cy="382.8" r="1.45"/><circle cx="502.0" cy="357.3" r="1.45"/><circle cx="411.8" cy="349.5" r="1.45"/><circle cx="406.4" cy="358.3" r="1.45"/><circle cx="382.9" cy="346.3" r="1.45"/><circle cx="395.9" cy="357.1" r="1.45"/><circle cx="414.6" cy="318.6" r="1.45"/><circle cx="374.8" cy="324.8" r="1.45"/><circle cx="433.7" cy="368.2" r="1.45"/><circle cx="438.8" cy="371.3" r="1.45"/><circle cx="508.2" cy="365.0" r="1.45"/><circle cx="443.0" cy="376.6" r="1.45"/><circle cx="404.0" cy="385.6" r="1.45"/><circle cx="509.2" cy="371.0" r="1.45"/><circle cx="358.0" cy="322.7" r="1.45"/><circle cx="371.9" cy="340.3" r="1.45"/><circle cx="347.4" cy="302.2" r="1.45"/><circle cx="354.3" cy="381.6" r="1.45"/><circle cx="495.7" cy="381.1" r="1.45"/><circle cx="443.4" cy="378.3" r="1.45"/><circle cx="448.5" cy="393.1" r="1.45"/><circle cx="370.2" cy="381.1" r="1.45"/><circle cx="497.0" cy="347.9" r="1.45"/><circle cx="383.2" cy="360.0" r="1.45"/><circle cx="382.2" cy="369.5" r="1.45"/><circle cx="394.8" cy="334.2" r="1.45"/><circle cx="395.9" cy="361.6" r="1.45"/><circle cx="344.7" cy="383.9" r="1.45"/><circle cx="352.4" cy="364.3" r="1.45"/><circle cx="405.8" cy="309.7" r="1.45"/><circle cx="318.7" cy="391.6" r="1.45"/><circle cx="352.2" cy="360.6" r="1.45"/><circle cx="502.5" cy="352.7" r="1.45"/><circle cx="340.1" cy="377.2" r="1.45"/><circle cx="428.6" cy="336.4" r="1.45"/><circle cx="378.0" cy="352.4" r="1.45"/><circle cx="410.6" cy="358.9" r="1.45"/><circle cx="436.4" cy="335.7" r="1.45"/><circle cx="389.1" cy="342.7" r="1.45"/><circle cx="331.9" cy="384.6" r="1.45"/><circle cx="337.4" cy="314.0" r="1.45"/><circle cx="443.3" cy="343.2" r="1.45"/><circle cx="331.4" cy="311.8" r="1.45"/><circle cx="463.0" cy="357.0" r="1.45"/><circle cx="375.6" cy="304.4" r="1.45"/><circle cx="364.5" cy="316.7" r="1.45"/><circle cx="341.3" cy="340.9" r="1.45"/><circle cx="348.8" cy="359.5" r="1.45"/><circle cx="340.0" cy="386.7" r="1.45"/><circle cx="438.8" cy="349.1" r="1.45"/><circle cx="346.0" cy="365.1" r="1.45"/><circle cx="485.6" cy="361.1" r="1.45"/><circle cx="341.4" cy="395.0" r="1.45"/><circle cx="336.2" cy="332.2" r="1.45"/><circle cx="412.6" cy="351.6" r="1.45"/><circle cx="350.1" cy="306.4" r="1.45"/><circle cx="356.2" cy="393.0" r="1.45"/><circle cx="320.7" cy="376.9" r="1.45"/><circle cx="419.0" cy="377.4" r="1.45"/><circle cx="498.9" cy="379.4" r="1.45"/><circle cx="326.9" cy="348.9" r="1.45"/><circle cx="363.0" cy="298.2" r="1.45"/><circle cx="330.1" cy="362.3" r="1.45"/><circle cx="332.4" cy="359.7" r="1.45"/><circle cx="336.4" cy="394.3" r="1.45"/><circle cx="388.1" cy="338.9" r="1.45"/><circle cx="375.7" cy="341.0" r="1.45"/><circle cx="395.8" cy="367.9" r="1.45"/><circle cx="359.8" cy="374.1" r="1.45"/><circle cx="356.3" cy="352.5" r="1.45"/><circle cx="406.0" cy="354.4" r="1.45"/><circle cx="392.2" cy="320.9" r="1.45"/><circle cx="439.1" cy="359.3" r="1.45"/><circle cx="344.9" cy="378.5" r="1.45"/><circle cx="424.8" cy="365.1" r="1.45"/><circle cx="370.1" cy="314.6" r="1.45"/><circle cx="416.6" cy="333.8" r="1.45"/><circle cx="353.5" cy="357.5" r="1.45"/><circle cx="499.3" cy="341.6" r="1.45"/><circle cx="387.9" cy="341.5" r="1.45"/><circle cx="379.7" cy="373.7" r="1.45"/><circle cx="438.5" cy="333.3" r="1.45"/><circle cx="404.0" cy="380.2" r="1.45"/><circle cx="388.6" cy="357.3" r="1.45"/><circle cx="413.6" cy="342.1" r="1.45"/><circle cx="368.6" cy="301.3" r="1.45"/><circle cx="417.8" cy="352.1" r="1.45"/><circle cx="388.3" cy="330.3" r="1.45"/><circle cx="390.9" cy="358.1" r="1.45"/><circle cx="377.6" cy="353.9" r="1.45"/><circle cx="337.9" cy="324.9" r="1.45"/><circle cx="488.9" cy="351.5" r="1.45"/><circle cx="334.6" cy="321.1" r="1.45"/><circle cx="443.7" cy="363.8" r="1.45"/><circle cx="393.3" cy="389.0" r="1.45"/><circle cx="492.6" cy="361.5" r="1.45"/><circle cx="343.8" cy="349.5" r="1.45"/><circle cx="359.8" cy="369.8" r="1.45"/><circle cx="380.1" cy="304.6" r="1.45"/><circle cx="378.9" cy="342.9" r="1.45"/><circle cx="354.5" cy="334.7" r="1.45"/><circle cx="349.5" cy="323.7" r="1.45"/><circle cx="338.5" cy="330.4" r="1.45"/><circle cx="325.0" cy="354.4" r="1.45"/><circle cx="342.6" cy="320.2" r="1.45"/><circle cx="334.4" cy="377.9" r="1.45"/><circle cx="360.7" cy="395.5" r="1.45"/><circle cx="335.2" cy="329.7" r="1.45"/><circle cx="383.3" cy="315.1" r="1.45"/><circle cx="347.5" cy="400.6" r="1.45"/><circle cx="416.8" cy="355.6" r="1.45"/><circle cx="429.4" cy="323.9" r="1.45"/><circle cx="372.5" cy="372.0" r="1.45"/><circle cx="428.0" cy="330.8" r="1.45"/><circle cx="363.6" cy="336.6" r="1.45"/><circle cx="329.0" cy="319.2" r="1.45"/><circle cx="455.2" cy="372.1" r="1.45"/><circle cx="393.6" cy="371.5" r="1.45"/><circle cx="355.8" cy="397.1" r="1.45"/><circle cx="344.2" cy="322.9" r="1.45"/><circle cx="339.9" cy="396.1" r="1.45"/><circle cx="456.2" cy="329.1" r="1.45"/><circle cx="397.2" cy="351.4" r="1.45"/><circle cx="327.9" cy="385.5" r="1.45"/><circle cx="423.9" cy="315.6" r="1.45"/><circle cx="381.0" cy="337.7" r="1.45"/><circle cx="370.1" cy="300.1" r="1.45"/><circle cx="379.5" cy="322.4" r="1.45"/><circle cx="331.2" cy="358.4" r="1.45"/><circle cx="337.5" cy="372.5" r="1.45"/><circle cx="343.9" cy="377.3" r="1.45"/><circle cx="382.2" cy="304.4" r="1.45"/><circle cx="398.6" cy="307.4" r="1.45"/><circle cx="356.5" cy="315.1" r="1.45"/><circle cx="366.8" cy="306.9" r="1.45"/><circle cx="373.8" cy="306.7" r="1.45"/><circle cx="372.3" cy="331.8" r="1.45"/><circle cx="334.8" cy="322.4" r="1.45"/><circle cx="317.0" cy="375.4" r="1.45"/><circle cx="363.8" cy="371.8" r="1.45"/><circle cx="395.6" cy="327.7" r="1.45"/><circle cx="336.4" cy="321.9" r="1.45"/><circle cx="428.4" cy="329.0" r="1.45"/><circle cx="367.5" cy="328.4" r="1.45"/><circle cx="384.2" cy="360.8" r="1.45"/><circle cx="420.7" cy="358.6" r="1.45"/><circle cx="356.5" cy="348.3" r="1.45"/><circle cx="350.7" cy="359.7" r="1.45"/><circle cx="416.8" cy="361.8" r="1.45"/><circle cx="428.3" cy="387.3" r="1.45"/><circle cx="347.6" cy="322.4" r="1.45"/><circle cx="377.2" cy="385.7" r="1.45"/><circle cx="425.0" cy="391.1" r="1.45"/><circle cx="511.8" cy="373.7" r="1.45"/><circle cx="343.0" cy="342.5" r="1.45"/><circle cx="324.0" cy="390.8" r="1.45"/><circle cx="422.6" cy="375.6" r="1.45"/><circle cx="333.3" cy="350.0" r="1.45"/><circle cx="487.1" cy="374.3" r="1.45"/><circle cx="504.6" cy="361.9" r="1.45"/><circle cx="337.6" cy="330.8" r="1.45"/><circle cx="431.5" cy="334.4" r="1.45"/><circle cx="361.3" cy="318.8" r="1.45"/><circle cx="358.9" cy="359.2" r="1.45"/><circle cx="477.0" cy="367.9" r="1.45"/><circle cx="382.2" cy="319.9" r="1.45"/><circle cx="368.6" cy="385.7" r="1.45"/><circle cx="415.8" cy="368.2" r="1.45"/><circle cx="425.4" cy="336.9" r="1.45"/><circle cx="376.2" cy="325.6" r="1.45"/><circle cx="409.5" cy="331.6" r="1.45"/><circle cx="352.6" cy="329.2" r="1.45"/><circle cx="401.2" cy="359.1" r="1.45"/><circle cx="369.6" cy="380.7" r="1.45"/><circle cx="362.1" cy="316.7" r="1.45"/><circle cx="348.8" cy="336.0" r="1.45"/><circle cx="343.8" cy="381.7" r="1.45"/><circle cx="341.9" cy="354.8" r="1.45"/><circle cx="373.8" cy="383.8" r="1.45"/><circle cx="391.9" cy="374.2" r="1.45"/><circle cx="319.2" cy="392.6" r="1.45"/><circle cx="422.7" cy="361.8" r="1.45"/><circle cx="450.0" cy="363.6" r="1.45"/><circle cx="362.6" cy="352.9" r="1.45"/><circle cx="413.5" cy="368.3" r="1.45"/><circle cx="483.0" cy="344.3" r="1.45"/><circle cx="359.0" cy="340.7" r="1.45"/><circle cx="345.3" cy="385.1" r="1.45"/><circle cx="455.9" cy="363.1" r="1.45"/><circle cx="324.2" cy="414.5" r="1.45"/><circle cx="351.9" cy="340.3" r="1.45"/><circle cx="329.8" cy="340.0" r="1.45"/><circle cx="359.5" cy="290.9" r="1.45"/><circle cx="415.8" cy="337.2" r="1.45"/><circle cx="449.0" cy="355.8" r="1.45"/><circle cx="463.9" cy="336.0" r="1.45"/><circle cx="387.3" cy="337.5" r="1.45"/><circle cx="385.4" cy="314.4" r="1.45"/><circle cx="325.3" cy="396.6" r="1.45"/><circle cx="373.3" cy="369.7" r="1.45"/><circle cx="443.6" cy="383.0" r="1.45"/><circle cx="439.8" cy="373.9" r="1.45"/><circle cx="443.5" cy="355.6" r="1.45"/><circle cx="407.6" cy="380.0" r="1.45"/><circle cx="408.4" cy="311.7" r="1.45"/><circle cx="338.2" cy="393.7" r="1.45"/><circle cx="334.0" cy="315.8" r="1.45"/><circle cx="333.0" cy="374.3" r="1.45"/><circle cx="418.5" cy="313.9" r="1.45"/><circle cx="376.9" cy="333.5" r="1.45"/><circle cx="344.8" cy="359.4" r="1.45"/><circle cx="339.6" cy="379.5" r="1.45"/><circle cx="373.2" cy="314.5" r="1.45"/><circle cx="345.0" cy="339.3" r="1.45"/><circle cx="440.9" cy="332.2" r="1.45"/><circle cx="400.5" cy="331.6" r="1.45"/><circle cx="366.6" cy="337.2" r="1.45"/><circle cx="451.9" cy="326.5" r="1.45"/><circle cx="411.7" cy="351.4" r="1.45"/><circle cx="453.0" cy="382.6" r="1.45"/><circle cx="475.8" cy="386.6" r="1.45"/><circle cx="462.4" cy="347.4" r="1.45"/><circle cx="457.8" cy="338.5" r="1.45"/><circle cx="332.0" cy="327.1" r="1.45"/><circle cx="359.0" cy="324.2" r="1.45"/><circle cx="496.5" cy="357.4" r="1.45"/><circle cx="357.8" cy="309.1" r="1.45"/><circle cx="422.2" cy="332.5" r="1.45"/><circle cx="411.2" cy="361.2" r="1.45"/><circle cx="421.4" cy="337.3" r="1.45"/><circle cx="373.1" cy="318.8" r="1.45"/><circle cx="365.7" cy="378.5" r="1.45"/><circle cx="398.5" cy="368.8" r="1.45"/><circle cx="483.1" cy="349.5" r="1.45"/><circle cx="366.2" cy="313.3" r="1.45"/><circle cx="372.0" cy="358.0" r="1.45"/><circle cx="333.5" cy="390.6" r="1.45"/><circle cx="397.6" cy="374.2" r="1.45"/><circle cx="365.5" cy="329.0" r="1.45"/><circle cx="516.2" cy="371.1" r="1.45"/><circle cx="375.3" cy="342.9" r="1.45"/><circle cx="435.8" cy="344.5" r="1.45"/><circle cx="328.9" cy="360.4" r="1.45"/><circle cx="384.9" cy="372.0" r="1.45"/><circle cx="325.5" cy="349.2" r="1.45"/><circle cx="325.6" cy="345.4" r="1.45"/><circle cx="421.9" cy="350.7" r="1.45"/><circle cx="344.1" cy="336.6" r="1.45"/><circle cx="430.0" cy="375.5" r="1.45"/><circle cx="479.2" cy="378.5" r="1.45"/><circle cx="355.1" cy="363.3" r="1.45"/><circle cx="481.0" cy="347.0" r="1.45"/><circle cx="493.4" cy="388.9" r="1.45"/><circle cx="329.6" cy="394.6" r="1.45"/><circle cx="483.4" cy="362.1" r="1.45"/><circle cx="352.0" cy="308.5" r="1.45"/><circle cx="353.0" cy="348.7" r="1.45"/><circle cx="456.5" cy="378.5" r="1.45"/><circle cx="376.8" cy="362.7" r="1.45"/><circle cx="395.0" cy="364.0" r="1.45"/><circle cx="375.8" cy="310.7" r="1.45"/><circle cx="493.2" cy="366.0" r="1.45"/><circle cx="400.4" cy="371.7" r="1.45"/><circle cx="326.3" cy="374.7" r="1.45"/><circle cx="389.4" cy="349.7" r="1.45"/><circle cx="497.2" cy="351.6" r="1.45"/><circle cx="444.2" cy="332.8" r="1.45"/><circle cx="490.9" cy="374.8" r="1.45"/><circle cx="466.5" cy="383.9" r="1.45"/><circle cx="470.8" cy="369.1" r="1.45"/><circle cx="484.0" cy="373.8" r="1.45"/><circle cx="362.5" cy="303.6" r="1.45"/><circle cx="330.7" cy="351.9" r="1.45"/><circle cx="335.9" cy="382.3" r="1.45"/><circle cx="341.6" cy="323.7" r="1.45"/><circle cx="344.0" cy="325.3" r="1.45"/><circle cx="371.1" cy="302.3" r="1.45"/><circle cx="406.9" cy="357.8" r="1.45"/><circle cx="510.0" cy="353.8" r="1.45"/><circle cx="472.2" cy="374.1" r="1.45"/><circle cx="418.6" cy="372.9" r="1.45"/><circle cx="329.3" cy="327.7" r="1.45"/><circle cx="393.7" cy="350.0" r="1.45"/><circle cx="452.4" cy="360.4" r="1.45"/><circle cx="453.3" cy="384.4" r="1.45"/><circle cx="328.8" cy="377.6" r="1.45"/><circle cx="439.6" cy="319.0" r="1.45"/><circle cx="347.6" cy="312.1" r="1.45"/><circle cx="381.4" cy="377.0" r="1.45"/><circle cx="376.9" cy="326.7" r="1.45"/><circle cx="348.7" cy="389.8" r="1.45"/><circle cx="305.5" cy="387.7" r="1.45"/><circle cx="414.8" cy="339.4" r="1.45"/><circle cx="443.7" cy="380.4" r="1.45"/><circle cx="390.7" cy="351.4" r="1.45"/><circle cx="329.3" cy="343.5" r="1.45"/><circle cx="461.8" cy="343.6" r="1.45"/><circle cx="342.3" cy="336.5" r="1.45"/><circle cx="343.3" cy="382.0" r="1.45"/><circle cx="343.8" cy="317.8" r="1.45"/><circle cx="336.2" cy="367.8" r="1.45"/><circle cx="334.0" cy="387.6" r="1.45"/><circle cx="323.6" cy="358.4" r="1.45"/><circle cx="346.7" cy="315.9" r="1.45"/><circle cx="433.4" cy="333.2" r="1.45"/><circle cx="345.9" cy="314.7" r="1.45"/><circle cx="433.5" cy="368.4" r="1.45"/><circle cx="453.6" cy="378.9" r="1.45"/><circle cx="448.2" cy="376.0" r="1.45"/><circle cx="351.2" cy="335.0" r="1.45"/><circle cx="322.9" cy="388.9" r="1.45"/><circle cx="441.4" cy="362.7" r="1.45"/><circle cx="365.6" cy="335.7" r="1.45"/><circle cx="485.6" cy="344.0" r="1.45"/><circle cx="383.2" cy="322.8" r="1.45"/><circle cx="332.6" cy="364.3" r="1.45"/><circle cx="324.7" cy="376.0" r="1.45"/><circle cx="418.4" cy="343.7" r="1.45"/><circle cx="491.5" cy="379.3" r="1.45"/><circle cx="400.3" cy="377.9" r="1.45"/><circle cx="367.8" cy="329.1" r="1.45"/><circle cx="361.7" cy="315.6" r="1.45"/><circle cx="370.8" cy="367.1" r="1.45"/><circle cx="420.9" cy="370.2" r="1.45"/><circle cx="347.5" cy="320.7" r="1.45"/><circle cx="456.8" cy="375.8" r="1.45"/><circle cx="434.8" cy="371.1" r="1.45"/><circle cx="368.4" cy="337.3" r="1.45"/><circle cx="401.1" cy="380.9" r="1.45"/><circle cx="433.8" cy="371.8" r="1.45"/><circle cx="386.8" cy="370.5" r="1.45"/><circle cx="350.0" cy="290.3" r="1.45"/><circle cx="382.3" cy="380.1" r="1.45"/><circle cx="349.0" cy="333.9" r="1.45"/><circle cx="338.6" cy="313.0" r="1.45"/><circle cx="419.5" cy="314.2" r="1.45"/><circle cx="371.8" cy="309.5" r="1.45"/><circle cx="409.5" cy="306.1" r="1.45"/><circle cx="449.0" cy="351.8" r="1.45"/><circle cx="406.9" cy="382.6" r="1.45"/><circle cx="352.5" cy="349.6" r="1.45"/><circle cx="350.8" cy="363.1" r="1.45"/><circle cx="391.2" cy="374.2" r="1.45"/><circle cx="372.7" cy="337.1" r="1.45"/><circle cx="335.9" cy="394.5" r="1.45"/><circle cx="428.0" cy="378.7" r="1.45"/><circle cx="352.5" cy="304.4" r="1.45"/><circle cx="402.8" cy="337.3" r="1.45"/><circle cx="449.1" cy="351.5" r="1.45"/><circle cx="354.7" cy="371.3" r="1.45"/><circle cx="357.4" cy="313.8" r="1.45"/><circle cx="419.3" cy="374.0" r="1.45"/><circle cx="469.4" cy="366.7" r="1.45"/><circle cx="453.4" cy="390.6" r="1.45"/><circle cx="408.1" cy="374.0" r="1.45"/><circle cx="348.0" cy="317.8" r="1.45"/><circle cx="329.8" cy="336.9" r="1.45"/><circle cx="431.5" cy="330.1" r="1.45"/><circle cx="491.1" cy="369.1" r="1.45"/><circle cx="500.2" cy="361.9" r="1.45"/><circle cx="361.3" cy="291.1" r="1.45"/><circle cx="338.4" cy="376.5" r="1.45"/><circle cx="351.5" cy="317.7" r="1.45"/><circle cx="375.8" cy="352.8" r="1.45"/><circle cx="394.7" cy="346.9" r="1.45"/><circle cx="359.1" cy="389.6" r="1.45"/><circle cx="377.3" cy="348.6" r="1.45"/><circle cx="512.6" cy="358.0" r="1.45"/><circle cx="334.0" cy="376.0" r="1.45"/><circle cx="342.6" cy="378.1" r="1.45"/><circle cx="451.4" cy="358.6" r="1.45"/><circle cx="342.9" cy="361.0" r="1.45"/><circle cx="396.1" cy="354.3" r="1.45"/><circle cx="365.5" cy="368.8" r="1.45"/><circle cx="370.2" cy="371.9" r="1.45"/><circle cx="404.9" cy="308.5" r="1.45"/><circle cx="415.3" cy="352.7" r="1.45"/><circle cx="410.0" cy="316.0" r="1.45"/><circle cx="349.6" cy="324.9" r="1.45"/><circle cx="445.3" cy="319.5" r="1.45"/><circle cx="405.9" cy="366.0" r="1.45"/><circle cx="364.9" cy="386.3" r="1.45"/><circle cx="338.5" cy="385.9" r="1.45"/><circle cx="376.4" cy="298.3" r="1.45"/><circle cx="365.0" cy="345.0" r="1.45"/><circle cx="376.6" cy="315.3" r="1.45"/><circle cx="359.8" cy="331.4" r="1.45"/><circle cx="379.8" cy="333.1" r="1.45"/><circle cx="422.8" cy="327.4" r="1.45"/><circle cx="470.0" cy="373.9" r="1.45"/><circle cx="403.5" cy="327.8" r="1.45"/><circle cx="377.0" cy="315.5" r="1.45"/><circle cx="369.9" cy="367.8" r="1.45"/><circle cx="418.0" cy="347.6" r="1.45"/><circle cx="501.4" cy="372.3" r="1.45"/><circle cx="382.0" cy="331.1" r="1.45"/><circle cx="463.9" cy="340.1" r="1.45"/><circle cx="380.7" cy="311.8" r="1.45"/><circle cx="368.1" cy="326.4" r="1.45"/><circle cx="341.6" cy="356.1" r="1.45"/><circle cx="358.2" cy="319.2" r="1.45"/><circle cx="416.8" cy="345.4" r="1.45"/><circle cx="482.2" cy="374.0" r="1.45"/><circle cx="376.0" cy="386.1" r="1.45"/><circle cx="441.0" cy="322.9" r="1.45"/><circle cx="371.3" cy="350.4" r="1.45"/><circle cx="344.1" cy="362.3" r="1.45"/><circle cx="396.5" cy="329.5" r="1.45"/><circle cx="367.2" cy="357.2" r="1.45"/><circle cx="434.5" cy="373.9" r="1.45"/><circle cx="409.1" cy="349.2" r="1.45"/><circle cx="375.2" cy="334.3" r="1.45"/><circle cx="387.9" cy="331.0" r="1.45"/><circle cx="422.7" cy="319.1" r="1.45"/><circle cx="461.8" cy="367.5" r="1.45"/><circle cx="356.9" cy="313.3" r="1.45"/><circle cx="480.8" cy="360.1" r="1.45"/><circle cx="501.7" cy="363.5" r="1.45"/><circle cx="509.4" cy="358.1" r="1.45"/><circle cx="338.8" cy="333.8" r="1.45"/><circle cx="394.0" cy="372.9" r="1.45"/><circle cx="371.4" cy="332.9" r="1.45"/><circle cx="371.9" cy="384.9" r="1.45"/><circle cx="332.9" cy="385.4" r="1.45"/><circle cx="507.6" cy="361.6" r="1.45"/><circle cx="357.6" cy="381.2" r="1.45"/><circle cx="347.9" cy="370.8" r="1.45"/><circle cx="331.9" cy="374.3" r="1.45"/><circle cx="328.7" cy="368.4" r="1.45"/><circle cx="355.9" cy="392.7" r="1.45"/><circle cx="406.6" cy="379.6" r="1.45"/><circle cx="330.0" cy="392.7" r="1.45"/><circle cx="341.4" cy="349.8" r="1.45"/><circle cx="455.7" cy="383.2" r="1.45"/><circle cx="426.2" cy="336.8" r="1.45"/><circle cx="330.1" cy="345.7" r="1.45"/><circle cx="360.2" cy="331.7" r="1.45"/><circle cx="474.1" cy="362.0" r="1.45"/><circle cx="381.6" cy="364.1" r="1.45"/><circle cx="345.9" cy="350.8" r="1.45"/><circle cx="491.4" cy="372.8" r="1.45"/><circle cx="360.8" cy="301.7" r="1.45"/><circle cx="335.6" cy="380.6" r="1.45"/><circle cx="434.2" cy="390.8" r="1.45"/><circle cx="414.4" cy="359.9" r="1.45"/><circle cx="393.6" cy="355.7" r="1.45"/><circle cx="387.8" cy="327.3" r="1.45"/><circle cx="349.7" cy="373.0" r="1.45"/><circle cx="402.8" cy="350.2" r="1.45"/><circle cx="448.1" cy="339.3" r="1.45"/><circle cx="334.2" cy="323.2" r="1.45"/><circle cx="508.2" cy="377.9" r="1.45"/><circle cx="493.8" cy="370.0" r="1.45"/><circle cx="463.7" cy="351.2" r="1.45"/><circle cx="452.8" cy="340.6" r="1.45"/><circle cx="319.6" cy="404.7" r="1.45"/><circle cx="349.8" cy="335.9" r="1.45"/><circle cx="375.7" cy="317.8" r="1.45"/><circle cx="349.8" cy="336.2" r="1.45"/><circle cx="397.8" cy="302.8" r="1.45"/><circle cx="343.2" cy="372.9" r="1.45"/><circle cx="486.2" cy="346.1" r="1.45"/><circle cx="324.5" cy="325.5" r="1.45"/><circle cx="432.9" cy="380.2" r="1.45"/><circle cx="497.8" cy="368.4" r="1.45"/><circle cx="499.5" cy="379.3" r="1.45"/><circle cx="386.2" cy="373.2" r="1.45"/><circle cx="409.8" cy="327.6" r="1.45"/><circle cx="416.2" cy="361.8" r="1.45"/><circle cx="362.4" cy="350.1" r="1.45"/><circle cx="395.0" cy="372.2" r="1.45"/><circle cx="385.0" cy="321.1" r="1.45"/><circle cx="381.0" cy="323.3" r="1.45"/><circle cx="472.5" cy="381.6" r="1.45"/><circle cx="352.4" cy="388.6" r="1.45"/><circle cx="454.4" cy="368.2" r="1.45"/><circle cx="351.4" cy="327.5" r="1.45"/><circle cx="481.9" cy="382.1" r="1.45"/><circle cx="383.6" cy="318.3" r="1.45"/><circle cx="435.7" cy="316.3" r="1.45"/><circle cx="388.4" cy="333.3" r="1.45"/><circle cx="384.2" cy="385.4" r="1.45"/><circle cx="455.1" cy="366.8" r="1.45"/><circle cx="366.2" cy="308.8" r="1.45"/><circle cx="431.0" cy="325.5" r="1.45"/><circle cx="373.5" cy="369.5" r="1.45"/><circle cx="370.3" cy="338.3" r="1.45"/><circle cx="353.9" cy="398.4" r="1.45"/><circle cx="433.9" cy="333.0" r="1.45"/><circle cx="424.9" cy="334.4" r="1.45"/><circle cx="405.0" cy="310.5" r="1.45"/><circle cx="398.2" cy="350.8" r="1.45"/><circle cx="337.5" cy="351.2" r="1.45"/><circle cx="440.2" cy="358.4" r="1.45"/><circle cx="324.9" cy="371.1" r="1.45"/><circle cx="374.0" cy="326.3" r="1.45"/><circle cx="376.6" cy="338.5" r="1.45"/><circle cx="381.7" cy="336.4" r="1.45"/><circle cx="451.2" cy="372.2" r="1.45"/><circle cx="392.1" cy="313.3" r="1.45"/><circle cx="413.1" cy="346.0" r="1.45"/><circle cx="338.4" cy="369.6" r="1.45"/><circle cx="358.1" cy="369.5" r="1.45"/><circle cx="370.9" cy="356.7" r="1.45"/><circle cx="409.9" cy="365.7" r="1.45"/><circle cx="369.6" cy="374.1" r="1.45"/><circle cx="349.7" cy="341.9" r="1.45"/><circle cx="429.1" cy="384.3" r="1.45"/><circle cx="339.3" cy="394.5" r="1.45"/><circle cx="489.9" cy="375.5" r="1.45"/><circle cx="485.4" cy="381.4" r="1.45"/><circle cx="363.3" cy="383.2" r="1.45"/><circle cx="355.6" cy="376.4" r="1.45"/><circle cx="350.1" cy="311.2" r="1.45"/><circle cx="383.4" cy="351.1" r="1.45"/><circle cx="378.6" cy="381.4" r="1.45"/><circle cx="392.1" cy="353.1" r="1.45"/><circle cx="379.9" cy="392.4" r="1.45"/><circle cx="362.1" cy="368.3" r="1.45"/><circle cx="385.4" cy="360.5" r="1.45"/><circle cx="437.1" cy="367.0" r="1.45"/><circle cx="399.2" cy="373.4" r="1.45"/><circle cx="340.7" cy="360.3" r="1.45"/><circle cx="408.0" cy="354.9" r="1.45"/><circle cx="414.6" cy="395.7" r="1.45"/><circle cx="475.4" cy="359.3" r="1.45"/><circle cx="348.7" cy="388.1" r="1.45"/><circle cx="447.9" cy="332.2" r="1.45"/><circle cx="333.9" cy="356.7" r="1.45"/><circle cx="321.8" cy="396.0" r="1.45"/><circle cx="356.2" cy="322.5" r="1.45"/><circle cx="324.8" cy="312.0" r="1.45"/><circle cx="400.1" cy="341.2" r="1.45"/><circle cx="490.0" cy="346.5" r="1.45"/><circle cx="450.8" cy="357.9" r="1.45"/><circle cx="462.8" cy="380.9" r="1.45"/><circle cx="446.6" cy="371.1" r="1.45"/><circle cx="436.2" cy="327.5" r="1.45"/><circle cx="369.0" cy="356.0" r="1.45"/><circle cx="325.1" cy="381.3" r="1.45"/><circle cx="383.5" cy="306.0" r="1.45"/><circle cx="414.1" cy="338.1" r="1.45"/><circle cx="386.8" cy="340.9" r="1.45"/><circle cx="362.8" cy="296.5" r="1.45"/><circle cx="400.0" cy="385.6" r="1.45"/><circle cx="333.7" cy="352.4" r="1.45"/><circle cx="427.8" cy="338.3" r="1.45"/><circle cx="433.6" cy="378.5" r="1.45"/><circle cx="327.7" cy="346.1" r="1.45"/><circle cx="333.3" cy="311.9" r="1.45"/><circle cx="330.1" cy="393.6" r="1.45"/><circle cx="356.6" cy="314.4" r="1.45"/><circle cx="309.3" cy="382.8" r="1.45"/><circle cx="458.4" cy="361.7" r="1.45"/><circle cx="362.5" cy="349.3" r="1.45"/><circle cx="399.3" cy="319.9" r="1.45"/><circle cx="367.4" cy="319.0" r="1.45"/><circle cx="318.2" cy="390.9" r="1.45"/><circle cx="414.6" cy="379.7" r="1.45"/><circle cx="316.8" cy="399.3" r="1.45"/><circle cx="358.2" cy="365.6" r="1.45"/><circle cx="405.1" cy="378.9" r="1.45"/><circle cx="448.2" cy="375.3" r="1.45"/><circle cx="396.4" cy="332.6" r="1.45"/><circle cx="469.2" cy="370.3" r="1.45"/><circle cx="429.8" cy="351.9" r="1.45"/><circle cx="354.0" cy="382.9" r="1.45"/><circle cx="360.2" cy="389.0" r="1.45"/><circle cx="370.5" cy="331.8" r="1.45"/><circle cx="347.4" cy="327.4" r="1.45"/><circle cx="334.2" cy="379.4" r="1.45"/><circle cx="368.3" cy="318.0" r="1.45"/><circle cx="462.1" cy="360.9" r="1.45"/><circle cx="355.2" cy="320.6" r="1.45"/><circle cx="327.2" cy="397.3" r="1.45"/><circle cx="422.9" cy="317.8" r="1.45"/><circle cx="342.6" cy="378.2" r="1.45"/><circle cx="478.1" cy="367.3" r="1.45"/><circle cx="404.9" cy="385.2" r="1.45"/><circle cx="323.8" cy="366.1" r="1.45"/><circle cx="355.7" cy="374.8" r="1.45"/><circle cx="316.0" cy="343.3" r="1.45"/><circle cx="411.8" cy="335.4" r="1.45"/><circle cx="415.0" cy="325.6" r="1.45"/><circle cx="358.8" cy="366.2" r="1.45"/><circle cx="423.5" cy="332.8" r="1.45"/><circle cx="483.0" cy="363.2" r="1.45"/><circle cx="431.5" cy="333.2" r="1.45"/><circle cx="474.0" cy="365.7" r="1.45"/><circle cx="408.7" cy="368.1" r="1.45"/><circle cx="350.7" cy="377.7" r="1.45"/><circle cx="355.5" cy="351.9" r="1.45"/><circle cx="378.3" cy="391.2" r="1.45"/><circle cx="390.1" cy="356.3" r="1.45"/><circle cx="429.2" cy="319.1" r="1.45"/><circle cx="363.5" cy="386.8" r="1.45"/><circle cx="315.4" cy="384.3" r="1.45"/><circle cx="354.3" cy="389.2" r="1.45"/><circle cx="479.3" cy="354.1" r="1.45"/><circle cx="327.8" cy="334.1" r="1.45"/><circle cx="363.5" cy="382.4" r="1.45"/><circle cx="373.5" cy="320.0" r="1.45"/><circle cx="445.7" cy="347.1" r="1.45"/><circle cx="327.0" cy="368.4" r="1.45"/><circle cx="511.3" cy="371.6" r="1.45"/><circle cx="417.2" cy="320.8" r="1.45"/><circle cx="472.0" cy="345.4" r="1.45"/><circle cx="343.8" cy="390.7" r="1.45"/><circle cx="385.0" cy="338.1" r="1.45"/><circle cx="382.8" cy="296.2" r="1.45"/><circle cx="418.1" cy="361.1" r="1.45"/><circle cx="434.7" cy="355.6" r="1.45"/><circle cx="356.1" cy="324.6" r="1.45"/><circle cx="353.0" cy="388.0" r="1.45"/><circle cx="422.4" cy="354.2" r="1.45"/><circle cx="352.2" cy="306.9" r="1.45"/><circle cx="449.3" cy="335.1" r="1.45"/><circle cx="421.2" cy="368.7" r="1.45"/><circle cx="375.6" cy="313.0" r="1.45"/><circle cx="478.9" cy="379.6" r="1.45"/><circle cx="352.0" cy="377.6" r="1.45"/><circle cx="388.0" cy="386.6" r="1.45"/><circle cx="346.5" cy="388.5" r="1.45"/><circle cx="472.7" cy="348.3" r="1.45"/><circle cx="474.6" cy="368.4" r="1.45"/><circle cx="467.4" cy="372.8" r="1.45"/><circle cx="421.8" cy="363.1" r="1.45"/><circle cx="344.1" cy="323.9" r="1.45"/><circle cx="325.4" cy="384.0" r="1.45"/><circle cx="363.8" cy="383.9" r="1.45"/><circle cx="372.5" cy="308.6" r="1.45"/><circle cx="361.3" cy="310.5" r="1.45"/><circle cx="383.1" cy="297.8" r="1.45"/><circle cx="356.1" cy="360.4" r="1.45"/><circle cx="368.8" cy="353.3" r="1.45"/><circle cx="480.9" cy="358.2" r="1.45"/><circle cx="353.4" cy="354.6" r="1.45"/><circle cx="379.3" cy="349.5" r="1.45"/><circle cx="342.8" cy="367.0" r="1.45"/><circle cx="332.8" cy="353.6" r="1.45"/><circle cx="376.4" cy="335.8" r="1.45"/><circle cx="344.7" cy="356.0" r="1.45"/><circle cx="325.6" cy="397.4" r="1.45"/><circle cx="471.2" cy="363.5" r="1.45"/><circle cx="393.1" cy="384.0" r="1.45"/><circle cx="466.2" cy="364.2" r="1.45"/><circle cx="451.7" cy="361.1" r="1.45"/><circle cx="412.1" cy="348.6" r="1.45"/><circle cx="416.6" cy="391.0" r="1.45"/><circle cx="353.6" cy="344.3" r="1.45"/><circle cx="327.1" cy="338.6" r="1.45"/><circle cx="368.0" cy="381.0" r="1.45"/><circle cx="426.4" cy="362.8" r="1.45"/><circle cx="337.2" cy="328.5" r="1.45"/><circle cx="447.9" cy="371.0" r="1.45"/><circle cx="328.2" cy="339.6" r="1.45"/><circle cx="398.1" cy="358.1" r="1.45"/><circle cx="388.7" cy="339.8" r="1.45"/><circle cx="434.9" cy="331.6" r="1.45"/><circle cx="364.4" cy="345.0" r="1.45"/><circle cx="354.1" cy="316.3" r="1.45"/><circle cx="482.1" cy="345.6" r="1.45"/><circle cx="352.3" cy="390.5" r="1.45"/><circle cx="395.5" cy="315.6" r="1.45"/><circle cx="377.5" cy="359.7" r="1.45"/><circle cx="445.6" cy="328.3" r="1.45"/><circle cx="327.1" cy="358.0" r="1.45"/><circle cx="369.1" cy="365.9" r="1.45"/><circle cx="362.0" cy="388.3" r="1.45"/><circle cx="358.9" cy="341.4" r="1.45"/><circle cx="336.6" cy="307.8" r="1.45"/><circle cx="347.8" cy="326.9" r="1.45"/><circle cx="386.4" cy="318.6" r="1.45"/><circle cx="404.7" cy="353.4" r="1.45"/><circle cx="339.3" cy="327.4" r="1.45"/><circle cx="347.3" cy="393.8" r="1.45"/><circle cx="373.8" cy="315.4" r="1.45"/><circle cx="363.1" cy="328.8" r="1.45"/><circle cx="336.4" cy="316.7" r="1.45"/><circle cx="488.0" cy="361.5" r="1.45"/><circle cx="357.5" cy="397.2" r="1.45"/><circle cx="367.0" cy="295.3" r="1.45"/><circle cx="439.7" cy="329.3" r="1.45"/><circle cx="336.4" cy="367.4" r="1.45"/><circle cx="416.9" cy="346.5" r="1.45"/><circle cx="308.2" cy="394.9" r="1.45"/><circle cx="371.8" cy="301.0" r="1.45"/><circle cx="494.7" cy="375.6" r="1.45"/><circle cx="334.3" cy="371.5" r="1.45"/><circle cx="425.8" cy="336.6" r="1.45"/><circle cx="371.6" cy="301.4" r="1.45"/><circle cx="458.3" cy="332.2" r="1.45"/><circle cx="333.9" cy="395.1" r="1.45"/><circle cx="379.9" cy="376.2" r="1.45"/><circle cx="382.1" cy="318.9" r="1.45"/><circle cx="485.2" cy="353.7" r="1.45"/><circle cx="422.9" cy="337.5" r="1.45"/><circle cx="319.2" cy="407.1" r="1.45"/><circle cx="330.5" cy="373.3" r="1.45"/><circle cx="478.9" cy="374.4" r="1.45"/><circle cx="402.4" cy="358.3" r="1.45"/><circle cx="505.3" cy="379.0" r="1.45"/><circle cx="372.7" cy="317.1" r="1.45"/><circle cx="427.3" cy="342.2" r="1.45"/><circle cx="453.8" cy="358.1" r="1.45"/><circle cx="367.6" cy="381.8" r="1.45"/><circle cx="463.1" cy="345.8" r="1.45"/><circle cx="368.9" cy="305.5" r="1.45"/><circle cx="359.3" cy="358.0" r="1.45"/><circle cx="357.2" cy="331.6" r="1.45"/><circle cx="353.0" cy="378.2" r="1.45"/><circle cx="320.4" cy="407.1" r="1.45"/><circle cx="459.1" cy="329.1" r="1.45"/><circle cx="512.0" cy="354.2" r="1.45"/><circle cx="399.8" cy="306.8" r="1.45"/><circle cx="434.8" cy="340.1" r="1.45"/><circle cx="319.8" cy="378.9" r="1.45"/><circle cx="472.4" cy="363.3" r="1.45"/><circle cx="315.8" cy="376.3" r="1.45"/><circle cx="349.9" cy="341.4" r="1.45"/><circle cx="373.3" cy="324.6" r="1.45"/><circle cx="335.9" cy="336.4" r="1.45"/><circle cx="373.2" cy="390.2" r="1.45"/><circle cx="321.9" cy="367.1" r="1.45"/><circle cx="452.9" cy="332.1" r="1.45"/><circle cx="439.5" cy="385.0" r="1.45"/><circle cx="407.4" cy="375.1" r="1.45"/><circle cx="396.1" cy="306.9" r="1.45"/><circle cx="426.8" cy="326.3" r="1.45"/><circle cx="443.8" cy="382.3" r="1.45"/><circle cx="408.3" cy="383.2" r="1.45"/><circle cx="512.8" cy="372.9" r="1.45"/><circle cx="345.1" cy="398.4" r="1.45"/><circle cx="501.8" cy="349.8" r="1.45"/><circle cx="367.4" cy="364.7" r="1.45"/><circle cx="323.6" cy="387.9" r="1.45"/><circle cx="419.3" cy="339.0" r="1.45"/><circle cx="468.1" cy="377.1" r="1.45"/><circle cx="443.9" cy="324.2" r="1.45"/><circle cx="510.8" cy="354.1" r="1.45"/><circle cx="377.0" cy="329.1" r="1.45"/><circle cx="319.9" cy="396.5" r="1.45"/><circle cx="326.2" cy="325.9" r="1.45"/><circle cx="317.4" cy="384.0" r="1.45"/><circle cx="373.3" cy="328.1" r="1.45"/><circle cx="418.4" cy="386.2" r="1.45"/><circle cx="393.8" cy="383.1" r="1.45"/><circle cx="468.4" cy="359.7" r="1.45"/><circle cx="370.3" cy="298.3" r="1.45"/><circle cx="463.7" cy="381.3" r="1.45"/><circle cx="346.0" cy="380.1" r="1.45"/><circle cx="389.5" cy="318.2" r="1.45"/><circle cx="338.2" cy="317.6" r="1.45"/><circle cx="445.4" cy="361.4" r="1.45"/><circle cx="349.7" cy="371.3" r="1.45"/><circle cx="358.2" cy="333.7" r="1.45"/><circle cx="373.2" cy="338.1" r="1.45"/><circle cx="468.7" cy="348.8" r="1.45"/><circle cx="345.8" cy="393.4" r="1.45"/><circle cx="326.7" cy="349.9" r="1.45"/><circle cx="453.7" cy="367.3" r="1.45"/><circle cx="385.6" cy="290.9" r="1.45"/><circle cx="316.0" cy="386.5" r="1.45"/><circle cx="378.3" cy="308.8" r="1.45"/><circle cx="321.6" cy="390.2" r="1.45"/><circle cx="337.5" cy="314.5" r="1.45"/><circle cx="434.9" cy="353.8" r="1.45"/><circle cx="317.0" cy="387.0" r="1.45"/><circle cx="434.3" cy="353.8" r="1.45"/><circle cx="399.8" cy="313.1" r="1.45"/><circle cx="349.5" cy="378.4" r="1.45"/><circle cx="396.9" cy="378.0" r="1.45"/><circle cx="359.3" cy="372.8" r="1.45"/><circle cx="378.7" cy="349.8" r="1.45"/><circle cx="388.0" cy="299.7" r="1.45"/><circle cx="379.6" cy="325.1" r="1.45"/><circle cx="412.2" cy="390.1" r="1.45"/><circle cx="390.6" cy="334.1" r="1.45"/><circle cx="399.7" cy="360.1" r="1.45"/><circle cx="421.7" cy="361.0" r="1.45"/><circle cx="360.9" cy="348.0" r="1.45"/><circle cx="462.8" cy="389.8" r="1.45"/><circle cx="357.9" cy="302.1" r="1.45"/><circle cx="409.2" cy="345.5" r="1.45"/><circle cx="415.8" cy="364.7" r="1.45"/><circle cx="518.4" cy="362.7" r="1.45"/><circle cx="330.1" cy="351.4" r="1.45"/><circle cx="404.6" cy="345.7" r="1.45"/><circle cx="464.0" cy="354.9" r="1.45"/><circle cx="402.2" cy="316.5" r="1.45"/><circle cx="320.4" cy="383.9" r="1.45"/><circle cx="380.3" cy="379.3" r="1.45"/><circle cx="417.4" cy="355.1" r="1.45"/><circle cx="432.2" cy="342.4" r="1.45"/><circle cx="489.9" cy="375.9" r="1.45"/><circle cx="328.4" cy="364.8" r="1.45"/><circle cx="505.2" cy="358.2" r="1.45"/><circle cx="476.2" cy="352.1" r="1.45"/><circle cx="349.8" cy="370.6" r="1.45"/><circle cx="340.3" cy="360.9" r="1.45"/><circle cx="407.6" cy="378.8" r="1.45"/><circle cx="415.5" cy="324.4" r="1.45"/><circle cx="365.1" cy="316.4" r="1.45"/><circle cx="413.6" cy="330.0" r="1.45"/><circle cx="376.2" cy="341.8" r="1.45"/><circle cx="335.4" cy="331.3" r="1.45"/><circle cx="455.4" cy="361.4" r="1.45"/><circle cx="348.5" cy="316.5" r="1.45"/><circle cx="417.8" cy="319.9" r="1.45"/><circle cx="514.4" cy="348.1" r="1.45"/><circle cx="380.0" cy="308.5" r="1.45"/><circle cx="460.0" cy="363.0" r="1.45"/><circle cx="491.1" cy="363.7" r="1.45"/><circle cx="336.4" cy="378.0" r="1.45"/><circle cx="340.4" cy="326.8" r="1.45"/><circle cx="514.3" cy="348.7" r="1.45"/><circle cx="373.7" cy="371.9" r="1.45"/><circle cx="404.6" cy="319.1" r="1.45"/><circle cx="410.1" cy="371.3" r="1.45"/><circle cx="409.7" cy="372.2" r="1.45"/><circle cx="340.7" cy="376.4" r="1.45"/><circle cx="416.3" cy="378.4" r="1.45"/><circle cx="387.0" cy="356.9" r="1.45"/><circle cx="507.8" cy="370.7" r="1.45"/><circle cx="448.6" cy="364.1" r="1.45"/><circle cx="393.2" cy="330.9" r="1.45"/><circle cx="500.3" cy="375.1" r="1.45"/><circle cx="381.0" cy="375.2" r="1.45"/><circle cx="413.1" cy="316.8" r="1.45"/><circle cx="447.4" cy="334.6" r="1.45"/><circle cx="478.0" cy="369.9" r="1.45"/><circle cx="382.4" cy="346.0" r="1.45"/><circle cx="343.5" cy="368.2" r="1.45"/><circle cx="427.8" cy="382.3" r="1.45"/><circle cx="443.5" cy="372.8" r="1.45"/><circle cx="376.5" cy="325.9" r="1.45"/><circle cx="443.8" cy="341.5" r="1.45"/><circle cx="472.6" cy="340.9" r="1.45"/><circle cx="391.2" cy="352.6" r="1.45"/><circle cx="424.9" cy="329.5" r="1.45"/><circle cx="371.7" cy="354.3" r="1.45"/><circle cx="452.9" cy="337.7" r="1.45"/><circle cx="365.7" cy="343.8" r="1.45"/><circle cx="464.1" cy="370.6" r="1.45"/><circle cx="355.1" cy="306.5" r="1.45"/><circle cx="455.7" cy="360.5" r="1.45"/><circle cx="485.3" cy="373.7" r="1.45"/><circle cx="438.6" cy="371.1" r="1.45"/><circle cx="384.6" cy="368.7" r="1.45"/><circle cx="384.3" cy="351.5" r="1.45"/><circle cx="499.9" cy="365.6" r="1.45"/><circle cx="399.1" cy="339.5" r="1.45"/><circle cx="424.8" cy="319.0" r="1.45"/><circle cx="366.3" cy="360.2" r="1.45"/><circle cx="426.4" cy="325.9" r="1.45"/><circle cx="410.7" cy="352.9" r="1.45"/><circle cx="345.3" cy="306.8" r="1.45"/><circle cx="395.4" cy="350.5" r="1.45"/><circle cx="502.0" cy="360.6" r="1.45"/><circle cx="364.1" cy="307.0" r="1.45"/><circle cx="425.8" cy="308.8" r="1.45"/><circle cx="450.7" cy="352.8" r="1.45"/><circle cx="348.5" cy="336.9" r="1.45"/><circle cx="338.5" cy="375.7" r="1.45"/><circle cx="403.3" cy="335.4" r="1.45"/><circle cx="320.9" cy="396.5" r="1.45"/><circle cx="472.2" cy="374.0" r="1.45"/><circle cx="415.5" cy="355.2" r="1.45"/><circle cx="393.4" cy="375.7" r="1.45"/><circle cx="423.7" cy="329.7" r="1.45"/><circle cx="341.5" cy="327.3" r="1.45"/><circle cx="466.0" cy="342.8" r="1.45"/><circle cx="350.0" cy="347.4" r="1.45"/><circle cx="381.9" cy="371.9" r="1.45"/><circle cx="494.7" cy="352.1" r="1.45"/><circle cx="361.1" cy="351.3" r="1.45"/><circle cx="352.3" cy="363.1" r="1.45"/><circle cx="418.4" cy="369.9" r="1.45"/><circle cx="424.9" cy="323.7" r="1.45"/><circle cx="363.7" cy="345.3" r="1.45"/><circle cx="362.5" cy="366.0" r="1.45"/><circle cx="407.8" cy="353.9" r="1.45"/><circle cx="337.3" cy="395.9" r="1.45"/><circle cx="504.8" cy="358.6" r="1.45"/><circle cx="337.7" cy="325.3" r="1.45"/><circle cx="343.7" cy="365.3" r="1.45"/><circle cx="318.7" cy="397.1" r="1.45"/><circle cx="392.1" cy="380.0" r="1.45"/><circle cx="408.4" cy="383.8" r="1.45"/><circle cx="358.3" cy="309.6" r="1.45"/><circle cx="324.4" cy="352.3" r="1.45"/><circle cx="430.6" cy="381.8" r="1.45"/><circle cx="390.8" cy="349.6" r="1.45"/><circle cx="348.2" cy="317.1" r="1.45"/><circle cx="493.5" cy="376.7" r="1.45"/><circle cx="416.1" cy="359.7" r="1.45"/><circle cx="345.9" cy="345.3" r="1.45"/><circle cx="357.3" cy="394.0" r="1.45"/><circle cx="342.7" cy="378.5" r="1.45"/><circle cx="480.0" cy="360.8" r="1.45"/><circle cx="376.8" cy="298.9" r="1.45"/><circle cx="469.0" cy="358.4" r="1.45"/><circle cx="354.0" cy="346.3" r="1.45"/><circle cx="369.9" cy="339.0" r="1.45"/><circle cx="360.5" cy="364.5" r="1.45"/><circle cx="403.6" cy="354.9" r="1.45"/><circle cx="356.0" cy="350.1" r="1.45"/><circle cx="357.0" cy="346.1" r="1.45"/><circle cx="367.6" cy="393.4" r="1.45"/><circle cx="509.5" cy="384.4" r="1.45"/><circle cx="320.3" cy="369.7" r="1.45"/><circle cx="452.0" cy="373.3" r="1.45"/><circle cx="443.9" cy="375.8" r="1.45"/><circle cx="417.2" cy="362.1" r="1.45"/><circle cx="472.6" cy="354.3" r="1.45"/><circle cx="417.5" cy="310.7" r="1.45"/><circle cx="346.7" cy="350.9" r="1.45"/><circle cx="432.0" cy="344.3" r="1.45"/><circle cx="479.2" cy="374.3" r="1.45"/><circle cx="358.2" cy="324.3" r="1.45"/><circle cx="509.8" cy="386.1" r="1.45"/><circle cx="376.9" cy="305.7" r="1.45"/><circle cx="328.9" cy="370.6" r="1.45"/><circle cx="355.4" cy="375.1" r="1.45"/><circle cx="449.1" cy="356.4" r="1.45"/><circle cx="363.8" cy="339.3" r="1.45"/><circle cx="331.9" cy="362.3" r="1.45"/><circle cx="415.4" cy="385.8" r="1.45"/><circle cx="362.9" cy="310.4" r="1.45"/><circle cx="474.7" cy="379.6" r="1.45"/><circle cx="375.8" cy="335.3" r="1.45"/><circle cx="370.4" cy="383.5" r="1.45"/><circle cx="438.9" cy="370.7" r="1.45"/><circle cx="324.6" cy="359.4" r="1.45"/><circle cx="429.8" cy="384.3" r="1.45"/><circle cx="465.9" cy="372.5" r="1.45"/><circle cx="329.0" cy="391.9" r="1.45"/><circle cx="367.6" cy="353.3" r="1.45"/><circle cx="461.5" cy="364.0" r="1.45"/><circle cx="399.1" cy="353.4" r="1.45"/><circle cx="386.4" cy="378.7" r="1.45"/><circle cx="338.9" cy="329.6" r="1.45"/><circle cx="447.9" cy="387.5" r="1.45"/><circle cx="394.9" cy="345.3" r="1.45"/><circle cx="462.4" cy="342.7" r="1.45"/><circle cx="344.0" cy="389.2" r="1.45"/><circle cx="458.7" cy="356.4" r="1.45"/><circle cx="351.1" cy="311.2" r="1.45"/><circle cx="432.7" cy="348.0" r="1.45"/><circle cx="411.9" cy="349.7" r="1.45"/><circle cx="325.6" cy="312.2" r="1.45"/><circle cx="322.7" cy="384.3" r="1.45"/><circle cx="337.2" cy="401.2" r="1.45"/><circle cx="342.9" cy="346.6" r="1.45"/><circle cx="353.3" cy="323.8" r="1.45"/><circle cx="409.9" cy="311.3" r="1.45"/><circle cx="354.5" cy="381.8" r="1.45"/><circle cx="328.6" cy="320.5" r="1.45"/><circle cx="357.1" cy="307.6" r="1.45"/><circle cx="435.6" cy="352.3" r="1.45"/><circle cx="420.6" cy="324.5" r="1.45"/><circle cx="330.7" cy="383.5" r="1.45"/><circle cx="438.5" cy="383.3" r="1.45"/><circle cx="359.6" cy="317.3" r="1.45"/><circle cx="399.2" cy="343.1" r="1.45"/><circle cx="367.2" cy="378.6" r="1.45"/><circle cx="361.7" cy="333.1" r="1.45"/><circle cx="420.0" cy="321.7" r="1.45"/><circle cx="443.9" cy="379.5" r="1.45"/><circle cx="415.6" cy="355.0" r="1.45"/><circle cx="419.2" cy="388.3" r="1.45"/><circle cx="422.8" cy="359.0" r="1.45"/><circle cx="377.3" cy="364.2" r="1.45"/><circle cx="386.5" cy="374.5" r="1.45"/><circle cx="383.6" cy="353.3" r="1.45"/><circle cx="389.0" cy="370.5" r="1.45"/><circle cx="433.8" cy="344.2" r="1.45"/><circle cx="355.3" cy="327.5" r="1.45"/><circle cx="338.6" cy="347.7" r="1.45"/><circle cx="428.7" cy="375.4" r="1.45"/><circle cx="471.4" cy="366.5" r="1.45"/><circle cx="449.9" cy="347.5" r="1.45"/><circle cx="351.5" cy="370.2" r="1.45"/><circle cx="413.2" cy="332.3" r="1.45"/><circle cx="458.1" cy="367.1" r="1.45"/><circle cx="366.1" cy="360.4" r="1.45"/><circle cx="350.3" cy="304.8" r="1.45"/><circle cx="363.9" cy="373.6" r="1.45"/><circle cx="369.9" cy="299.8" r="1.45"/><circle cx="382.3" cy="380.8" r="1.45"/><circle cx="329.0" cy="364.8" r="1.45"/><circle cx="314.0" cy="365.9" r="1.45"/><circle cx="441.5" cy="331.5" r="1.45"/><circle cx="400.5" cy="323.9" r="1.45"/><circle cx="390.8" cy="339.1" r="1.45"/><circle cx="421.0" cy="334.4" r="1.45"/><circle cx="419.9" cy="330.0" r="1.45"/><circle cx="453.7" cy="373.3" r="1.45"/><circle cx="319.5" cy="395.0" r="1.45"/><circle cx="408.6" cy="358.2" r="1.45"/><circle cx="412.5" cy="346.4" r="1.45"/><circle cx="468.2" cy="381.9" r="1.45"/><circle cx="398.4" cy="364.0" r="1.45"/><circle cx="500.7" cy="380.0" r="1.45"/><circle cx="413.6" cy="351.7" r="1.45"/><circle cx="339.4" cy="386.8" r="1.45"/><circle cx="436.2" cy="358.4" r="1.45"/><circle cx="367.8" cy="374.0" r="1.45"/><circle cx="478.8" cy="348.9" r="1.45"/><circle cx="383.0" cy="328.2" r="1.45"/><circle cx="480.7" cy="357.9" r="1.45"/><circle cx="367.6" cy="385.9" r="1.45"/><circle cx="386.5" cy="349.6" r="1.45"/><circle cx="401.6" cy="368.9" r="1.45"/><circle cx="341.1" cy="355.5" r="1.45"/><circle cx="359.0" cy="382.5" r="1.45"/><circle cx="469.6" cy="383.8" r="1.45"/><circle cx="432.2" cy="375.1" r="1.45"/><circle cx="504.9" cy="362.9" r="1.45"/><circle cx="442.2" cy="337.8" r="1.45"/><circle cx="370.1" cy="315.8" r="1.45"/><circle cx="384.5" cy="368.9" r="1.45"/><circle cx="432.1" cy="380.3" r="1.45"/><circle cx="511.9" cy="375.8" r="1.45"/><circle cx="472.1" cy="368.5" r="1.45"/><circle cx="416.3" cy="371.0" r="1.45"/><circle cx="392.0" cy="374.2" r="1.45"/><circle cx="377.9" cy="340.6" r="1.45"/><circle cx="346.9" cy="329.9" r="1.45"/><circle cx="341.8" cy="346.7" r="1.45"/><circle cx="431.8" cy="387.1" r="1.45"/><circle cx="368.4" cy="326.3" r="1.45"/><circle cx="343.5" cy="396.8" r="1.45"/><circle cx="464.6" cy="348.9" r="1.45"/><circle cx="422.2" cy="361.6" r="1.45"/><circle cx="356.8" cy="350.4" r="1.45"/><circle cx="375.3" cy="303.9" r="1.45"/><circle cx="338.7" cy="355.2" r="1.45"/><circle cx="356.9" cy="294.0" r="1.45"/><circle cx="333.3" cy="336.2" r="1.45"/><circle cx="332.5" cy="379.8" r="1.45"/><circle cx="457.9" cy="380.9" r="1.45"/><circle cx="397.2" cy="306.4" r="1.45"/><circle cx="471.2" cy="356.0" r="1.45"/><circle cx="349.3" cy="370.3" r="1.45"/><circle cx="446.8" cy="328.9" r="1.45"/><circle cx="511.9" cy="364.4" r="1.45"/><circle cx="514.8" cy="376.5" r="1.45"/><circle cx="384.4" cy="377.6" r="1.45"/><circle cx="336.9" cy="343.8" r="1.45"/><circle cx="444.0" cy="369.3" r="1.45"/><circle cx="443.1" cy="356.5" r="1.45"/><circle cx="341.2" cy="346.6" r="1.45"/><circle cx="416.8" cy="340.2" r="1.45"/><circle cx="323.0" cy="396.4" r="1.45"/><circle cx="365.7" cy="343.1" r="1.45"/><circle cx="317.2" cy="394.6" r="1.45"/><circle cx="343.9" cy="324.8" r="1.45"/><circle cx="371.8" cy="352.6" r="1.45"/><circle cx="392.2" cy="357.3" r="1.45"/><circle cx="340.2" cy="344.5" r="1.45"/><circle cx="338.7" cy="329.1" r="1.45"/><circle cx="404.8" cy="353.7" r="1.45"/><circle cx="320.6" cy="363.2" r="1.45"/><circle cx="472.6" cy="379.0" r="1.45"/><circle cx="333.5" cy="385.9" r="1.45"/><circle cx="354.9" cy="375.6" r="1.45"/><circle cx="404.1" cy="361.7" r="1.45"/><circle cx="441.5" cy="335.5" r="1.45"/><circle cx="424.3" cy="374.8" r="1.45"/><circle cx="385.5" cy="373.3" r="1.45"/><circle cx="362.6" cy="326.3" r="1.45"/><circle cx="453.0" cy="362.4" r="1.45"/><circle cx="386.5" cy="336.9" r="1.45"/><circle cx="400.6" cy="378.9" r="1.45"/><circle cx="343.1" cy="392.6" r="1.45"/><circle cx="357.6" cy="336.6" r="1.45"/><circle cx="470.9" cy="350.4" r="1.45"/><circle cx="378.9" cy="359.3" r="1.45"/><circle cx="387.9" cy="357.9" r="1.45"/><circle cx="340.6" cy="400.9" r="1.45"/><circle cx="424.1" cy="337.4" r="1.45"/><circle cx="335.5" cy="328.3" r="1.45"/><circle cx="323.7" cy="368.8" r="1.45"/><circle cx="360.5" cy="380.3" r="1.45"/><circle cx="411.2" cy="342.1" r="1.45"/><circle cx="350.8" cy="383.6" r="1.45"/><circle cx="333.0" cy="360.7" r="1.45"/><circle cx="386.5" cy="345.0" r="1.45"/><circle cx="338.0" cy="372.6" r="1.45"/><circle cx="349.9" cy="319.9" r="1.45"/><circle cx="430.9" cy="366.7" r="1.45"/><circle cx="380.4" cy="342.2" r="1.45"/><circle cx="477.6" cy="347.0" r="1.45"/><circle cx="388.6" cy="368.7" r="1.45"/><circle cx="447.9" cy="375.1" r="1.45"/><circle cx="420.7" cy="328.7" r="1.45"/><circle cx="388.6" cy="328.5" r="1.45"/><circle cx="406.0" cy="331.4" r="1.45"/><circle cx="383.1" cy="374.3" r="1.45"/><circle cx="377.1" cy="356.7" r="1.45"/><circle cx="446.1" cy="370.0" r="1.45"/><circle cx="474.4" cy="353.5" r="1.45"/><circle cx="492.1" cy="376.5" r="1.45"/><circle cx="398.7" cy="349.8" r="1.45"/><circle cx="405.9" cy="391.2" r="1.45"/><circle cx="390.8" cy="315.7" r="1.45"/><circle cx="380.1" cy="364.4" r="1.45"/><circle cx="393.2" cy="297.2" r="1.45"/><circle cx="407.6" cy="359.8" r="1.45"/><circle cx="365.3" cy="310.6" r="1.45"/><circle cx="486.1" cy="390.2" r="1.45"/><circle cx="437.7" cy="339.6" r="1.45"/><circle cx="421.5" cy="329.5" r="1.45"/><circle cx="490.8" cy="370.7" r="1.45"/><circle cx="391.9" cy="386.1" r="1.45"/><circle cx="415.0" cy="374.8" r="1.45"/><circle cx="336.8" cy="363.6" r="1.45"/><circle cx="399.5" cy="345.2" r="1.45"/><circle cx="344.6" cy="380.4" r="1.45"/><circle cx="452.0" cy="367.8" r="1.45"/><circle cx="334.3" cy="348.8" r="1.45"/><circle cx="387.8" cy="388.8" r="1.45"/><circle cx="361.6" cy="337.3" r="1.45"/><circle cx="400.0" cy="382.5" r="1.45"/><circle cx="358.7" cy="336.3" r="1.45"/><circle cx="389.3" cy="384.0" r="1.45"/><circle cx="341.2" cy="355.0" r="1.45"/><circle cx="351.3" cy="392.3" r="1.45"/><circle cx="422.9" cy="370.0" r="1.45"/><circle cx="426.8" cy="380.7" r="1.45"/><circle cx="459.2" cy="334.7" r="1.45"/><circle cx="382.3" cy="325.9" r="1.45"/><circle cx="475.8" cy="353.1" r="1.45"/><circle cx="392.6" cy="328.4" r="1.45"/><circle cx="469.6" cy="348.9" r="1.45"/><circle cx="429.4" cy="357.8" r="1.45"/><circle cx="363.5" cy="362.8" r="1.45"/><circle cx="354.8" cy="323.4" r="1.45"/><circle cx="351.8" cy="368.1" r="1.45"/><circle cx="474.3" cy="380.7" r="1.45"/><circle cx="511.1" cy="372.8" r="1.45"/><circle cx="467.3" cy="365.4" r="1.45"/><circle cx="377.9" cy="307.6" r="1.45"/><circle cx="392.5" cy="378.4" r="1.45"/><circle cx="408.8" cy="310.6" r="1.45"/><circle cx="448.5" cy="356.0" r="1.45"/><circle cx="341.0" cy="390.7" r="1.45"/><circle cx="399.2" cy="343.4" r="1.45"/><circle cx="330.6" cy="376.5" r="1.45"/><circle cx="428.2" cy="331.7" r="1.45"/><circle cx="336.1" cy="385.6" r="1.45"/><circle cx="333.7" cy="400.7" r="1.45"/><circle cx="430.1" cy="321.8" r="1.45"/><circle cx="462.0" cy="357.8" r="1.45"/><circle cx="355.5" cy="380.3" r="1.45"/><circle cx="379.6" cy="361.4" r="1.45"/><circle cx="405.7" cy="360.7" r="1.45"/><circle cx="437.9" cy="355.5" r="1.45"/><circle cx="325.9" cy="338.0" r="1.45"/><circle cx="424.4" cy="362.5" r="1.45"/><circle cx="379.5" cy="335.6" r="1.45"/><circle cx="357.4" cy="322.5" r="1.45"/><circle cx="460.1" cy="376.1" r="1.45"/><circle cx="325.6" cy="362.8" r="1.45"/><circle cx="425.4" cy="371.0" r="1.45"/><circle cx="319.4" cy="405.1" r="1.45"/><circle cx="398.4" cy="342.7" r="1.45"/><circle cx="340.7" cy="317.4" r="1.45"/><circle cx="430.1" cy="324.4" r="1.45"/><circle cx="500.7" cy="331.8" r="1.45"/><circle cx="441.1" cy="355.2" r="1.45"/><circle cx="423.8" cy="338.0" r="1.45"/><circle cx="376.5" cy="370.3" r="1.45"/><circle cx="455.3" cy="373.7" r="1.45"/><circle cx="321.5" cy="357.0" r="1.45"/><circle cx="363.5" cy="322.1" r="1.45"/><circle cx="425.1" cy="336.2" r="1.45"/><circle cx="486.2" cy="352.8" r="1.45"/><circle cx="379.4" cy="306.8" r="1.45"/><circle cx="394.3" cy="359.7" r="1.45"/><circle cx="472.7" cy="343.2" r="1.45"/><circle cx="326.4" cy="356.4" r="1.45"/><circle cx="393.1" cy="340.6" r="1.45"/><circle cx="360.5" cy="366.2" r="1.45"/><circle cx="433.8" cy="336.0" r="1.45"/><circle cx="439.1" cy="381.9" r="1.45"/><circle cx="398.6" cy="327.6" r="1.45"/><circle cx="433.5" cy="372.4" r="1.45"/><circle cx="412.0" cy="372.1" r="1.45"/><circle cx="368.6" cy="305.9" r="1.45"/><circle cx="396.8" cy="340.5" r="1.45"/><circle cx="409.3" cy="359.8" r="1.45"/><circle cx="450.4" cy="378.4" r="1.45"/><circle cx="454.1" cy="337.7" r="1.45"/><circle cx="401.2" cy="316.9" r="1.45"/><circle cx="447.4" cy="385.9" r="1.45"/><circle cx="503.7" cy="377.8" r="1.45"/><circle cx="364.5" cy="335.4" r="1.45"/><circle cx="499.9" cy="372.3" r="1.45"/><circle cx="370.2" cy="360.9" r="1.45"/><circle cx="372.6" cy="329.4" r="1.45"/><circle cx="411.3" cy="371.7" r="1.45"/><circle cx="364.0" cy="330.6" r="1.45"/><circle cx="336.3" cy="316.4" r="1.45"/><circle cx="456.9" cy="341.7" r="1.45"/><circle cx="380.8" cy="371.5" r="1.45"/><circle cx="351.1" cy="347.4" r="1.45"/><circle cx="452.2" cy="342.5" r="1.45"/><circle cx="420.1" cy="328.7" r="1.45"/><circle cx="319.1" cy="381.4" r="1.45"/><circle cx="385.3" cy="318.8" r="1.45"/><circle cx="341.2" cy="391.0" r="1.45"/><circle cx="458.7" cy="344.8" r="1.45"/><circle cx="429.2" cy="320.5" r="1.45"/><circle cx="456.7" cy="350.4" r="1.45"/><circle cx="470.8" cy="333.9" r="1.45"/><circle cx="473.4" cy="371.6" r="1.45"/><circle cx="356.0" cy="373.6" r="1.45"/><circle cx="507.4" cy="366.7" r="1.45"/><circle cx="348.0" cy="345.8" r="1.45"/><circle cx="483.4" cy="363.0" r="1.45"/><circle cx="387.1" cy="310.3" r="1.45"/><circle cx="387.4" cy="343.3" r="1.45"/><circle cx="387.3" cy="336.5" r="1.45"/><circle cx="464.7" cy="344.1" r="1.45"/><circle cx="338.4" cy="363.6" r="1.45"/><circle cx="422.8" cy="373.3" r="1.45"/><circle cx="382.9" cy="380.0" r="1.45"/><circle cx="399.2" cy="358.3" r="1.45"/><circle cx="407.0" cy="321.7" r="1.45"/><circle cx="419.4" cy="377.4" r="1.45"/><circle cx="413.5" cy="372.9" r="1.45"/><circle cx="429.5" cy="376.4" r="1.45"/><circle cx="390.5" cy="328.3" r="1.45"/><circle cx="428.6" cy="344.2" r="1.45"/><circle cx="323.8" cy="392.1" r="1.45"/><circle cx="387.4" cy="344.8" r="1.45"/><circle cx="350.8" cy="322.8" r="1.45"/><circle cx="342.0" cy="400.8" r="1.45"/><circle cx="377.6" cy="405.4" r="1.45"/><circle cx="476.2" cy="353.6" r="1.45"/><circle cx="365.2" cy="343.1" r="1.45"/><circle cx="431.9" cy="371.1" r="1.45"/><circle cx="417.3" cy="326.9" r="1.45"/><circle cx="323.7" cy="366.7" r="1.45"/><circle cx="342.0" cy="342.2" r="1.45"/><circle cx="379.5" cy="320.8" r="1.45"/><circle cx="372.9" cy="363.1" r="1.45"/><circle cx="464.2" cy="349.2" r="1.45"/><circle cx="433.6" cy="363.9" r="1.45"/><circle cx="467.8" cy="374.4" r="1.45"/><circle cx="392.8" cy="351.0" r="1.45"/><circle cx="441.5" cy="381.5" r="1.45"/><circle cx="385.7" cy="311.4" r="1.45"/><circle cx="397.4" cy="332.5" r="1.45"/><circle cx="332.8" cy="380.0" r="1.45"/><circle cx="483.1" cy="360.7" r="1.45"/><circle cx="457.0" cy="338.1" r="1.45"/><circle cx="494.7" cy="379.4" r="1.45"/><circle cx="396.9" cy="374.7" r="1.45"/><circle cx="357.9" cy="353.4" r="1.45"/><circle cx="340.7" cy="348.2" r="1.45"/><circle cx="394.2" cy="313.9" r="1.45"/><circle cx="330.2" cy="396.3" r="1.45"/><circle cx="377.4" cy="301.9" r="1.45"/><circle cx="361.9" cy="366.0" r="1.45"/><circle cx="321.8" cy="353.1" r="1.45"/><circle cx="492.3" cy="362.0" r="1.45"/><circle cx="332.0" cy="373.6" r="1.45"/><circle cx="402.1" cy="361.0" r="1.45"/><circle cx="487.2" cy="375.1" r="1.45"/><circle cx="340.8" cy="347.6" r="1.45"/><circle cx="362.0" cy="336.3" r="1.45"/><circle cx="444.5" cy="365.8" r="1.45"/><circle cx="470.5" cy="368.1" r="1.45"/><circle cx="387.6" cy="310.2" r="1.45"/><circle cx="492.4" cy="384.6" r="1.45"/><circle cx="345.0" cy="309.9" r="1.45"/><circle cx="343.0" cy="338.2" r="1.45"/><circle cx="465.9" cy="358.9" r="1.45"/><circle cx="388.7" cy="360.2" r="1.45"/><circle cx="492.1" cy="368.0" r="1.45"/><circle cx="342.8" cy="352.3" r="1.45"/><circle cx="353.7" cy="396.5" r="1.45"/><circle cx="361.8" cy="384.7" r="1.45"/><circle cx="374.3" cy="372.9" r="1.45"/><circle cx="386.3" cy="308.9" r="1.45"/><circle cx="451.5" cy="329.2" r="1.45"/><circle cx="511.2" cy="354.0" r="1.45"/><circle cx="371.6" cy="319.8" r="1.45"/><circle cx="485.1" cy="385.8" r="1.45"/><circle cx="518.4" cy="369.0" r="1.45"/><circle cx="503.8" cy="363.0" r="1.45"/><circle cx="376.0" cy="367.1" r="1.45"/><circle cx="352.4" cy="349.3" r="1.45"/><circle cx="379.7" cy="363.5" r="1.45"/><circle cx="491.7" cy="362.8" r="1.45"/><circle cx="335.7" cy="313.7" r="1.45"/><circle cx="349.3" cy="309.4" r="1.45"/><circle cx="460.0" cy="353.9" r="1.45"/><circle cx="419.5" cy="317.9" r="1.45"/><circle cx="414.2" cy="317.5" r="1.45"/><circle cx="379.9" cy="299.4" r="1.45"/><circle cx="395.4" cy="336.9" r="1.45"/><circle cx="345.2" cy="346.7" r="1.45"/><circle cx="357.9" cy="387.0" r="1.45"/><circle cx="442.6" cy="322.8" r="1.45"/><circle cx="390.6" cy="377.1" r="1.45"/><circle cx="355.9" cy="298.2" r="1.45"/><circle cx="355.0" cy="386.6" r="1.45"/><circle cx="360.9" cy="300.2" r="1.45"/><circle cx="364.0" cy="359.5" r="1.45"/><circle cx="390.6" cy="342.5" r="1.45"/><circle cx="444.7" cy="375.4" r="1.45"/><circle cx="421.3" cy="344.0" r="1.45"/><circle cx="361.1" cy="313.5" r="1.45"/><circle cx="389.9" cy="369.4" r="1.45"/><circle cx="465.0" cy="352.8" r="1.45"/><circle cx="379.0" cy="322.2" r="1.45"/><circle cx="394.8" cy="333.8" r="1.45"/><circle cx="328.8" cy="385.1" r="1.45"/><circle cx="316.0" cy="394.9" r="1.45"/><circle cx="394.3" cy="328.5" r="1.45"/><circle cx="386.2" cy="343.0" r="1.45"/><circle cx="457.9" cy="334.4" r="1.45"/><circle cx="332.5" cy="389.7" r="1.45"/><circle cx="367.0" cy="303.8" r="1.45"/><circle cx="353.4" cy="301.0" r="1.45"/><circle cx="350.5" cy="338.5" r="1.45"/><circle cx="395.0" cy="304.6" r="1.45"/><circle cx="397.0" cy="325.3" r="1.45"/><circle cx="344.5" cy="351.2" r="1.45"/><circle cx="401.7" cy="310.5" r="1.45"/><circle cx="458.2" cy="331.7" r="1.45"/><circle cx="355.7" cy="312.4" r="1.45"/><circle cx="353.1" cy="363.2" r="1.45"/><circle cx="361.6" cy="306.0" r="1.45"/><circle cx="458.0" cy="341.5" r="1.45"/><circle cx="383.2" cy="373.8" r="1.45"/><circle cx="357.6" cy="391.1" r="1.45"/><circle cx="434.8" cy="387.3" r="1.45"/><circle cx="397.7" cy="318.5" r="1.45"/><circle cx="352.1" cy="392.4" r="1.45"/><circle cx="463.0" cy="356.5" r="1.45"/><circle cx="363.0" cy="373.0" r="1.45"/><circle cx="332.0" cy="332.9" r="1.45"/><circle cx="362.9" cy="359.9" r="1.45"/><circle cx="443.8" cy="363.6" r="1.45"/><circle cx="367.4" cy="385.4" r="1.45"/><circle cx="341.2" cy="339.1" r="1.45"/><circle cx="356.2" cy="373.4" r="1.45"/><circle cx="366.4" cy="323.7" r="1.45"/><circle cx="411.0" cy="332.3" r="1.45"/><circle cx="423.5" cy="397.1" r="1.45"/><circle cx="336.6" cy="326.7" r="1.45"/><circle cx="448.2" cy="372.7" r="1.45"/><circle cx="345.0" cy="375.0" r="1.45"/><circle cx="319.1" cy="396.0" r="1.45"/><circle cx="344.9" cy="370.9" r="1.45"/><circle cx="345.7" cy="350.7" r="1.45"/><circle cx="336.9" cy="361.9" r="1.45"/><circle cx="406.8" cy="357.7" r="1.45"/><circle cx="381.9" cy="338.2" r="1.45"/><circle cx="393.2" cy="333.8" r="1.45"/><circle cx="482.7" cy="375.1" r="1.45"/><circle cx="393.2" cy="307.3" r="1.45"/><circle cx="421.8" cy="348.7" r="1.45"/><circle cx="394.8" cy="340.2" r="1.45"/><circle cx="413.7" cy="346.2" r="1.45"/><circle cx="322.4" cy="363.3" r="1.45"/><circle cx="421.1" cy="378.4" r="1.45"/><circle cx="413.2" cy="368.5" r="1.45"/><circle cx="350.2" cy="392.5" r="1.45"/><circle cx="349.1" cy="339.8" r="1.45"/><circle cx="361.2" cy="344.7" r="1.45"/><circle cx="434.4" cy="378.0" r="1.45"/><circle cx="371.3" cy="374.8" r="1.45"/><circle cx="325.1" cy="383.4" r="1.45"/><circle cx="430.8" cy="365.9" r="1.45"/><circle cx="334.0" cy="326.0" r="1.45"/><circle cx="344.9" cy="349.2" r="1.45"/><circle cx="419.1" cy="375.3" r="1.45"/><circle cx="377.0" cy="383.2" r="1.45"/><circle cx="371.3" cy="320.2" r="1.45"/><circle cx="347.0" cy="388.9" r="1.45"/><circle cx="392.9" cy="382.7" r="1.45"/><circle cx="359.8" cy="310.4" r="1.45"/><circle cx="405.9" cy="342.6" r="1.45"/><circle cx="341.4" cy="333.8" r="1.45"/><circle cx="343.2" cy="325.3" r="1.45"/><circle cx="379.5" cy="381.9" r="1.45"/><circle cx="438.0" cy="357.5" r="1.45"/><circle cx="377.9" cy="379.5" r="1.45"/><circle cx="460.4" cy="345.2" r="1.45"/><circle cx="460.7" cy="338.7" r="1.45"/><circle cx="325.5" cy="364.2" r="1.45"/><circle cx="512.3" cy="367.6" r="1.45"/><circle cx="428.1" cy="386.1" r="1.45"/><circle cx="477.4" cy="372.8" r="1.45"/><circle cx="503.6" cy="363.8" r="1.45"/><circle cx="371.3" cy="373.3" r="1.45"/><circle cx="487.5" cy="374.2" r="1.45"/><circle cx="475.2" cy="349.4" r="1.45"/><circle cx="333.4" cy="352.9" r="1.45"/><circle cx="427.3" cy="368.6" r="1.45"/><circle cx="367.4" cy="353.4" r="1.45"/><circle cx="358.1" cy="380.7" r="1.45"/><circle cx="406.6" cy="361.5" r="1.45"/><circle cx="408.6" cy="342.4" r="1.45"/><circle cx="373.2" cy="347.4" r="1.45"/><circle cx="434.0" cy="347.9" r="1.45"/><circle cx="367.1" cy="354.4" r="1.45"/><circle cx="418.5" cy="383.8" r="1.45"/><circle cx="467.6" cy="361.4" r="1.45"/><circle cx="387.1" cy="329.3" r="1.45"/><circle cx="401.3" cy="341.7" r="1.45"/><circle cx="365.5" cy="366.9" r="1.45"/><circle cx="343.4" cy="370.2" r="1.45"/><circle cx="445.3" cy="372.0" r="1.45"/><circle cx="403.0" cy="376.0" r="1.45"/><circle cx="382.6" cy="312.3" r="1.45"/><circle cx="381.5" cy="317.4" r="1.45"/><circle cx="346.3" cy="382.9" r="1.45"/><circle cx="389.3" cy="384.3" r="1.45"/><circle cx="318.7" cy="400.3" r="1.45"/><circle cx="404.9" cy="309.3" r="1.45"/><circle cx="376.7" cy="315.7" r="1.45"/><circle cx="416.8" cy="383.8" r="1.45"/><circle cx="465.9" cy="351.3" r="1.45"/><circle cx="375.2" cy="345.5" r="1.45"/><circle cx="395.6" cy="342.2" r="1.45"/><circle cx="476.9" cy="380.7" r="1.45"/><circle cx="475.8" cy="356.6" r="1.45"/><circle cx="327.8" cy="360.8" r="1.45"/><circle cx="343.2" cy="356.9" r="1.45"/><circle cx="375.9" cy="297.8" r="1.45"/><circle cx="413.4" cy="349.6" r="1.45"/><circle cx="313.3" cy="371.1" r="1.45"/><circle cx="396.0" cy="305.9" r="1.45"/><circle cx="423.4" cy="336.0" r="1.45"/><circle cx="331.7" cy="382.4" r="1.45"/><circle cx="322.4" cy="333.1" r="1.45"/><circle cx="313.4" cy="395.5" r="1.45"/><circle cx="355.9" cy="397.7" r="1.45"/><circle cx="337.2" cy="397.5" r="1.45"/><circle cx="471.1" cy="380.0" r="1.45"/><circle cx="489.8" cy="379.1" r="1.45"/><circle cx="351.0" cy="341.7" r="1.45"/><circle cx="373.1" cy="360.7" r="1.45"/><circle cx="425.0" cy="354.0" r="1.45"/><circle cx="396.7" cy="312.5" r="1.45"/><circle cx="368.0" cy="333.5" r="1.45"/><circle cx="373.0" cy="378.8" r="1.45"/><circle cx="344.1" cy="384.8" r="1.45"/><circle cx="451.7" cy="371.0" r="1.45"/><circle cx="440.1" cy="326.4" r="1.45"/><circle cx="447.3" cy="367.8" r="1.45"/><circle cx="422.5" cy="339.3" r="1.45"/><circle cx="511.1" cy="366.1" r="1.45"/><circle cx="487.2" cy="373.4" r="1.45"/><circle cx="390.9" cy="335.7" r="1.45"/><circle cx="361.9" cy="300.7" r="1.45"/><circle cx="418.0" cy="340.3" r="1.45"/><circle cx="427.3" cy="372.5" r="1.45"/><circle cx="432.9" cy="316.2" r="1.45"/><circle cx="355.1" cy="322.0" r="1.45"/><circle cx="361.5" cy="347.6" r="1.45"/><circle cx="482.0" cy="388.7" r="1.45"/><circle cx="365.9" cy="344.9" r="1.45"/><circle cx="426.5" cy="359.3" r="1.45"/><circle cx="495.2" cy="352.9" r="1.45"/><circle cx="464.3" cy="384.4" r="1.45"/><circle cx="341.3" cy="364.7" r="1.45"/><circle cx="315.6" cy="371.3" r="1.45"/><circle cx="330.8" cy="374.1" r="1.45"/><circle cx="314.4" cy="383.8" r="1.45"/><circle cx="372.7" cy="307.7" r="1.45"/><circle cx="322.6" cy="367.8" r="1.45"/><circle cx="325.3" cy="372.8" r="1.45"/><circle cx="433.2" cy="334.0" r="1.45"/><circle cx="386.8" cy="362.9" r="1.45"/><circle cx="330.8" cy="302.3" r="1.45"/><circle cx="364.1" cy="373.5" r="1.45"/><circle cx="346.2" cy="312.7" r="1.45"/><circle cx="360.0" cy="380.5" r="1.45"/><circle cx="431.8" cy="344.9" r="1.45"/><circle cx="341.8" cy="310.2" r="1.45"/><circle cx="391.5" cy="349.6" r="1.45"/><circle cx="406.2" cy="383.1" r="1.45"/><circle cx="342.0" cy="333.9" r="1.45"/><circle cx="443.0" cy="374.6" r="1.45"/><circle cx="448.9" cy="338.8" r="1.45"/><circle cx="431.1" cy="328.0" r="1.45"/><circle cx="451.8" cy="350.2" r="1.45"/><circle cx="335.7" cy="323.1" r="1.45"/><circle cx="342.6" cy="357.8" r="1.45"/><circle cx="425.8" cy="363.0" r="1.45"/><circle cx="353.4" cy="372.6" r="1.45"/><circle cx="357.0" cy="360.0" r="1.45"/><circle cx="505.6" cy="377.7" r="1.45"/><circle cx="440.3" cy="322.5" r="1.45"/><circle cx="336.7" cy="329.7" r="1.45"/><circle cx="331.2" cy="391.6" r="1.45"/><circle cx="491.2" cy="373.1" r="1.45"/><circle cx="466.7" cy="363.5" r="1.45"/><circle cx="402.9" cy="378.0" r="1.45"/><circle cx="357.9" cy="377.5" r="1.45"/><circle cx="375.5" cy="324.5" r="1.45"/><circle cx="393.9" cy="360.6" r="1.45"/><circle cx="487.1" cy="372.5" r="1.45"/><circle cx="450.8" cy="374.5" r="1.45"/><circle cx="343.4" cy="370.7" r="1.45"/><circle cx="366.6" cy="384.0" r="1.45"/><circle cx="349.4" cy="326.1" r="1.45"/><circle cx="335.3" cy="316.3" r="1.45"/><circle cx="485.6" cy="387.0" r="1.45"/><circle cx="475.2" cy="368.6" r="1.45"/><circle cx="357.0" cy="323.0" r="1.45"/><circle cx="493.4" cy="346.0" r="1.45"/><circle cx="352.6" cy="300.7" r="1.45"/><circle cx="329.5" cy="325.1" r="1.45"/><circle cx="415.8" cy="397.6" r="1.45"/><circle cx="466.1" cy="355.6" r="1.45"/><circle cx="503.8" cy="390.1" r="1.45"/><circle cx="430.9" cy="323.5" r="1.45"/><circle cx="498.6" cy="358.7" r="1.45"/><circle cx="459.6" cy="379.9" r="1.45"/><circle cx="397.5" cy="351.3" r="1.45"/><circle cx="485.1" cy="381.4" r="1.45"/><circle cx="337.0" cy="383.9" r="1.45"/><circle cx="456.0" cy="373.0" r="1.45"/><circle cx="361.5" cy="332.5" r="1.45"/><circle cx="409.0" cy="373.5" r="1.45"/><circle cx="393.8" cy="382.9" r="1.45"/><circle cx="344.1" cy="369.4" r="1.45"/><circle cx="490.1" cy="384.6" r="1.45"/><circle cx="417.5" cy="335.7" r="1.45"/><circle cx="342.7" cy="320.5" r="1.45"/><circle cx="459.2" cy="370.0" r="1.45"/><circle cx="385.4" cy="321.3" r="1.45"/><circle cx="506.1" cy="368.1" r="1.45"/><circle cx="347.4" cy="388.7" r="1.45"/><circle cx="353.8" cy="397.6" r="1.45"/><circle cx="354.0" cy="309.2" r="1.45"/><circle cx="368.0" cy="360.8" r="1.45"/><circle cx="481.6" cy="353.0" r="1.45"/><circle cx="462.5" cy="346.2" r="1.45"/><circle cx="367.4" cy="302.3" r="1.45"/><circle cx="522.4" cy="362.1" r="1.45"/><circle cx="341.7" cy="361.1" r="1.45"/><circle cx="371.8" cy="370.5" r="1.45"/><circle cx="362.5" cy="356.4" r="1.45"/><circle cx="349.0" cy="342.9" r="1.45"/><circle cx="382.2" cy="367.4" r="1.45"/><circle cx="376.8" cy="346.4" r="1.45"/><circle cx="334.5" cy="390.1" r="1.45"/><circle cx="460.4" cy="340.1" r="1.45"/><circle cx="357.7" cy="309.4" r="1.45"/><circle cx="398.9" cy="341.7" r="1.45"/><circle cx="515.1" cy="363.5" r="1.45"/><circle cx="348.8" cy="394.3" r="1.45"/><circle cx="477.4" cy="358.6" r="1.45"/><circle cx="418.2" cy="387.2" r="1.45"/><circle cx="399.2" cy="355.4" r="1.45"/><circle cx="345.0" cy="364.8" r="1.45"/><circle cx="364.3" cy="329.0" r="1.45"/><circle cx="370.7" cy="325.0" r="1.45"/><circle cx="379.3" cy="324.9" r="1.45"/><circle cx="339.4" cy="376.1" r="1.45"/><circle cx="440.5" cy="330.2" r="1.45"/><circle cx="330.9" cy="344.0" r="1.45"/><circle cx="319.7" cy="372.6" r="1.45"/><circle cx="422.8" cy="348.4" r="1.45"/><circle cx="332.2" cy="357.6" r="1.45"/><circle cx="412.5" cy="336.8" r="1.45"/><circle cx="426.0" cy="372.6" r="1.45"/><circle cx="315.1" cy="402.4" r="1.45"/><circle cx="354.1" cy="354.3" r="1.45"/><circle cx="423.8" cy="320.0" r="1.45"/><circle cx="391.9" cy="317.3" r="1.45"/><circle cx="392.7" cy="331.1" r="1.45"/><circle cx="424.0" cy="372.5" r="1.45"/><circle cx="348.7" cy="373.4" r="1.45"/><circle cx="432.5" cy="337.2" r="1.45"/><circle cx="480.9" cy="339.4" r="1.45"/><circle cx="430.9" cy="319.8" r="1.45"/><circle cx="484.6" cy="372.9" r="1.45"/><circle cx="328.3" cy="360.8" r="1.45"/><circle cx="472.5" cy="362.7" r="1.45"/><circle cx="405.0" cy="329.6" r="1.45"/><circle cx="380.2" cy="327.3" r="1.45"/><circle cx="317.2" cy="392.1" r="1.45"/><circle cx="372.0" cy="353.0" r="1.45"/><circle cx="350.5" cy="383.4" r="1.45"/><circle cx="419.0" cy="359.9" r="1.45"/><circle cx="339.9" cy="352.7" r="1.45"/><circle cx="409.5" cy="373.1" r="1.45"/><circle cx="350.4" cy="369.1" r="1.45"/><circle cx="439.6" cy="350.4" r="1.45"/><circle cx="392.1" cy="345.9" r="1.45"/><circle cx="459.4" cy="378.1" r="1.45"/><circle cx="338.1" cy="400.2" r="1.45"/><circle cx="345.9" cy="307.5" r="1.45"/><circle cx="431.0" cy="375.2" r="1.45"/><circle cx="327.2" cy="396.5" r="1.45"/><circle cx="485.8" cy="351.8" r="1.45"/><circle cx="356.3" cy="323.8" r="1.45"/><circle cx="481.5" cy="329.9" r="1.45"/><circle cx="384.7" cy="376.0" r="1.45"/><circle cx="400.3" cy="337.6" r="1.45"/><circle cx="370.9" cy="301.4" r="1.45"/><circle cx="351.1" cy="308.3" r="1.45"/><circle cx="363.9" cy="335.5" r="1.45"/><circle cx="343.6" cy="333.4" r="1.45"/><circle cx="403.9" cy="379.7" r="1.45"/><circle cx="404.7" cy="333.0" r="1.45"/><circle cx="340.1" cy="314.9" r="1.45"/><circle cx="485.1" cy="375.2" r="1.45"/><circle cx="487.5" cy="359.6" r="1.45"/><circle cx="349.5" cy="328.4" r="1.45"/><circle cx="368.4" cy="310.6" r="1.45"/><circle cx="324.1" cy="367.9" r="1.45"/><circle cx="487.6" cy="389.8" r="1.45"/><circle cx="429.7" cy="341.3" r="1.45"/><circle cx="390.3" cy="325.0" r="1.45"/><circle cx="359.0" cy="349.8" r="1.45"/><circle cx="377.7" cy="338.6" r="1.45"/><circle cx="370.4" cy="329.5" r="1.45"/><circle cx="366.7" cy="299.9" r="1.45"/><circle cx="347.9" cy="357.0" r="1.45"/><circle cx="378.1" cy="341.2" r="1.45"/><circle cx="363.6" cy="302.6" r="1.45"/><circle cx="386.1" cy="375.3" r="1.45"/><circle cx="482.4" cy="353.5" r="1.45"/><circle cx="409.5" cy="355.3" r="1.45"/><circle cx="510.2" cy="376.0" r="1.45"/><circle cx="342.0" cy="371.4" r="1.45"/><circle cx="441.0" cy="370.9" r="1.45"/><circle cx="364.2" cy="310.5" r="1.45"/><circle cx="366.5" cy="361.7" r="1.45"/><circle cx="395.4" cy="306.0" r="1.45"/><circle cx="473.9" cy="351.1" r="1.45"/><circle cx="456.0" cy="385.6" r="1.45"/><circle cx="477.5" cy="344.4" r="1.45"/><circle cx="494.1" cy="379.8" r="1.45"/><circle cx="359.8" cy="363.8" r="1.45"/><circle cx="410.6" cy="349.3" r="1.45"/><circle cx="345.0" cy="362.5" r="1.45"/><circle cx="367.2" cy="349.4" r="1.45"/><circle cx="331.8" cy="372.9" r="1.45"/><circle cx="485.9" cy="346.7" r="1.45"/><circle cx="335.2" cy="338.3" r="1.45"/><circle cx="435.5" cy="356.7" r="1.45"/><circle cx="331.1" cy="319.0" r="1.45"/><circle cx="484.1" cy="382.9" r="1.45"/><circle cx="447.9" cy="375.7" r="1.45"/><circle cx="373.8" cy="343.6" r="1.45"/><circle cx="362.7" cy="315.8" r="1.45"/><circle cx="436.5" cy="379.1" r="1.45"/><circle cx="466.5" cy="385.9" r="1.45"/><circle cx="333.6" cy="376.7" r="1.45"/><circle cx="382.3" cy="341.4" r="1.45"/><circle cx="417.8" cy="372.1" r="1.45"/><circle cx="412.9" cy="328.9" r="1.45"/><circle cx="424.5" cy="376.6" r="1.45"/><circle cx="420.2" cy="379.5" r="1.45"/><circle cx="472.8" cy="374.9" r="1.45"/><circle cx="330.7" cy="327.3" r="1.45"/><circle cx="324.6" cy="391.1" r="1.45"/><circle cx="415.4" cy="336.6" r="1.45"/><circle cx="334.7" cy="346.3" r="1.45"/><circle cx="479.7" cy="355.5" r="1.45"/><circle cx="353.6" cy="386.9" r="1.45"/><circle cx="365.4" cy="318.8" r="1.45"/><circle cx="478.0" cy="368.6" r="1.45"/><circle cx="423.4" cy="342.8" r="1.45"/><circle cx="328.3" cy="344.1" r="1.45"/><circle cx="346.8" cy="342.1" r="1.45"/><circle cx="441.9" cy="330.8" r="1.45"/><circle cx="421.2" cy="333.8" r="1.45"/><circle cx="427.2" cy="342.3" r="1.45"/><circle cx="380.2" cy="351.6" r="1.45"/><circle cx="376.2" cy="296.6" r="1.45"/><circle cx="362.6" cy="375.6" r="1.45"/><circle cx="405.4" cy="357.0" r="1.45"/><circle cx="350.3" cy="325.4" r="1.45"/><circle cx="366.7" cy="312.1" r="1.45"/><circle cx="434.7" cy="358.3" r="1.45"/><circle cx="370.6" cy="310.2" r="1.45"/><circle cx="497.8" cy="385.3" r="1.45"/><circle cx="325.7" cy="339.5" r="1.45"/><circle cx="366.1" cy="360.6" r="1.45"/><circle cx="322.5" cy="399.1" r="1.45"/><circle cx="430.9" cy="357.7" r="1.45"/><circle cx="397.6" cy="317.2" r="1.45"/><circle cx="363.0" cy="331.6" r="1.45"/><circle cx="437.2" cy="383.3" r="1.45"/><circle cx="393.0" cy="308.8" r="1.45"/><circle cx="482.3" cy="367.4" r="1.45"/><circle cx="507.0" cy="373.1" r="1.45"/><circle cx="344.5" cy="359.8" r="1.45"/><circle cx="371.7" cy="360.0" r="1.45"/><circle cx="355.3" cy="330.4" r="1.45"/><circle cx="433.9" cy="347.6" r="1.45"/><circle cx="360.6" cy="307.0" r="1.45"/><circle cx="411.7" cy="367.0" r="1.45"/><circle cx="383.9" cy="341.6" r="1.45"/><circle cx="369.0" cy="359.5" r="1.45"/><circle cx="399.5" cy="359.6" r="1.45"/><circle cx="325.6" cy="313.4" r="1.45"/><circle cx="465.5" cy="358.0" r="1.45"/><circle cx="416.4" cy="372.6" r="1.45"/><circle cx="398.5" cy="301.5" r="1.45"/><circle cx="366.8" cy="358.2" r="1.45"/><circle cx="370.1" cy="301.6" r="1.45"/><circle cx="344.8" cy="393.8" r="1.45"/><circle cx="428.2" cy="326.6" r="1.45"/><circle cx="351.4" cy="307.0" r="1.45"/><circle cx="407.9" cy="319.5" r="1.45"/><circle cx="460.5" cy="369.7" r="1.45"/><circle cx="409.1" cy="329.4" r="1.45"/><circle cx="394.5" cy="357.5" r="1.45"/><circle cx="477.8" cy="349.5" r="1.45"/><circle cx="423.9" cy="375.7" r="1.45"/><circle cx="418.2" cy="385.2" r="1.45"/><circle cx="340.8" cy="348.1" r="1.45"/><circle cx="363.1" cy="368.6" r="1.45"/><circle cx="416.9" cy="333.4" r="1.45"/><circle cx="342.4" cy="386.9" r="1.45"/><circle cx="329.8" cy="360.6" r="1.45"/><circle cx="358.7" cy="363.5" r="1.45"/><circle cx="330.7" cy="390.4" r="1.45"/><circle cx="348.7" cy="372.8" r="1.45"/><circle cx="381.3" cy="313.1" r="1.45"/><circle cx="442.1" cy="335.4" r="1.45"/><circle cx="373.1" cy="377.6" r="1.45"/><circle cx="409.4" cy="386.6" r="1.45"/><circle cx="327.4" cy="373.8" r="1.45"/><circle cx="416.1" cy="343.2" r="1.45"/><circle cx="374.6" cy="314.4" r="1.45"/><circle cx="488.4" cy="382.9" r="1.45"/><circle cx="480.4" cy="376.1" r="1.45"/><circle cx="344.4" cy="347.9" r="1.45"/><circle cx="410.9" cy="379.6" r="1.45"/><circle cx="481.5" cy="339.3" r="1.45"/><circle cx="404.9" cy="315.5" r="1.45"/><circle cx="370.6" cy="310.7" r="1.45"/><circle cx="420.5" cy="346.7" r="1.45"/><circle cx="369.9" cy="326.9" r="1.45"/><circle cx="401.0" cy="356.2" r="1.45"/><circle cx="371.5" cy="364.6" r="1.45"/><circle cx="402.4" cy="344.2" r="1.45"/><circle cx="409.0" cy="328.8" r="1.45"/><circle cx="394.4" cy="371.8" r="1.45"/><circle cx="362.9" cy="382.7" r="1.45"/><circle cx="518.8" cy="357.5" r="1.45"/><circle cx="338.8" cy="335.7" r="1.45"/><circle cx="414.6" cy="368.3" r="1.45"/><circle cx="381.0" cy="318.1" r="1.45"/><circle cx="370.0" cy="349.4" r="1.45"/><circle cx="348.0" cy="337.0" r="1.45"/><circle cx="352.9" cy="387.9" r="1.45"/><circle cx="336.7" cy="389.4" r="1.45"/><circle cx="389.2" cy="323.1" r="1.45"/><circle cx="474.7" cy="354.1" r="1.45"/><circle cx="365.9" cy="361.6" r="1.45"/><circle cx="405.4" cy="361.4" r="1.45"/><circle cx="457.8" cy="383.4" r="1.45"/><circle cx="326.6" cy="375.6" r="1.45"/><circle cx="478.1" cy="373.3" r="1.45"/><circle cx="386.7" cy="331.1" r="1.45"/><circle cx="346.4" cy="355.4" r="1.45"/><circle cx="464.5" cy="376.4" r="1.45"/><circle cx="428.8" cy="366.4" r="1.45"/><circle cx="480.3" cy="385.2" r="1.45"/><circle cx="352.1" cy="332.5" r="1.45"/><circle cx="417.6" cy="347.3" r="1.45"/><circle cx="509.8" cy="368.2" r="1.45"/><circle cx="361.6" cy="338.5" r="1.45"/><circle cx="396.2" cy="350.1" r="1.45"/><circle cx="481.4" cy="349.6" r="1.45"/><circle cx="361.6" cy="312.6" r="1.45"/><circle cx="361.5" cy="406.1" r="1.45"/><circle cx="351.5" cy="366.7" r="1.45"/><circle cx="454.0" cy="338.4" r="1.45"/><circle cx="378.1" cy="328.0" r="1.45"/><circle cx="368.5" cy="345.4" r="1.45"/><circle cx="493.5" cy="362.5" r="1.45"/><circle cx="499.9" cy="371.2" r="1.45"/><circle cx="443.1" cy="387.5" r="1.45"/><circle cx="472.4" cy="355.7" r="1.45"/><circle cx="320.5" cy="353.3" r="1.45"/><circle cx="398.4" cy="366.7" r="1.45"/><circle cx="350.1" cy="377.6" r="1.45"/><circle cx="376.9" cy="328.2" r="1.45"/><circle cx="325.6" cy="357.4" r="1.45"/><circle cx="327.1" cy="327.7" r="1.45"/><circle cx="384.8" cy="366.5" r="1.45"/><circle cx="413.4" cy="344.2" r="1.45"/><circle cx="325.0" cy="372.4" r="1.45"/><circle cx="373.6" cy="311.3" r="1.45"/><circle cx="347.7" cy="340.1" r="1.45"/><circle cx="343.9" cy="370.4" r="1.45"/><circle cx="367.8" cy="379.6" r="1.45"/><circle cx="416.4" cy="359.0" r="1.45"/><circle cx="429.0" cy="358.0" r="1.45"/><circle cx="383.1" cy="303.8" r="1.45"/><circle cx="388.4" cy="306.2" r="1.45"/><circle cx="363.5" cy="351.1" r="1.45"/><circle cx="432.4" cy="346.2" r="1.45"/><circle cx="353.5" cy="353.4" r="1.45"/><circle cx="359.8" cy="343.9" r="1.45"/><circle cx="386.6" cy="331.8" r="1.45"/><circle cx="481.5" cy="376.5" r="1.45"/><circle cx="361.9" cy="321.1" r="1.45"/><circle cx="405.2" cy="311.9" r="1.45"/><circle cx="412.3" cy="345.4" r="1.45"/><circle cx="371.1" cy="310.4" r="1.45"/><circle cx="365.0" cy="348.2" r="1.45"/><circle cx="392.0" cy="362.5" r="1.45"/><circle cx="413.3" cy="347.8" r="1.45"/><circle cx="368.1" cy="303.7" r="1.45"/><circle cx="330.5" cy="386.0" r="1.45"/><circle cx="476.3" cy="359.8" r="1.45"/><circle cx="422.3" cy="368.6" r="1.45"/><circle cx="326.2" cy="374.0" r="1.45"/><circle cx="327.6" cy="371.5" r="1.45"/><circle cx="340.2" cy="315.0" r="1.45"/><circle cx="487.8" cy="372.1" r="1.45"/><circle cx="323.4" cy="330.7" r="1.45"/><circle cx="403.5" cy="313.1" r="1.45"/><circle cx="360.4" cy="299.4" r="1.45"/><circle cx="338.7" cy="391.5" r="1.45"/><circle cx="387.8" cy="352.2" r="1.45"/><circle cx="409.5" cy="358.5" r="1.45"/><circle cx="357.3" cy="375.0" r="1.45"/><circle cx="419.3" cy="324.6" r="1.45"/><circle cx="374.4" cy="351.6" r="1.45"/><circle cx="377.6" cy="289.3" r="1.45"/><circle cx="384.2" cy="392.7" r="1.45"/><circle cx="464.8" cy="376.0" r="1.45"/><circle cx="440.3" cy="344.8" r="1.45"/><circle cx="408.0" cy="364.5" r="1.45"/><circle cx="375.9" cy="357.5" r="1.45"/><circle cx="338.0" cy="377.7" r="1.45"/><circle cx="470.3" cy="340.8" r="1.45"/><circle cx="320.3" cy="381.7" r="1.45"/><circle cx="347.0" cy="318.0" r="1.45"/><circle cx="333.4" cy="337.9" r="1.45"/><circle cx="359.4" cy="379.0" r="1.45"/><circle cx="343.3" cy="337.4" r="1.45"/><circle cx="369.1" cy="327.1" r="1.45"/><circle cx="451.5" cy="370.0" r="1.45"/><circle cx="362.5" cy="385.3" r="1.45"/><circle cx="515.0" cy="351.1" r="1.45"/><circle cx="347.3" cy="365.3" r="1.45"/><circle cx="395.9" cy="349.5" r="1.45"/><circle cx="394.7" cy="362.5" r="1.45"/><circle cx="409.8" cy="387.0" r="1.45"/><circle cx="410.4" cy="346.1" r="1.45"/><circle cx="470.7" cy="394.4" r="1.45"/><circle cx="397.2" cy="313.1" r="1.45"/><circle cx="421.6" cy="372.8" r="1.45"/><circle cx="395.7" cy="320.4" r="1.45"/><circle cx="349.8" cy="348.5" r="1.45"/><circle cx="381.6" cy="304.3" r="1.45"/><circle cx="493.5" cy="392.8" r="1.45"/><circle cx="400.0" cy="380.9" r="1.45"/><circle cx="399.1" cy="328.6" r="1.45"/><circle cx="491.3" cy="352.1" r="1.45"/><circle cx="330.6" cy="325.4" r="1.45"/><circle cx="499.8" cy="378.6" r="1.45"/><circle cx="338.5" cy="344.2" r="1.45"/><circle cx="400.6" cy="353.7" r="1.45"/><circle cx="392.9" cy="359.7" r="1.45"/><circle cx="366.7" cy="338.3" r="1.45"/><circle cx="334.1" cy="346.0" r="1.45"/><circle cx="468.0" cy="350.0" r="1.45"/><circle cx="425.4" cy="372.6" r="1.45"/><circle cx="348.6" cy="312.5" r="1.45"/><circle cx="391.6" cy="322.0" r="1.45"/><circle cx="452.0" cy="389.7" r="1.45"/><circle cx="393.9" cy="322.3" r="1.45"/><circle cx="507.6" cy="378.9" r="1.45"/><circle cx="333.4" cy="377.9" r="1.45"/><circle cx="447.2" cy="367.7" r="1.45"/><circle cx="324.7" cy="370.4" r="1.45"/><circle cx="357.9" cy="353.7" r="1.45"/><circle cx="334.9" cy="329.9" r="1.45"/><circle cx="375.4" cy="325.7" r="1.45"/><circle cx="446.5" cy="348.6" r="1.45"/><circle cx="426.5" cy="333.8" r="1.45"/><circle cx="399.0" cy="338.5" r="1.45"/><circle cx="347.2" cy="372.3" r="1.45"/><circle cx="392.0" cy="337.1" r="1.45"/><circle cx="344.3" cy="329.9" r="1.45"/><circle cx="330.7" cy="332.2" r="1.45"/><circle cx="342.0" cy="376.5" r="1.45"/><circle cx="481.2" cy="376.3" r="1.45"/><circle cx="413.8" cy="317.2" r="1.45"/><circle cx="336.4" cy="341.0" r="1.45"/><circle cx="456.2" cy="387.0" r="1.45"/><circle cx="415.5" cy="359.8" r="1.45"/><circle cx="339.3" cy="349.5" r="1.45"/><circle cx="312.6" cy="387.8" r="1.45"/><circle cx="380.7" cy="348.8" r="1.45"/><circle cx="460.0" cy="366.1" r="1.45"/><circle cx="441.6" cy="376.5" r="1.45"/><circle cx="337.0" cy="359.6" r="1.45"/><circle cx="423.4" cy="385.7" r="1.45"/><circle cx="338.3" cy="342.7" r="1.45"/><circle cx="471.1" cy="326.9" r="1.45"/><circle cx="439.3" cy="328.0" r="1.45"/><circle cx="345.5" cy="353.2" r="1.45"/><circle cx="352.1" cy="346.7" r="1.45"/><circle cx="471.4" cy="374.2" r="1.45"/><circle cx="405.0" cy="347.1" r="1.45"/><circle cx="319.2" cy="388.3" r="1.45"/><circle cx="500.8" cy="371.2" r="1.45"/><circle cx="348.2" cy="375.8" r="1.45"/><circle cx="351.6" cy="377.4" r="1.45"/><circle cx="406.8" cy="371.8" r="1.45"/><circle cx="314.4" cy="382.5" r="1.45"/><circle cx="474.0" cy="361.8" r="1.45"/><circle cx="371.5" cy="350.1" r="1.45"/><circle cx="358.2" cy="368.6" r="1.45"/><circle cx="510.3" cy="353.6" r="1.45"/><circle cx="339.1" cy="319.2" r="1.45"/><circle cx="488.8" cy="340.7" r="1.45"/><circle cx="407.0" cy="317.3" r="1.45"/><circle cx="358.8" cy="354.4" r="1.45"/><circle cx="343.0" cy="349.0" r="1.45"/><circle cx="484.9" cy="381.1" r="1.45"/><circle cx="367.2" cy="371.9" r="1.45"/><circle cx="412.0" cy="375.3" r="1.45"/><circle cx="432.8" cy="320.4" r="1.45"/><circle cx="499.2" cy="357.1" r="1.45"/><circle cx="366.5" cy="327.5" r="1.45"/><circle cx="334.8" cy="343.0" r="1.45"/><circle cx="387.7" cy="331.5" r="1.45"/><circle cx="403.2" cy="370.6" r="1.45"/><circle cx="477.1" cy="374.0" r="1.45"/><circle cx="348.4" cy="387.1" r="1.45"/><circle cx="379.9" cy="361.9" r="1.45"/><circle cx="380.0" cy="362.2" r="1.45"/><circle cx="467.5" cy="335.7" r="1.45"/><circle cx="375.6" cy="332.6" r="1.45"/><circle cx="412.5" cy="374.4" r="1.45"/><circle cx="375.9" cy="342.8" r="1.45"/><circle cx="375.8" cy="351.1" r="1.45"/><circle cx="359.3" cy="304.9" r="1.45"/><circle cx="501.3" cy="369.6" r="1.45"/><circle cx="372.8" cy="374.1" r="1.45"/><circle cx="411.3" cy="377.7" r="1.45"/><circle cx="419.6" cy="370.3" r="1.45"/><circle cx="322.1" cy="394.2" r="1.45"/><circle cx="350.5" cy="352.5" r="1.45"/><circle cx="404.5" cy="323.5" r="1.45"/><circle cx="344.2" cy="311.5" r="1.45"/><circle cx="501.8" cy="356.1" r="1.45"/><circle cx="413.6" cy="315.1" r="1.45"/><circle cx="368.5" cy="333.7" r="1.45"/><circle cx="370.8" cy="305.6" r="1.45"/><circle cx="336.8" cy="358.3" r="1.45"/><circle cx="467.7" cy="353.3" r="1.45"/><circle cx="424.0" cy="351.7" r="1.45"/><circle cx="381.5" cy="369.3" r="1.45"/><circle cx="412.9" cy="364.8" r="1.45"/><circle cx="377.5" cy="382.2" r="1.45"/><circle cx="358.0" cy="312.5" r="1.45"/><circle cx="378.5" cy="322.8" r="1.45"/><circle cx="359.0" cy="392.4" r="1.45"/><circle cx="357.1" cy="383.3" r="1.45"/><circle cx="472.0" cy="357.6" r="1.45"/><circle cx="379.2" cy="343.6" r="1.45"/><circle cx="374.3" cy="368.7" r="1.45"/><circle cx="409.3" cy="352.2" r="1.45"/><circle cx="403.6" cy="306.5" r="1.45"/><circle cx="394.6" cy="359.1" r="1.45"/><circle cx="328.4" cy="373.5" r="1.45"/><circle cx="487.3" cy="356.8" r="1.45"/><circle cx="314.6" cy="387.7" r="1.45"/><circle cx="383.1" cy="378.5" r="1.45"/><circle cx="345.0" cy="408.3" r="1.45"/><circle cx="459.4" cy="344.1" r="1.45"/><circle cx="368.2" cy="298.0" r="1.45"/><circle cx="380.4" cy="354.7" r="1.45"/><circle cx="312.7" cy="393.3" r="1.45"/><circle cx="383.3" cy="313.8" r="1.45"/><circle cx="348.5" cy="311.6" r="1.45"/><circle cx="353.9" cy="370.3" r="1.45"/><circle cx="360.4" cy="352.8" r="1.45"/><circle cx="390.8" cy="324.4" r="1.45"/><circle cx="362.9" cy="372.5" r="1.45"/><circle cx="366.7" cy="370.7" r="1.45"/><circle cx="389.1" cy="386.1" r="1.45"/><circle cx="486.1" cy="384.7" r="1.45"/><circle cx="395.4" cy="299.6" r="1.45"/><circle cx="378.8" cy="348.7" r="1.45"/><circle cx="498.8" cy="375.9" r="1.45"/><circle cx="420.3" cy="365.1" r="1.45"/><circle cx="356.5" cy="370.8" r="1.45"/><circle cx="468.8" cy="386.5" r="1.45"/><circle cx="393.9" cy="331.9" r="1.45"/><circle cx="479.7" cy="380.5" r="1.45"/><circle cx="443.8" cy="369.6" r="1.45"/><circle cx="455.4" cy="343.1" r="1.45"/><circle cx="370.8" cy="340.1" r="1.45"/><circle cx="341.3" cy="391.4" r="1.45"/><circle cx="350.6" cy="319.0" r="1.45"/><circle cx="364.6" cy="380.3" r="1.45"/><circle cx="481.2" cy="349.0" r="1.45"/><circle cx="440.0" cy="341.3" r="1.45"/><circle cx="499.4" cy="389.7" r="1.45"/><circle cx="425.8" cy="342.5" r="1.45"/><circle cx="360.4" cy="375.2" r="1.45"/><circle cx="428.6" cy="360.1" r="1.45"/><circle cx="388.8" cy="350.3" r="1.45"/><circle cx="468.7" cy="373.0" r="1.45"/><circle cx="383.9" cy="348.4" r="1.45"/><circle cx="442.7" cy="343.2" r="1.45"/><circle cx="410.0" cy="355.7" r="1.45"/><circle cx="372.3" cy="316.0" r="1.45"/><circle cx="380.8" cy="319.1" r="1.45"/><circle cx="352.2" cy="358.7" r="1.45"/><circle cx="364.1" cy="355.5" r="1.45"/><circle cx="419.3" cy="316.0" r="1.45"/><circle cx="319.3" cy="375.6" r="1.45"/><circle cx="406.1" cy="326.3" r="1.45"/><circle cx="340.9" cy="377.2" r="1.45"/><circle cx="388.3" cy="320.0" r="1.45"/><circle cx="372.3" cy="311.7" r="1.45"/><circle cx="390.4" cy="331.0" r="1.45"/><circle cx="424.9" cy="369.7" r="1.45"/><circle cx="499.2" cy="383.4" r="1.45"/><circle cx="354.3" cy="303.6" r="1.45"/><circle cx="364.3" cy="318.7" r="1.45"/><circle cx="392.0" cy="390.0" r="1.45"/><circle cx="498.3" cy="361.9" r="1.45"/><circle cx="367.2" cy="343.3" r="1.45"/><circle cx="440.1" cy="371.9" r="1.45"/><circle cx="385.2" cy="375.0" r="1.45"/><circle cx="417.5" cy="339.1" r="1.45"/><circle cx="484.3" cy="357.0" r="1.45"/><circle cx="426.8" cy="382.3" r="1.45"/><circle cx="364.4" cy="315.2" r="1.45"/><circle cx="402.6" cy="349.4" r="1.45"/><circle cx="367.2" cy="298.8" r="1.45"/><circle cx="475.3" cy="355.2" r="1.45"/><circle cx="466.7" cy="359.6" r="1.45"/><circle cx="343.1" cy="306.6" r="1.45"/><circle cx="489.1" cy="381.9" r="1.45"/><circle cx="328.2" cy="391.9" r="1.45"/><circle cx="488.3" cy="379.0" r="1.45"/><circle cx="456.8" cy="351.9" r="1.45"/><circle cx="450.8" cy="385.4" r="1.45"/><circle cx="426.1" cy="365.2" r="1.45"/><circle cx="363.9" cy="340.8" r="1.45"/><circle cx="420.8" cy="347.0" r="1.45"/><circle cx="352.6" cy="319.1" r="1.45"/><circle cx="493.2" cy="359.9" r="1.45"/><circle cx="381.3" cy="316.3" r="1.45"/><circle cx="490.1" cy="386.4" r="1.45"/><circle cx="378.0" cy="343.8" r="1.45"/><circle cx="352.6" cy="343.2" r="1.45"/><circle cx="444.9" cy="370.8" r="1.45"/><circle cx="378.1" cy="306.7" r="1.45"/><circle cx="448.2" cy="337.7" r="1.45"/><circle cx="354.2" cy="334.8" r="1.45"/><circle cx="373.2" cy="369.4" r="1.45"/><circle cx="347.4" cy="378.7" r="1.45"/><circle cx="484.8" cy="347.4" r="1.45"/><circle cx="383.3" cy="305.2" r="1.45"/><circle cx="437.6" cy="332.0" r="1.45"/><circle cx="422.4" cy="326.0" r="1.45"/><circle cx="496.1" cy="361.5" r="1.45"/><circle cx="341.5" cy="355.0" r="1.45"/><circle cx="354.8" cy="371.4" r="1.45"/><circle cx="492.7" cy="368.3" r="1.45"/><circle cx="429.5" cy="325.8" r="1.45"/><circle cx="392.4" cy="356.5" r="1.45"/><circle cx="498.4" cy="384.8" r="1.45"/><circle cx="419.7" cy="374.0" r="1.45"/><circle cx="319.8" cy="380.7" r="1.45"/><circle cx="504.3" cy="377.0" r="1.45"/><circle cx="322.8" cy="380.1" r="1.45"/><circle cx="501.9" cy="367.1" r="1.45"/><circle cx="348.3" cy="354.5" r="1.45"/><circle cx="422.4" cy="320.7" r="1.45"/><circle cx="368.1" cy="315.2" r="1.45"/><circle cx="426.8" cy="371.3" r="1.45"/><circle cx="349.1" cy="364.7" r="1.45"/><circle cx="392.8" cy="368.8" r="1.45"/><circle cx="399.9" cy="370.6" r="1.45"/><circle cx="364.7" cy="355.4" r="1.45"/><circle cx="389.6" cy="368.4" r="1.45"/><circle cx="415.6" cy="349.8" r="1.45"/><circle cx="440.7" cy="355.0" r="1.45"/><circle cx="315.5" cy="403.0" r="1.45"/><circle cx="459.0" cy="372.2" r="1.45"/><circle cx="435.0" cy="378.7" r="1.45"/><circle cx="380.2" cy="366.8" r="1.45"/><circle cx="423.0" cy="336.2" r="1.45"/><circle cx="372.2" cy="291.2" r="1.45"/><circle cx="351.6" cy="362.8" r="1.45"/><circle cx="368.9" cy="331.6" r="1.45"/><circle cx="381.6" cy="327.3" r="1.45"/><circle cx="387.5" cy="381.2" r="1.45"/><circle cx="433.9" cy="341.4" r="1.45"/><circle cx="413.3" cy="306.3" r="1.45"/><circle cx="427.2" cy="353.6" r="1.45"/><circle cx="388.1" cy="339.5" r="1.45"/><circle cx="338.6" cy="342.3" r="1.45"/><circle cx="342.9" cy="389.6" r="1.45"/><circle cx="421.9" cy="322.8" r="1.45"/><circle cx="396.8" cy="318.8" r="1.45"/><circle cx="440.9" cy="386.6" r="1.45"/><circle cx="405.2" cy="343.9" r="1.45"/><circle cx="332.7" cy="391.7" r="1.45"/><circle cx="429.9" cy="353.8" r="1.45"/><circle cx="359.6" cy="386.9" r="1.45"/><circle cx="336.5" cy="349.7" r="1.45"/><circle cx="439.9" cy="327.7" r="1.45"/><circle cx="392.9" cy="311.5" r="1.45"/><circle cx="355.9" cy="380.5" r="1.45"/><circle cx="326.3" cy="365.5" r="1.45"/><circle cx="369.9" cy="335.2" r="1.45"/><circle cx="352.3" cy="344.4" r="1.45"/><circle cx="375.0" cy="305.7" r="1.45"/><circle cx="490.7" cy="372.2" r="1.45"/><circle cx="421.4" cy="361.7" r="1.45"/><circle cx="352.0" cy="320.1" r="1.45"/><circle cx="370.1" cy="332.7" r="1.45"/><circle cx="428.4" cy="330.4" r="1.45"/><circle cx="430.5" cy="366.8" r="1.45"/><circle cx="467.0" cy="363.2" r="1.45"/><circle cx="360.5" cy="360.0" r="1.45"/><circle cx="375.3" cy="311.7" r="1.45"/><circle cx="314.2" cy="394.6" r="1.45"/><circle cx="467.7" cy="346.9" r="1.45"/><circle cx="389.8" cy="343.6" r="1.45"/><circle cx="323.6" cy="390.7" r="1.45"/><circle cx="345.8" cy="343.8" r="1.45"/><circle cx="510.6" cy="355.3" r="1.45"/><circle cx="336.4" cy="348.6" r="1.45"/><circle cx="420.5" cy="319.5" r="1.45"/><circle cx="329.7" cy="357.8" r="1.45"/><circle cx="441.1" cy="374.3" r="1.45"/><circle cx="337.5" cy="389.9" r="1.45"/><circle cx="329.5" cy="348.5" r="1.45"/><circle cx="328.1" cy="379.3" r="1.45"/><circle cx="366.7" cy="315.4" r="1.45"/><circle cx="329.0" cy="320.9" r="1.45"/><circle cx="340.7" cy="331.4" r="1.45"/><circle cx="439.3" cy="349.8" r="1.45"/><circle cx="371.1" cy="373.5" r="1.45"/><circle cx="373.4" cy="374.2" r="1.45"/><circle cx="339.5" cy="381.2" r="1.45"/><circle cx="365.1" cy="336.0" r="1.45"/><circle cx="392.4" cy="360.2" r="1.45"/><circle cx="393.8" cy="319.3" r="1.45"/><circle cx="385.0" cy="357.9" r="1.45"/><circle cx="406.1" cy="316.5" r="1.45"/><circle cx="331.8" cy="386.7" r="1.45"/><circle cx="313.0" cy="377.4" r="1.45"/><circle cx="459.8" cy="340.5" r="1.45"/><circle cx="363.6" cy="357.0" r="1.45"/><circle cx="428.2" cy="349.6" r="1.45"/><circle cx="468.8" cy="378.4" r="1.45"/><circle cx="337.9" cy="386.7" r="1.45"/><circle cx="405.0" cy="330.6" r="1.45"/><circle cx="379.6" cy="301.1" r="1.45"/><circle cx="413.9" cy="334.5" r="1.45"/><circle cx="423.8" cy="361.0" r="1.45"/><circle cx="365.5" cy="362.5" r="1.45"/><circle cx="336.4" cy="333.8" r="1.45"/><circle cx="407.4" cy="364.8" r="1.45"/><circle cx="419.3" cy="342.7" r="1.45"/><circle cx="347.3" cy="333.4" r="1.45"/><circle cx="344.9" cy="327.6" r="1.45"/><circle cx="375.6" cy="300.1" r="1.45"/><circle cx="437.6" cy="337.3" r="1.45"/><circle cx="333.7" cy="382.7" r="1.45"/><circle cx="493.3" cy="379.9" r="1.45"/><circle cx="403.3" cy="335.1" r="1.45"/><circle cx="380.2" cy="345.8" r="1.45"/><circle cx="430.8" cy="348.4" r="1.45"/><circle cx="421.1" cy="322.3" r="1.45"/><circle cx="368.8" cy="339.3" r="1.45"/><circle cx="376.9" cy="343.4" r="1.45"/><circle cx="354.4" cy="344.4" r="1.45"/><circle cx="413.9" cy="365.8" r="1.45"/><circle cx="352.0" cy="351.4" r="1.45"/><circle cx="357.8" cy="350.4" r="1.45"/><circle cx="370.1" cy="338.0" r="1.45"/><circle cx="333.2" cy="326.7" r="1.45"/><circle cx="432.5" cy="378.8" r="1.45"/><circle cx="338.5" cy="357.4" r="1.45"/><circle cx="512.4" cy="383.3" r="1.45"/><circle cx="447.5" cy="385.3" r="1.45"/><circle cx="456.7" cy="375.5" r="1.45"/><circle cx="330.4" cy="375.6" r="1.45"/><circle cx="471.8" cy="367.5" r="1.45"/><circle cx="358.2" cy="371.2" r="1.45"/><circle cx="407.4" cy="321.0" r="1.45"/><circle cx="334.4" cy="391.1" r="1.45"/><circle cx="448.1" cy="356.5" r="1.45"/><circle cx="374.6" cy="357.2" r="1.45"/><circle cx="398.0" cy="368.7" r="1.45"/><circle cx="504.9" cy="378.3" r="1.45"/><circle cx="431.6" cy="366.9" r="1.45"/><circle cx="400.2" cy="323.3" r="1.45"/><circle cx="349.0" cy="335.6" r="1.45"/><circle cx="330.8" cy="394.9" r="1.45"/><circle cx="404.4" cy="375.9" r="1.45"/><circle cx="487.9" cy="384.6" r="1.45"/><circle cx="386.2" cy="293.6" r="1.45"/><circle cx="389.0" cy="340.5" r="1.45"/><circle cx="323.9" cy="380.4" r="1.45"/><circle cx="315.0" cy="393.0" r="1.45"/><circle cx="355.4" cy="377.0" r="1.45"/><circle cx="383.5" cy="317.5" r="1.45"/><circle cx="329.4" cy="380.9" r="1.45"/><circle cx="371.9" cy="320.9" r="1.45"/><circle cx="363.5" cy="393.2" r="1.45"/><circle cx="344.8" cy="365.8" r="1.45"/><circle cx="338.8" cy="380.2" r="1.45"/><circle cx="348.0" cy="324.6" r="1.45"/><circle cx="356.9" cy="364.9" r="1.45"/><circle cx="412.2" cy="325.7" r="1.45"/><circle cx="332.4" cy="370.1" r="1.45"/><circle cx="421.9" cy="360.4" r="1.45"/><circle cx="350.3" cy="313.2" r="1.45"/><circle cx="379.4" cy="296.4" r="1.45"/><circle cx="343.7" cy="389.8" r="1.45"/><circle cx="459.7" cy="387.2" r="1.45"/><circle cx="434.8" cy="355.8" r="1.45"/><circle cx="506.1" cy="365.2" r="1.45"/><circle cx="370.3" cy="322.3" r="1.45"/><circle cx="367.3" cy="378.6" r="1.45"/><circle cx="408.7" cy="337.6" r="1.45"/><circle cx="423.4" cy="334.2" r="1.45"/><circle cx="464.7" cy="357.2" r="1.45"/><circle cx="499.4" cy="360.5" r="1.45"/><circle cx="346.2" cy="327.1" r="1.45"/><circle cx="392.4" cy="376.8" r="1.45"/><circle cx="400.4" cy="386.0" r="1.45"/><circle cx="370.9" cy="369.2" r="1.45"/><circle cx="392.3" cy="328.6" r="1.45"/><circle cx="376.6" cy="350.4" r="1.45"/><circle cx="356.6" cy="387.1" r="1.45"/><circle cx="307.2" cy="377.7" r="1.45"/><circle cx="378.2" cy="344.2" r="1.45"/><circle cx="403.8" cy="381.9" r="1.45"/><circle cx="373.3" cy="372.6" r="1.45"/><circle cx="428.2" cy="320.3" r="1.45"/><circle cx="515.5" cy="370.3" r="1.45"/><circle cx="362.6" cy="354.2" r="1.45"/><circle cx="429.1" cy="370.4" r="1.45"/><circle cx="503.7" cy="348.1" r="1.45"/><circle cx="381.2" cy="380.0" r="1.45"/><circle cx="348.4" cy="334.0" r="1.45"/><circle cx="464.8" cy="352.4" r="1.45"/><circle cx="314.6" cy="384.2" r="1.45"/><circle cx="406.5" cy="376.3" r="1.45"/><circle cx="389.4" cy="382.4" r="1.45"/><circle cx="400.9" cy="328.0" r="1.45"/><circle cx="387.9" cy="374.9" r="1.45"/><circle cx="455.0" cy="380.9" r="1.45"/><circle cx="434.9" cy="363.1" r="1.45"/><circle cx="427.7" cy="322.0" r="1.45"/><circle cx="502.5" cy="364.8" r="1.45"/><circle cx="372.2" cy="334.1" r="1.45"/><circle cx="423.4" cy="351.9" r="1.45"/><circle cx="423.1" cy="372.6" r="1.45"/><circle cx="384.4" cy="341.9" r="1.45"/><circle cx="325.5" cy="396.7" r="1.45"/><circle cx="344.8" cy="346.0" r="1.45"/><circle cx="480.3" cy="361.0" r="1.45"/><circle cx="329.9" cy="376.7" r="1.45"/><circle cx="361.9" cy="302.8" r="1.45"/><circle cx="438.9" cy="325.5" r="1.45"/><circle cx="420.5" cy="341.5" r="1.45"/><circle cx="433.5" cy="332.7" r="1.45"/><circle cx="463.6" cy="384.3" r="1.45"/><circle cx="368.7" cy="386.5" r="1.45"/><circle cx="348.5" cy="355.7" r="1.45"/><circle cx="339.1" cy="360.6" r="1.45"/><circle cx="324.3" cy="350.2" r="1.45"/><circle cx="455.4" cy="350.4" r="1.45"/><circle cx="365.2" cy="351.4" r="1.45"/><circle cx="326.7" cy="317.4" r="1.45"/><circle cx="433.6" cy="340.2" r="1.45"/><circle cx="408.6" cy="327.7" r="1.45"/><circle cx="333.4" cy="334.1" r="1.45"/><circle cx="349.1" cy="416.3" r="1.45"/><circle cx="462.8" cy="361.8" r="1.45"/><circle cx="348.3" cy="329.7" r="1.45"/><circle cx="377.4" cy="369.9" r="1.45"/><circle cx="411.4" cy="368.5" r="1.45"/><circle cx="466.8" cy="334.0" r="1.45"/><circle cx="428.6" cy="357.4" r="1.45"/><circle cx="390.7" cy="364.9" r="1.45"/><circle cx="353.3" cy="353.7" r="1.45"/><circle cx="337.8" cy="356.4" r="1.45"/><circle cx="332.0" cy="369.1" r="1.45"/><circle cx="511.2" cy="360.7" r="1.45"/><circle cx="480.1" cy="373.6" r="1.45"/><circle cx="397.9" cy="332.5" r="1.45"/><circle cx="396.2" cy="373.3" r="1.45"/><circle cx="346.0" cy="358.7" r="1.45"/><circle cx="404.6" cy="304.1" r="1.45"/><circle cx="450.9" cy="382.7" r="1.45"/><circle cx="330.0" cy="336.7" r="1.45"/><circle cx="390.8" cy="325.3" r="1.45"/><circle cx="466.9" cy="357.2" r="1.45"/><circle cx="413.6" cy="380.0" r="1.45"/><circle cx="351.7" cy="340.2" r="1.45"/><circle cx="329.8" cy="395.2" r="1.45"/><circle cx="384.4" cy="347.4" r="1.45"/><circle cx="461.0" cy="372.8" r="1.45"/><circle cx="396.5" cy="322.4" r="1.45"/><circle cx="511.8" cy="356.3" r="1.45"/><circle cx="334.1" cy="321.9" r="1.45"/><circle cx="395.9" cy="333.0" r="1.45"/><circle cx="342.7" cy="392.9" r="1.45"/><circle cx="429.4" cy="343.3" r="1.45"/><circle cx="448.5" cy="334.3" r="1.45"/><circle cx="328.2" cy="335.8" r="1.45"/><circle cx="443.9" cy="346.6" r="1.45"/><circle cx="409.9" cy="322.2" r="1.45"/><circle cx="443.0" cy="356.6" r="1.45"/><circle cx="460.0" cy="347.0" r="1.45"/><circle cx="305.7" cy="386.0" r="1.45"/><circle cx="428.1" cy="338.4" r="1.45"/><circle cx="507.7" cy="355.9" r="1.45"/><circle cx="351.8" cy="328.7" r="1.45"/><circle cx="483.1" cy="337.5" r="1.45"/><circle cx="435.7" cy="347.8" r="1.45"/><circle cx="406.6" cy="321.3" r="1.45"/><circle cx="416.0" cy="323.3" r="1.45"/><circle cx="456.3" cy="361.7" r="1.45"/><circle cx="355.1" cy="380.9" r="1.45"/><circle cx="332.4" cy="326.2" r="1.45"/><circle cx="363.1" cy="385.6" r="1.45"/><circle cx="375.9" cy="389.8" r="1.45"/><circle cx="328.8" cy="365.4" r="1.45"/><circle cx="406.1" cy="346.3" r="1.45"/><circle cx="464.6" cy="362.5" r="1.45"/><circle cx="453.9" cy="349.7" r="1.45"/><circle cx="392.2" cy="350.8" r="1.45"/><circle cx="428.0" cy="369.3" r="1.45"/><circle cx="361.0" cy="367.9" r="1.45"/><circle cx="382.6" cy="388.4" r="1.45"/><circle cx="356.5" cy="355.3" r="1.45"/><circle cx="372.6" cy="377.3" r="1.45"/><circle cx="335.2" cy="329.3" r="1.45"/><circle cx="480.1" cy="351.1" r="1.45"/><circle cx="498.0" cy="345.2" r="1.45"/><circle cx="428.3" cy="364.8" r="1.45"/><circle cx="348.6" cy="377.0" r="1.45"/><circle cx="411.9" cy="384.4" r="1.45"/><circle cx="346.0" cy="323.6" r="1.45"/><circle cx="377.4" cy="307.9" r="1.45"/><circle cx="331.0" cy="346.5" r="1.45"/><circle cx="411.5" cy="312.5" r="1.45"/><circle cx="423.7" cy="355.3" r="1.45"/><circle cx="318.1" cy="357.2" r="1.45"/><circle cx="417.0" cy="348.9" r="1.45"/><circle cx="466.4" cy="357.9" r="1.45"/><circle cx="314.4" cy="389.4" r="1.45"/><circle cx="429.1" cy="377.3" r="1.45"/><circle cx="343.5" cy="327.8" r="1.45"/><circle cx="359.9" cy="286.1" r="1.45"/><circle cx="467.1" cy="386.1" r="1.45"/><circle cx="353.7" cy="380.8" r="1.45"/><circle cx="403.8" cy="339.0" r="1.45"/><circle cx="411.1" cy="381.8" r="1.45"/><circle cx="455.8" cy="341.4" r="1.45"/><circle cx="317.9" cy="360.8" r="1.45"/><circle cx="469.7" cy="351.2" r="1.45"/><circle cx="329.9" cy="321.6" r="1.45"/><circle cx="417.3" cy="319.2" r="1.45"/><circle cx="419.5" cy="339.6" r="1.45"/><circle cx="374.5" cy="306.3" r="1.45"/><circle cx="324.1" cy="361.1" r="1.45"/><circle cx="373.1" cy="324.7" r="1.45"/><circle cx="351.5" cy="397.1" r="1.45"/><circle cx="365.6" cy="341.2" r="1.45"/><circle cx="351.8" cy="329.1" r="1.45"/><circle cx="495.3" cy="349.8" r="1.45"/><circle cx="442.6" cy="343.4" r="1.45"/><circle cx="387.1" cy="342.0" r="1.45"/><circle cx="383.3" cy="345.1" r="1.45"/><circle cx="374.1" cy="364.5" r="1.45"/><circle cx="448.0" cy="371.5" r="1.45"/><circle cx="371.3" cy="326.3" r="1.45"/><circle cx="344.2" cy="337.1" r="1.45"/><circle cx="356.6" cy="387.3" r="1.45"/><circle cx="516.4" cy="353.4" r="1.45"/><circle cx="371.6" cy="306.2" r="1.45"/><circle cx="333.7" cy="373.2" r="1.45"/><circle cx="475.1" cy="367.4" r="1.45"/><circle cx="488.9" cy="379.0" r="1.45"/><circle cx="360.5" cy="334.1" r="1.45"/><circle cx="428.5" cy="375.7" r="1.45"/><circle cx="347.8" cy="374.3" r="1.45"/><circle cx="371.9" cy="385.6" r="1.45"/><circle cx="349.7" cy="394.9" r="1.45"/><circle cx="488.0" cy="376.1" r="1.45"/><circle cx="389.8" cy="301.7" r="1.45"/><circle cx="318.4" cy="386.4" r="1.45"/><circle cx="387.4" cy="376.4" r="1.45"/><circle cx="472.6" cy="372.0" r="1.45"/><circle cx="405.3" cy="302.7" r="1.45"/><circle cx="486.2" cy="363.2" r="1.45"/><circle cx="364.7" cy="337.9" r="1.45"/><circle cx="475.3" cy="361.4" r="1.45"/><circle cx="505.1" cy="370.3" r="1.45"/><circle cx="381.8" cy="293.4" r="1.45"/><circle cx="505.5" cy="347.7" r="1.45"/><circle cx="390.9" cy="349.2" r="1.45"/><circle cx="364.1" cy="351.2" r="1.45"/><circle cx="361.6" cy="360.6" r="1.45"/><circle cx="433.3" cy="363.5" r="1.45"/><circle cx="357.3" cy="397.3" r="1.45"/><circle cx="425.7" cy="365.9" r="1.45"/><circle cx="385.4" cy="362.7" r="1.45"/><circle cx="468.7" cy="351.6" r="1.45"/><circle cx="393.5" cy="315.8" r="1.45"/><circle cx="351.6" cy="338.9" r="1.45"/><circle cx="335.9" cy="405.0" r="1.45"/><circle cx="357.1" cy="315.4" r="1.45"/><circle cx="475.2" cy="354.2" r="1.45"/><circle cx="360.8" cy="334.3" r="1.45"/><circle cx="379.6" cy="371.7" r="1.45"/><circle cx="404.1" cy="365.9" r="1.45"/><circle cx="342.7" cy="321.3" r="1.45"/><circle cx="318.1" cy="365.3" r="1.45"/><circle cx="496.4" cy="383.3" r="1.45"/><circle cx="351.7" cy="365.6" r="1.45"/><circle cx="414.1" cy="368.3" r="1.45"/><circle cx="478.7" cy="366.7" r="1.45"/><circle cx="346.6" cy="370.3" r="1.45"/><circle cx="335.6" cy="340.3" r="1.45"/><circle cx="394.6" cy="321.9" r="1.45"/><circle cx="424.8" cy="367.7" r="1.45"/><circle cx="455.6" cy="340.7" r="1.45"/><circle cx="471.2" cy="345.5" r="1.45"/><circle cx="377.1" cy="355.8" r="1.45"/><circle cx="489.6" cy="377.4" r="1.45"/><circle cx="360.2" cy="383.5" r="1.45"/><circle cx="478.6" cy="380.6" r="1.45"/><circle cx="513.0" cy="358.1" r="1.45"/><circle cx="372.2" cy="381.0" r="1.45"/><circle cx="349.0" cy="306.9" r="1.45"/><circle cx="389.1" cy="350.1" r="1.45"/><circle cx="344.5" cy="309.9" r="1.45"/><circle cx="406.0" cy="321.1" r="1.45"/><circle cx="328.5" cy="348.6" r="1.45"/><circle cx="392.3" cy="381.4" r="1.45"/><circle cx="394.8" cy="375.2" r="1.45"/><circle cx="354.5" cy="310.2" r="1.45"/><circle cx="432.3" cy="364.0" r="1.45"/><circle cx="475.7" cy="348.6" r="1.45"/><circle cx="362.6" cy="313.7" r="1.45"/><circle cx="435.6" cy="322.1" r="1.45"/><circle cx="492.9" cy="365.1" r="1.45"/><circle cx="312.0" cy="393.2" r="1.45"/><circle cx="483.4" cy="385.5" r="1.45"/><circle cx="414.7" cy="365.8" r="1.45"/><circle cx="375.5" cy="366.7" r="1.45"/><circle cx="433.8" cy="328.7" r="1.45"/><circle cx="422.3" cy="364.3" r="1.45"/><circle cx="320.6" cy="385.4" r="1.45"/><circle cx="392.0" cy="362.9" r="1.45"/><circle cx="333.3" cy="327.1" r="1.45"/><circle cx="470.9" cy="384.4" r="1.45"/><circle cx="309.1" cy="400.9" r="1.45"/><circle cx="337.1" cy="323.3" r="1.45"/><circle cx="396.3" cy="338.1" r="1.45"/><circle cx="477.3" cy="346.6" r="1.45"/><circle cx="479.8" cy="355.6" r="1.45"/><circle cx="320.0" cy="372.2" r="1.45"/><circle cx="359.5" cy="354.1" r="1.45"/><circle cx="386.0" cy="348.7" r="1.45"/><circle cx="436.8" cy="353.1" r="1.45"/><circle cx="483.6" cy="345.1" r="1.45"/><circle cx="325.4" cy="367.6" r="1.45"/><circle cx="447.8" cy="369.7" r="1.45"/><circle cx="389.5" cy="348.7" r="1.45"/><circle cx="501.5" cy="345.7" r="1.45"/><circle cx="325.0" cy="335.2" r="1.45"/><circle cx="429.0" cy="354.1" r="1.45"/><circle cx="386.5" cy="338.6" r="1.45"/><circle cx="376.1" cy="300.1" r="1.45"/><circle cx="427.9" cy="384.4" r="1.45"/><circle cx="401.0" cy="307.4" r="1.45"/><circle cx="324.3" cy="371.1" r="1.45"/><circle cx="385.4" cy="377.5" r="1.45"/><circle cx="369.2" cy="319.8" r="1.45"/><circle cx="493.2" cy="343.8" r="1.45"/><circle cx="413.2" cy="336.7" r="1.45"/><circle cx="477.0" cy="366.3" r="1.45"/><circle cx="464.9" cy="383.2" r="1.45"/><circle cx="439.7" cy="348.0" r="1.45"/><circle cx="395.0" cy="357.7" r="1.45"/><circle cx="402.1" cy="380.2" r="1.45"/><circle cx="351.8" cy="312.9" r="1.45"/><circle cx="409.3" cy="322.4" r="1.45"/><circle cx="318.9" cy="393.1" r="1.45"/><circle cx="497.9" cy="374.0" r="1.45"/><circle cx="467.3" cy="359.7" r="1.45"/><circle cx="469.3" cy="361.6" r="1.45"/><circle cx="390.9" cy="336.5" r="1.45"/><circle cx="480.2" cy="351.3" r="1.45"/><circle cx="483.9" cy="352.8" r="1.45"/><circle cx="343.1" cy="378.5" r="1.45"/><circle cx="424.0" cy="368.3" r="1.45"/><circle cx="378.7" cy="351.5" r="1.45"/><circle cx="472.6" cy="373.8" r="1.45"/><circle cx="393.6" cy="351.0" r="1.45"/><circle cx="334.9" cy="337.3" r="1.45"/><circle cx="375.7" cy="351.9" r="1.45"/><circle cx="387.2" cy="374.3" r="1.45"/><circle cx="326.4" cy="394.5" r="1.45"/><circle cx="375.5" cy="329.4" r="1.45"/><circle cx="480.7" cy="367.9" r="1.45"/><circle cx="368.4" cy="360.6" r="1.45"/><circle cx="438.8" cy="372.3" r="1.45"/><circle cx="494.9" cy="365.5" r="1.45"/><circle cx="363.8" cy="359.5" r="1.45"/><circle cx="342.3" cy="337.7" r="1.45"/><circle cx="405.5" cy="338.2" r="1.45"/><circle cx="372.4" cy="301.1" r="1.45"/><circle cx="333.5" cy="394.6" r="1.45"/><circle cx="435.4" cy="323.8" r="1.45"/><circle cx="404.0" cy="316.1" r="1.45"/><circle cx="414.0" cy="316.8" r="1.45"/><circle cx="319.9" cy="357.0" r="1.45"/><circle cx="399.7" cy="328.8" r="1.45"/><circle cx="416.7" cy="325.3" r="1.45"/><circle cx="355.2" cy="355.1" r="1.45"/><circle cx="377.1" cy="365.1" r="1.45"/><circle cx="411.2" cy="376.8" r="1.45"/><circle cx="381.3" cy="353.3" r="1.45"/><circle cx="364.5" cy="350.2" r="1.45"/><circle cx="421.9" cy="357.5" r="1.45"/><circle cx="380.7" cy="305.8" r="1.45"/><circle cx="375.6" cy="327.1" r="1.45"/><circle cx="354.5" cy="338.1" r="1.45"/><circle cx="453.8" cy="363.3" r="1.45"/><circle cx="383.5" cy="334.6" r="1.45"/><circle cx="434.0" cy="362.9" r="1.45"/><circle cx="427.5" cy="377.2" r="1.45"/><circle cx="489.0" cy="352.2" r="1.45"/><circle cx="338.5" cy="322.0" r="1.45"/><circle cx="373.0" cy="356.0" r="1.45"/><circle cx="377.0" cy="345.3" r="1.45"/><circle cx="404.1" cy="369.9" r="1.45"/><circle cx="371.1" cy="361.6" r="1.45"/><circle cx="500.1" cy="387.9" r="1.45"/><circle cx="399.6" cy="332.5" r="1.45"/><circle cx="497.6" cy="372.8" r="1.45"/><circle cx="380.6" cy="302.7" r="1.45"/><circle cx="475.4" cy="387.4" r="1.45"/><circle cx="408.3" cy="364.6" r="1.45"/><circle cx="389.2" cy="365.0" r="1.45"/><circle cx="388.8" cy="331.2" r="1.45"/><circle cx="375.6" cy="351.3" r="1.45"/><circle cx="365.1" cy="342.5" r="1.45"/><circle cx="367.4" cy="298.2" r="1.45"/><circle cx="346.3" cy="403.3" r="1.45"/><circle cx="335.7" cy="368.4" r="1.45"/><circle cx="410.3" cy="390.0" r="1.45"/><circle cx="362.6" cy="339.5" r="1.45"/><circle cx="444.4" cy="354.7" r="1.45"/><circle cx="364.6" cy="377.5" r="1.45"/><circle cx="406.7" cy="363.0" r="1.45"/><circle cx="362.7" cy="322.6" r="1.45"/><circle cx="481.5" cy="378.6" r="1.45"/><circle cx="503.1" cy="352.1" r="1.45"/><circle cx="475.9" cy="379.7" r="1.45"/><circle cx="408.3" cy="355.4" r="1.45"/><circle cx="386.6" cy="296.0" r="1.45"/><circle cx="344.3" cy="344.9" r="1.45"/><circle cx="407.8" cy="349.4" r="1.45"/><circle cx="347.0" cy="355.1" r="1.45"/><circle cx="338.1" cy="351.6" r="1.45"/><circle cx="395.8" cy="370.1" r="1.45"/><circle cx="391.7" cy="327.4" r="1.45"/><circle cx="377.0" cy="381.2" r="1.45"/><circle cx="408.3" cy="355.9" r="1.45"/><circle cx="401.7" cy="294.5" r="1.45"/><circle cx="348.4" cy="385.6" r="1.45"/><circle cx="333.2" cy="379.3" r="1.45"/><circle cx="387.6" cy="352.1" r="1.45"/><circle cx="439.6" cy="381.7" r="1.45"/><circle cx="420.4" cy="324.4" r="1.45"/><circle cx="417.7" cy="348.2" r="1.45"/><circle cx="392.5" cy="368.4" r="1.45"/><circle cx="359.9" cy="370.0" r="1.45"/><circle cx="416.8" cy="317.4" r="1.45"/><circle cx="350.0" cy="387.4" r="1.45"/><circle cx="377.9" cy="339.3" r="1.45"/><circle cx="336.1" cy="313.5" r="1.45"/><circle cx="463.8" cy="351.2" r="1.45"/><circle cx="326.4" cy="356.1" r="1.45"/><circle cx="352.0" cy="391.6" r="1.45"/><circle cx="503.4" cy="381.0" r="1.45"/><circle cx="503.4" cy="369.8" r="1.45"/><circle cx="499.7" cy="358.1" r="1.45"/><circle cx="390.0" cy="344.1" r="1.45"/><circle cx="390.7" cy="345.3" r="1.45"/><circle cx="483.4" cy="384.1" r="1.45"/><circle cx="346.9" cy="356.0" r="1.45"/><circle cx="387.3" cy="348.8" r="1.45"/><circle cx="418.4" cy="388.1" r="1.45"/><circle cx="431.0" cy="358.0" r="1.45"/><circle cx="337.0" cy="349.7" r="1.45"/><circle cx="375.0" cy="332.2" r="1.45"/><circle cx="458.0" cy="345.0" r="1.45"/><circle cx="386.9" cy="304.5" r="1.45"/><circle cx="374.6" cy="347.3" r="1.45"/><circle cx="393.5" cy="330.2" r="1.45"/><circle cx="380.2" cy="327.0" r="1.45"/><circle cx="443.6" cy="368.6" r="1.45"/><circle cx="361.1" cy="368.6" r="1.45"/><circle cx="500.2" cy="355.6" r="1.45"/><circle cx="384.2" cy="359.7" r="1.45"/><circle cx="364.3" cy="360.6" r="1.45"/><circle cx="424.6" cy="384.7" r="1.45"/><circle cx="376.5" cy="314.4" r="1.45"/><circle cx="462.1" cy="361.7" r="1.45"/><circle cx="496.1" cy="348.9" r="1.45"/><circle cx="396.8" cy="359.7" r="1.45"/><circle cx="347.0" cy="385.8" r="1.45"/><circle cx="350.7" cy="343.6" r="1.45"/><circle cx="361.9" cy="299.4" r="1.45"/><circle cx="460.4" cy="335.1" r="1.45"/><circle cx="366.6" cy="317.0" r="1.45"/><circle cx="374.3" cy="367.1" r="1.45"/><circle cx="399.4" cy="356.8" r="1.45"/><circle cx="430.7" cy="342.7" r="1.45"/><circle cx="505.7" cy="355.0" r="1.45"/><circle cx="356.1" cy="346.7" r="1.45"/><circle cx="402.4" cy="315.9" r="1.45"/><circle cx="445.7" cy="338.3" r="1.45"/><circle cx="344.5" cy="386.0" r="1.45"/><circle cx="432.5" cy="369.8" r="1.45"/><circle cx="344.8" cy="313.2" r="1.45"/><circle cx="383.1" cy="333.6" r="1.45"/><circle cx="376.4" cy="297.7" r="1.45"/><circle cx="385.7" cy="327.2" r="1.45"/><circle cx="488.7" cy="381.7" r="1.45"/><circle cx="403.1" cy="364.4" r="1.45"/><circle cx="329.1" cy="361.5" r="1.45"/><circle cx="338.9" cy="370.9" r="1.45"/><circle cx="348.4" cy="354.3" r="1.45"/><circle cx="493.0" cy="377.8" r="1.45"/><circle cx="345.4" cy="349.7" r="1.45"/><circle cx="393.1" cy="312.7" r="1.45"/><circle cx="491.8" cy="367.2" r="1.45"/><circle cx="491.7" cy="362.8" r="1.45"/><circle cx="411.6" cy="379.2" r="1.45"/><circle cx="399.5" cy="318.9" r="1.45"/><circle cx="435.9" cy="343.7" r="1.45"/><circle cx="402.5" cy="319.5" r="1.45"/><circle cx="398.9" cy="337.7" r="1.45"/><circle cx="452.6" cy="345.3" r="1.45"/><circle cx="504.9" cy="353.1" r="1.45"/><circle cx="398.8" cy="372.3" r="1.45"/><circle cx="403.8" cy="380.2" r="1.45"/><circle cx="420.2" cy="372.0" r="1.45"/><circle cx="359.7" cy="369.3" r="1.45"/><circle cx="479.5" cy="367.2" r="1.45"/><circle cx="335.8" cy="330.7" r="1.45"/><circle cx="340.1" cy="369.5" r="1.45"/><circle cx="424.6" cy="385.3" r="1.45"/><circle cx="386.3" cy="369.1" r="1.45"/><circle cx="463.8" cy="376.0" r="1.45"/><circle cx="403.6" cy="358.8" r="1.45"/><circle cx="493.8" cy="363.0" r="1.45"/><circle cx="439.0" cy="346.8" r="1.45"/><circle cx="514.1" cy="372.9" r="1.45"/><circle cx="390.9" cy="345.7" r="1.45"/><circle cx="424.9" cy="361.5" r="1.45"/><circle cx="422.8" cy="321.9" r="1.45"/><circle cx="463.1" cy="369.8" r="1.45"/><circle cx="413.6" cy="321.7" r="1.45"/><circle cx="379.8" cy="346.0" r="1.45"/><circle cx="350.4" cy="349.2" r="1.45"/><circle cx="333.5" cy="343.6" r="1.45"/><circle cx="366.2" cy="395.8" r="1.45"/><circle cx="376.1" cy="316.5" r="1.45"/><circle cx="470.3" cy="379.5" r="1.45"/><circle cx="354.2" cy="316.5" r="1.45"/><circle cx="426.5" cy="352.6" r="1.45"/><circle cx="392.9" cy="339.7" r="1.45"/><circle cx="355.1" cy="365.3" r="1.45"/><circle cx="355.1" cy="321.9" r="1.45"/><circle cx="368.1" cy="317.7" r="1.45"/><circle cx="342.5" cy="390.4" r="1.45"/><circle cx="517.6" cy="368.4" r="1.45"/><circle cx="330.5" cy="356.8" r="1.45"/><circle cx="388.1" cy="368.1" r="1.45"/><circle cx="369.1" cy="347.4" r="1.45"/><circle cx="359.3" cy="321.4" r="1.45"/><circle cx="337.5" cy="341.7" r="1.45"/><circle cx="385.0" cy="365.7" r="1.45"/><circle cx="359.9" cy="333.4" r="1.45"/><circle cx="508.8" cy="378.9" r="1.45"/><circle cx="423.5" cy="330.3" r="1.45"/><circle cx="348.7" cy="349.0" r="1.45"/><circle cx="350.1" cy="308.5" r="1.45"/><circle cx="433.5" cy="365.8" r="1.45"/><circle cx="320.5" cy="394.2" r="1.45"/><circle cx="449.4" cy="331.1" r="1.45"/><circle cx="474.7" cy="369.1" r="1.45"/><circle cx="417.1" cy="341.0" r="1.45"/><circle cx="441.6" cy="373.8" r="1.45"/><circle cx="419.1" cy="387.7" r="1.45"/><circle cx="375.8" cy="331.5" r="1.45"/><circle cx="435.8" cy="346.3" r="1.45"/><circle cx="349.1" cy="339.4" r="1.45"/><circle cx="353.5" cy="370.0" r="1.45"/><circle cx="443.8" cy="346.5" r="1.45"/><circle cx="393.4" cy="319.6" r="1.45"/><circle cx="431.2" cy="378.1" r="1.45"/><circle cx="419.4" cy="372.5" r="1.45"/><circle cx="346.5" cy="331.3" r="1.45"/><circle cx="364.5" cy="332.3" r="1.45"/><circle cx="464.0" cy="372.4" r="1.45"/><circle cx="353.9" cy="335.5" r="1.45"/><circle cx="352.8" cy="323.5" r="1.45"/><circle cx="428.1" cy="387.5" r="1.45"/><circle cx="341.5" cy="367.8" r="1.45"/><circle cx="487.6" cy="353.4" r="1.45"/><circle cx="424.6" cy="323.7" r="1.45"/><circle cx="329.3" cy="365.9" r="1.45"/><circle cx="341.5" cy="383.9" r="1.45"/><circle cx="412.1" cy="328.6" r="1.45"/><circle cx="379.5" cy="331.2" r="1.45"/><circle cx="395.2" cy="315.5" r="1.45"/><circle cx="354.0" cy="363.0" r="1.45"/><circle cx="358.1" cy="395.6" r="1.45"/><circle cx="373.0" cy="323.9" r="1.45"/><circle cx="433.0" cy="332.5" r="1.45"/><circle cx="361.7" cy="347.8" r="1.45"/><circle cx="448.3" cy="355.0" r="1.45"/><circle cx="480.2" cy="382.7" r="1.45"/><circle cx="472.9" cy="372.2" r="1.45"/><circle cx="341.4" cy="359.4" r="1.45"/><circle cx="404.0" cy="328.5" r="1.45"/><circle cx="460.1" cy="365.2" r="1.45"/><circle cx="394.3" cy="313.1" r="1.45"/><circle cx="364.9" cy="351.8" r="1.45"/><circle cx="447.4" cy="381.8" r="1.45"/><circle cx="324.5" cy="385.8" r="1.45"/><circle cx="380.7" cy="333.8" r="1.45"/><circle cx="481.0" cy="341.2" r="1.45"/><circle cx="363.0" cy="310.3" r="1.45"/><circle cx="333.7" cy="391.5" r="1.45"/><circle cx="321.4" cy="374.6" r="1.45"/><circle cx="418.9" cy="351.6" r="1.45"/><circle cx="362.1" cy="362.3" r="1.45"/><circle cx="334.0" cy="324.7" r="1.45"/><circle cx="384.2" cy="364.3" r="1.45"/><circle cx="372.4" cy="321.6" r="1.45"/><circle cx="414.8" cy="333.6" r="1.45"/><circle cx="360.2" cy="342.5" r="1.45"/><circle cx="505.9" cy="346.2" r="1.45"/><circle cx="384.7" cy="329.5" r="1.45"/><circle cx="425.3" cy="371.4" r="1.45"/><circle cx="458.7" cy="347.1" r="1.45"/><circle cx="393.2" cy="317.8" r="1.45"/><circle cx="374.0" cy="333.1" r="1.45"/><circle cx="323.9" cy="392.3" r="1.45"/><circle cx="340.1" cy="312.3" r="1.45"/><circle cx="508.6" cy="384.9" r="1.45"/><circle cx="492.0" cy="357.9" r="1.45"/><circle cx="485.8" cy="350.7" r="1.45"/><circle cx="448.2" cy="336.0" r="1.45"/><circle cx="362.6" cy="334.9" r="1.45"/><circle cx="345.5" cy="366.0" r="1.45"/><circle cx="360.0" cy="349.9" r="1.45"/><circle cx="319.2" cy="377.4" r="1.45"/><circle cx="351.4" cy="372.5" r="1.45"/><circle cx="372.3" cy="309.1" r="1.45"/><circle cx="505.5" cy="382.5" r="1.45"/><circle cx="424.6" cy="337.1" r="1.45"/><circle cx="369.4" cy="390.8" r="1.45"/><circle cx="339.8" cy="316.2" r="1.45"/><circle cx="446.1" cy="365.7" r="1.45"/><circle cx="427.6" cy="337.3" r="1.45"/><circle cx="384.1" cy="308.9" r="1.45"/><circle cx="402.7" cy="310.9" r="1.45"/><circle cx="340.5" cy="374.3" r="1.45"/><circle cx="373.3" cy="358.1" r="1.45"/><circle cx="455.2" cy="366.2" r="1.45"/><circle cx="367.9" cy="326.9" r="1.45"/><circle cx="367.6" cy="321.3" r="1.45"/><circle cx="383.0" cy="312.8" r="1.45"/><circle cx="492.7" cy="358.7" r="1.45"/><circle cx="342.2" cy="318.2" r="1.45"/><circle cx="436.2" cy="383.8" r="1.45"/><circle cx="347.6" cy="328.6" r="1.45"/><circle cx="322.8" cy="393.0" r="1.45"/><circle cx="342.8" cy="312.3" r="1.45"/><circle cx="353.1" cy="358.6" r="1.45"/><circle cx="502.3" cy="383.5" r="1.45"/><circle cx="407.6" cy="354.7" r="1.45"/><circle cx="409.0" cy="376.6" r="1.45"/><circle cx="332.3" cy="342.1" r="1.45"/><circle cx="351.3" cy="311.7" r="1.45"/><circle cx="470.6" cy="364.1" r="1.45"/><circle cx="385.6" cy="344.2" r="1.45"/><circle cx="426.3" cy="341.4" r="1.45"/><circle cx="364.1" cy="373.7" r="1.45"/><circle cx="367.1" cy="311.3" r="1.45"/><circle cx="380.7" cy="328.0" r="1.45"/><circle cx="500.9" cy="370.9" r="1.45"/><circle cx="323.0" cy="329.7" r="1.45"/><circle cx="368.0" cy="344.4" r="1.45"/><circle cx="431.3" cy="344.3" r="1.45"/><circle cx="440.0" cy="365.3" r="1.45"/><circle cx="427.1" cy="376.1" r="1.45"/><circle cx="434.2" cy="363.8" r="1.45"/><circle cx="464.1" cy="379.5" r="1.45"/><circle cx="402.4" cy="333.2" r="1.45"/><circle cx="391.7" cy="309.1" r="1.45"/><circle cx="395.1" cy="385.6" r="1.45"/><circle cx="380.5" cy="336.8" r="1.45"/><circle cx="359.4" cy="303.7" r="1.45"/><circle cx="369.5" cy="343.4" r="1.45"/><circle cx="428.0" cy="314.1" r="1.45"/><circle cx="463.1" cy="345.9" r="1.45"/><circle cx="352.8" cy="328.0" r="1.45"/><circle cx="396.9" cy="385.5" r="1.45"/><circle cx="371.9" cy="301.1" r="1.45"/><circle cx="378.8" cy="320.8" r="1.45"/><circle cx="456.1" cy="351.4" r="1.45"/><circle cx="352.9" cy="356.8" r="1.45"/><circle cx="378.3" cy="350.2" r="1.45"/><circle cx="366.5" cy="330.7" r="1.45"/><circle cx="470.1" cy="381.5" r="1.45"/><circle cx="337.4" cy="338.1" r="1.45"/><circle cx="363.0" cy="341.4" r="1.45"/><circle cx="414.1" cy="330.1" r="1.45"/><circle cx="381.6" cy="330.3" r="1.45"/><circle cx="393.5" cy="345.7" r="1.45"/><circle cx="374.5" cy="358.5" r="1.45"/><circle cx="427.4" cy="361.1" r="1.45"/><circle cx="319.1" cy="355.2" r="1.45"/><circle cx="379.4" cy="297.0" r="1.45"/><circle cx="361.6" cy="331.6" r="1.45"/><circle cx="406.0" cy="372.2" r="1.45"/><circle cx="433.5" cy="345.8" r="1.45"/><circle cx="359.1" cy="386.8" r="1.45"/><circle cx="449.0" cy="339.4" r="1.45"/><circle cx="424.2" cy="342.5" r="1.45"/><circle cx="436.8" cy="346.6" r="1.45"/><circle cx="382.8" cy="357.1" r="1.45"/><circle cx="424.8" cy="363.5" r="1.45"/><circle cx="378.1" cy="352.6" r="1.45"/><circle cx="445.5" cy="366.5" r="1.45"/><circle cx="427.5" cy="325.4" r="1.45"/><circle cx="448.0" cy="379.8" r="1.45"/><circle cx="472.1" cy="362.6" r="1.45"/><circle cx="363.4" cy="380.6" r="1.45"/><circle cx="387.5" cy="361.0" r="1.45"/><circle cx="483.0" cy="373.9" r="1.45"/><circle cx="338.2" cy="402.4" r="1.45"/><circle cx="344.6" cy="380.4" r="1.45"/><circle cx="409.2" cy="321.5" r="1.45"/><circle cx="334.1" cy="319.0" r="1.45"/><circle cx="482.1" cy="365.5" r="1.45"/><circle cx="487.4" cy="386.1" r="1.45"/><circle cx="385.8" cy="324.3" r="1.45"/><circle cx="319.2" cy="388.6" r="1.45"/><circle cx="400.2" cy="341.4" r="1.45"/><circle cx="380.7" cy="346.2" r="1.45"/><circle cx="360.7" cy="356.5" r="1.45"/><circle cx="342.9" cy="341.1" r="1.45"/><circle cx="348.7" cy="307.0" r="1.45"/><circle cx="354.6" cy="347.7" r="1.45"/><circle cx="454.3" cy="363.5" r="1.45"/><circle cx="345.3" cy="345.9" r="1.45"/><circle cx="403.9" cy="343.3" r="1.45"/><circle cx="502.1" cy="357.3" r="1.45"/><circle cx="497.2" cy="367.4" r="1.45"/><circle cx="329.2" cy="333.6" r="1.45"/><circle cx="405.8" cy="320.2" r="1.45"/><circle cx="402.8" cy="369.9" r="1.45"/><circle cx="509.6" cy="359.6" r="1.45"/><circle cx="444.2" cy="338.3" r="1.45"/><circle cx="420.2" cy="385.3" r="1.45"/><circle cx="450.3" cy="360.1" r="1.45"/><circle cx="417.2" cy="361.5" r="1.45"/><circle cx="345.5" cy="337.9" r="1.45"/><circle cx="356.3" cy="362.9" r="1.45"/><circle cx="491.5" cy="376.0" r="1.45"/><circle cx="401.8" cy="308.4" r="1.45"/><circle cx="433.4" cy="337.6" r="1.45"/><circle cx="444.2" cy="349.1" r="1.45"/><circle cx="438.1" cy="363.8" r="1.45"/><circle cx="383.6" cy="352.4" r="1.45"/><circle cx="350.3" cy="311.2" r="1.45"/><circle cx="356.0" cy="375.6" r="1.45"/><circle cx="327.0" cy="340.4" r="1.45"/><circle cx="387.4" cy="325.5" r="1.45"/><circle cx="344.3" cy="294.3" r="1.45"/><circle cx="408.3" cy="354.5" r="1.45"/><circle cx="356.9" cy="356.5" r="1.45"/><circle cx="426.2" cy="382.1" r="1.45"/><circle cx="400.4" cy="281.8" r="1.45"/><circle cx="365.6" cy="383.4" r="1.45"/><circle cx="384.8" cy="385.8" r="1.45"/><circle cx="327.5" cy="361.1" r="1.45"/><circle cx="399.8" cy="367.9" r="1.45"/><circle cx="365.5" cy="359.2" r="1.45"/><circle cx="423.4" cy="332.9" r="1.45"/><circle cx="416.4" cy="337.8" r="1.45"/><circle cx="432.4" cy="379.6" r="1.45"/><circle cx="324.5" cy="351.8" r="1.45"/><circle cx="339.9" cy="307.5" r="1.45"/><circle cx="372.4" cy="377.1" r="1.45"/><circle cx="440.1" cy="366.3" r="1.45"/><circle cx="369.7" cy="352.1" r="1.45"/><circle cx="406.3" cy="361.4" r="1.45"/><circle cx="442.9" cy="326.2" r="1.45"/><circle cx="359.6" cy="315.9" r="1.45"/><circle cx="399.3" cy="350.4" r="1.45"/><circle cx="402.4" cy="310.4" r="1.45"/><circle cx="434.7" cy="374.2" r="1.45"/><circle cx="462.5" cy="345.0" r="1.45"/><circle cx="488.6" cy="366.8" r="1.45"/><circle cx="458.5" cy="343.9" r="1.45"/><circle cx="426.6" cy="346.4" r="1.45"/><circle cx="394.1" cy="331.1" r="1.45"/><circle cx="422.8" cy="327.4" r="1.45"/><circle cx="504.6" cy="355.3" r="1.45"/><circle cx="496.3" cy="368.2" r="1.45"/><circle cx="414.5" cy="322.7" r="1.45"/><circle cx="380.2" cy="329.9" r="1.45"/><circle cx="350.3" cy="386.9" r="1.45"/><circle cx="343.3" cy="369.8" r="1.45"/><circle cx="380.0" cy="337.6" r="1.45"/><circle cx="365.2" cy="353.2" r="1.45"/><circle cx="335.2" cy="388.9" r="1.45"/><circle cx="423.4" cy="321.2" r="1.45"/><circle cx="417.3" cy="370.4" r="1.45"/><circle cx="414.6" cy="350.7" r="1.45"/><circle cx="432.5" cy="337.4" r="1.45"/><circle cx="433.7" cy="321.8" r="1.45"/><circle cx="316.1" cy="363.8" r="1.45"/><circle cx="494.5" cy="368.4" r="1.45"/><circle cx="516.6" cy="359.3" r="1.45"/><circle cx="430.7" cy="365.2" r="1.45"/><circle cx="470.5" cy="374.7" r="1.45"/><circle cx="352.8" cy="300.7" r="1.45"/><circle cx="373.2" cy="338.4" r="1.45"/><circle cx="483.0" cy="354.2" r="1.45"/><circle cx="436.8" cy="354.4" r="1.45"/><circle cx="429.5" cy="334.4" r="1.45"/><circle cx="334.4" cy="392.4" r="1.45"/><circle cx="413.2" cy="347.7" r="1.45"/><circle cx="382.7" cy="348.8" r="1.45"/><circle cx="324.4" cy="398.5" r="1.45"/><circle cx="481.4" cy="361.4" r="1.45"/><circle cx="383.5" cy="342.6" r="1.45"/><circle cx="348.3" cy="362.6" r="1.45"/><circle cx="341.4" cy="330.5" r="1.45"/><circle cx="347.0" cy="377.1" r="1.45"/><circle cx="399.0" cy="314.7" r="1.45"/><circle cx="379.1" cy="385.7" r="1.45"/><circle cx="399.0" cy="341.2" r="1.45"/><circle cx="506.4" cy="368.2" r="1.45"/><circle cx="373.7" cy="317.0" r="1.45"/><circle cx="481.9" cy="368.8" r="1.45"/><circle cx="446.5" cy="361.8" r="1.45"/><circle cx="472.5" cy="373.9" r="1.45"/><circle cx="449.3" cy="354.2" r="1.45"/><circle cx="450.1" cy="361.9" r="1.45"/><circle cx="355.4" cy="360.9" r="1.45"/><circle cx="351.4" cy="363.4" r="1.45"/><circle cx="449.7" cy="340.3" r="1.45"/><circle cx="453.5" cy="376.5" r="1.45"/><circle cx="351.8" cy="349.2" r="1.45"/><circle cx="430.3" cy="337.0" r="1.45"/><circle cx="460.8" cy="346.0" r="1.45"/><circle cx="380.9" cy="339.6" r="1.45"/><circle cx="376.7" cy="316.1" r="1.45"/><circle cx="453.7" cy="359.3" r="1.45"/><circle cx="485.9" cy="377.8" r="1.45"/><circle cx="479.6" cy="335.4" r="1.45"/><circle cx="404.1" cy="354.6" r="1.45"/><circle cx="467.7" cy="344.3" r="1.45"/><circle cx="362.9" cy="317.2" r="1.45"/><circle cx="463.5" cy="347.3" r="1.45"/><circle cx="390.4" cy="319.0" r="1.45"/><circle cx="424.3" cy="376.1" r="1.45"/><circle cx="422.1" cy="333.7" r="1.45"/><circle cx="480.6" cy="356.3" r="1.45"/><circle cx="331.7" cy="337.2" r="1.45"/><circle cx="346.3" cy="366.6" r="1.45"/><circle cx="439.0" cy="371.3" r="1.45"/><circle cx="505.1" cy="360.3" r="1.45"/><circle cx="368.0" cy="331.5" r="1.45"/><circle cx="404.0" cy="380.9" r="1.45"/><circle cx="360.5" cy="337.3" r="1.45"/><circle cx="357.6" cy="363.9" r="1.45"/><circle cx="346.0" cy="390.5" r="1.45"/><circle cx="470.8" cy="342.0" r="1.45"/><circle cx="347.4" cy="355.2" r="1.45"/><circle cx="346.1" cy="378.5" r="1.45"/><circle cx="326.8" cy="400.2" r="1.45"/><circle cx="348.5" cy="319.7" r="1.45"/><circle cx="380.3" cy="366.9" r="1.45"/><circle cx="367.0" cy="394.1" r="1.45"/><circle cx="475.8" cy="343.7" r="1.45"/><circle cx="328.6" cy="344.1" r="1.45"/><circle cx="499.2" cy="380.5" r="1.45"/><circle cx="380.9" cy="341.4" r="1.45"/><circle cx="349.5" cy="365.1" r="1.45"/><circle cx="472.9" cy="360.5" r="1.45"/><circle cx="320.9" cy="391.8" r="1.45"/><circle cx="335.6" cy="358.3" r="1.45"/><circle cx="434.0" cy="353.5" r="1.45"/><circle cx="342.5" cy="342.4" r="1.45"/><circle cx="327.0" cy="380.9" r="1.45"/><circle cx="382.4" cy="326.4" r="1.45"/><circle cx="347.3" cy="368.2" r="1.45"/><circle cx="334.7" cy="317.8" r="1.45"/><circle cx="378.6" cy="387.1" r="1.45"/><circle cx="320.5" cy="352.0" r="1.45"/><circle cx="410.8" cy="349.4" r="1.45"/><circle cx="385.1" cy="374.8" r="1.45"/><circle cx="346.8" cy="357.0" r="1.45"/><circle cx="365.7" cy="359.9" r="1.45"/><circle cx="429.5" cy="362.7" r="1.45"/><circle cx="392.6" cy="371.0" r="1.45"/><circle cx="403.5" cy="343.9" r="1.45"/><circle cx="474.3" cy="365.5" r="1.45"/><circle cx="445.2" cy="350.4" r="1.45"/><circle cx="340.1" cy="325.8" r="1.45"/><circle cx="421.5" cy="318.7" r="1.45"/><circle cx="453.8" cy="343.4" r="1.45"/><circle cx="382.7" cy="341.2" r="1.45"/><circle cx="499.3" cy="397.5" r="1.45"/><circle cx="515.8" cy="377.3" r="1.45"/><circle cx="374.2" cy="305.3" r="1.45"/><circle cx="420.2" cy="326.2" r="1.45"/><circle cx="389.2" cy="311.2" r="1.45"/><circle cx="322.6" cy="361.9" r="1.45"/><circle cx="410.6" cy="322.0" r="1.45"/><circle cx="440.1" cy="369.4" r="1.45"/><circle cx="356.9" cy="371.3" r="1.45"/><circle cx="409.7" cy="368.9" r="1.45"/><circle cx="410.7" cy="327.7" r="1.45"/><circle cx="365.4" cy="314.7" r="1.45"/><circle cx="404.3" cy="327.1" r="1.45"/><circle cx="410.4" cy="330.0" r="1.45"/><circle cx="450.0" cy="379.0" r="1.45"/><circle cx="445.8" cy="378.1" r="1.45"/><circle cx="372.1" cy="384.1" r="1.45"/><circle cx="355.3" cy="359.1" r="1.45"/><circle cx="385.4" cy="387.4" r="1.45"/><circle cx="356.1" cy="354.2" r="1.45"/><circle cx="452.6" cy="335.8" r="1.45"/><circle cx="417.0" cy="348.3" r="1.45"/><circle cx="418.2" cy="353.9" r="1.45"/><circle cx="499.5" cy="378.2" r="1.45"/><circle cx="445.5" cy="350.1" r="1.45"/><circle cx="477.9" cy="345.3" r="1.45"/><circle cx="390.1" cy="323.4" r="1.45"/><circle cx="330.2" cy="360.6" r="1.45"/><circle cx="343.8" cy="362.1" r="1.45"/><circle cx="447.7" cy="375.4" r="1.45"/><circle cx="434.9" cy="326.3" r="1.45"/><circle cx="368.8" cy="303.4" r="1.45"/><circle cx="360.2" cy="351.9" r="1.45"/><circle cx="492.9" cy="374.4" r="1.45"/><circle cx="436.4" cy="335.0" r="1.45"/><circle cx="508.0" cy="358.7" r="1.45"/><circle cx="412.2" cy="374.2" r="1.45"/><circle cx="389.9" cy="345.8" r="1.45"/><circle cx="417.9" cy="321.5" r="1.45"/><circle cx="323.6" cy="365.0" r="1.45"/><circle cx="508.3" cy="362.2" r="1.45"/><circle cx="372.5" cy="369.6" r="1.45"/><circle cx="345.4" cy="348.6" r="1.45"/><circle cx="316.2" cy="388.6" r="1.45"/><circle cx="373.7" cy="350.2" r="1.45"/><circle cx="348.2" cy="343.1" r="1.45"/><circle cx="352.2" cy="312.0" r="1.45"/><circle cx="447.9" cy="377.0" r="1.45"/><circle cx="336.3" cy="348.1" r="1.45"/><circle cx="360.9" cy="251.8" r="1.45"/><circle cx="359.0" cy="259.0" r="1.45"/><circle cx="357.6" cy="261.5" r="1.45"/><circle cx="365.5" cy="262.2" r="1.45"/><circle cx="366.0" cy="270.5" r="1.45"/><circle cx="369.0" cy="274.2" r="1.45"/><circle cx="349.5" cy="275.5" r="1.45"/><circle cx="366.4" cy="281.5" r="1.45"/><circle cx="350.0" cy="281.5" r="1.45"/><circle cx="353.0" cy="285.0" r="1.45"/><circle cx="347.0" cy="288.0" r="1.45"/><circle cx="372.0" cy="284.0" r="1.45"/><circle cx="341.0" cy="286.0" r="1.45"/><circle cx="383.0" cy="283.0" r="1.45"/><circle cx="395.0" cy="290.0" r="1.45"/><circle cx="406.0" cy="293.0" r="1.45"/></g>
<path d="M339.0,322.0 L345.7,319.7 L352.3,330.7 L347.9,350.5 L339.0,363.8 L330.2,374.8 L323.6,379.2 L319.2,372.6 L323.6,355.0 L332.4,333.0Z" fill="#6a0030" opacity="0.85" filter="url(#haloblur)"/>
<path d="M338.3,329.5 L342.9,325.5 L349.2,331.8 L348.5,344.8 L342.2,356.3 L334.6,367.3 L329.0,375.6 L322.9,378.0 L320.6,372.4 L326.2,355.2 L331.8,341.4 L336.0,333.0Z" fill="#0a0003" filter="url(#coreblur)"/>
<ellipse cx="360.6" cy="264.8" rx="25.5" ry="14.6" fill="none" stroke="#111" stroke-width="1.3"/>
<ellipse cx="331.3" cy="397" rx="27" ry="14" transform="rotate(35 331.3 397)" fill="none" stroke="#111" stroke-width="1.3"/>
<ellipse cx="507" cy="371.3" rx="14.5" ry="25.5" transform="rotate(8 507 371.3)" fill="none" stroke="#111" stroke-width="1.3"/>
<text transform="translate(394.1,268.8) scale(1,1.15)" class="cand">Candidate  endmember  pixels</text>
<text x="512.2" y="422.4" class="pl">(d)</text>
<text x="416" y="456.8" text-anchor="middle" class="xt">original image projected onto the 1st eigenvector</text>
<text transform="translate(270.2,332) rotate(-90)" text-anchor="middle" class="xt">original image projected onto the 2nd eigenvector</text>
<path d="M72.5,63 L277.8,32.4" stroke="#ee1c1c" stroke-width="1.5" stroke-dasharray="4.5,3" fill="none" marker-end="url(#ah)"/>
<path d="M72.5,63 L293.6,217.8" stroke="#ee1c1c" stroke-width="1.5" stroke-dasharray="4.5,3" fill="none" marker-end="url(#ah)"/>
<path d="M71.5,63 L77,60 L76.5,66 Z" fill="#ee1c1c"/>
</svg></body></html>
